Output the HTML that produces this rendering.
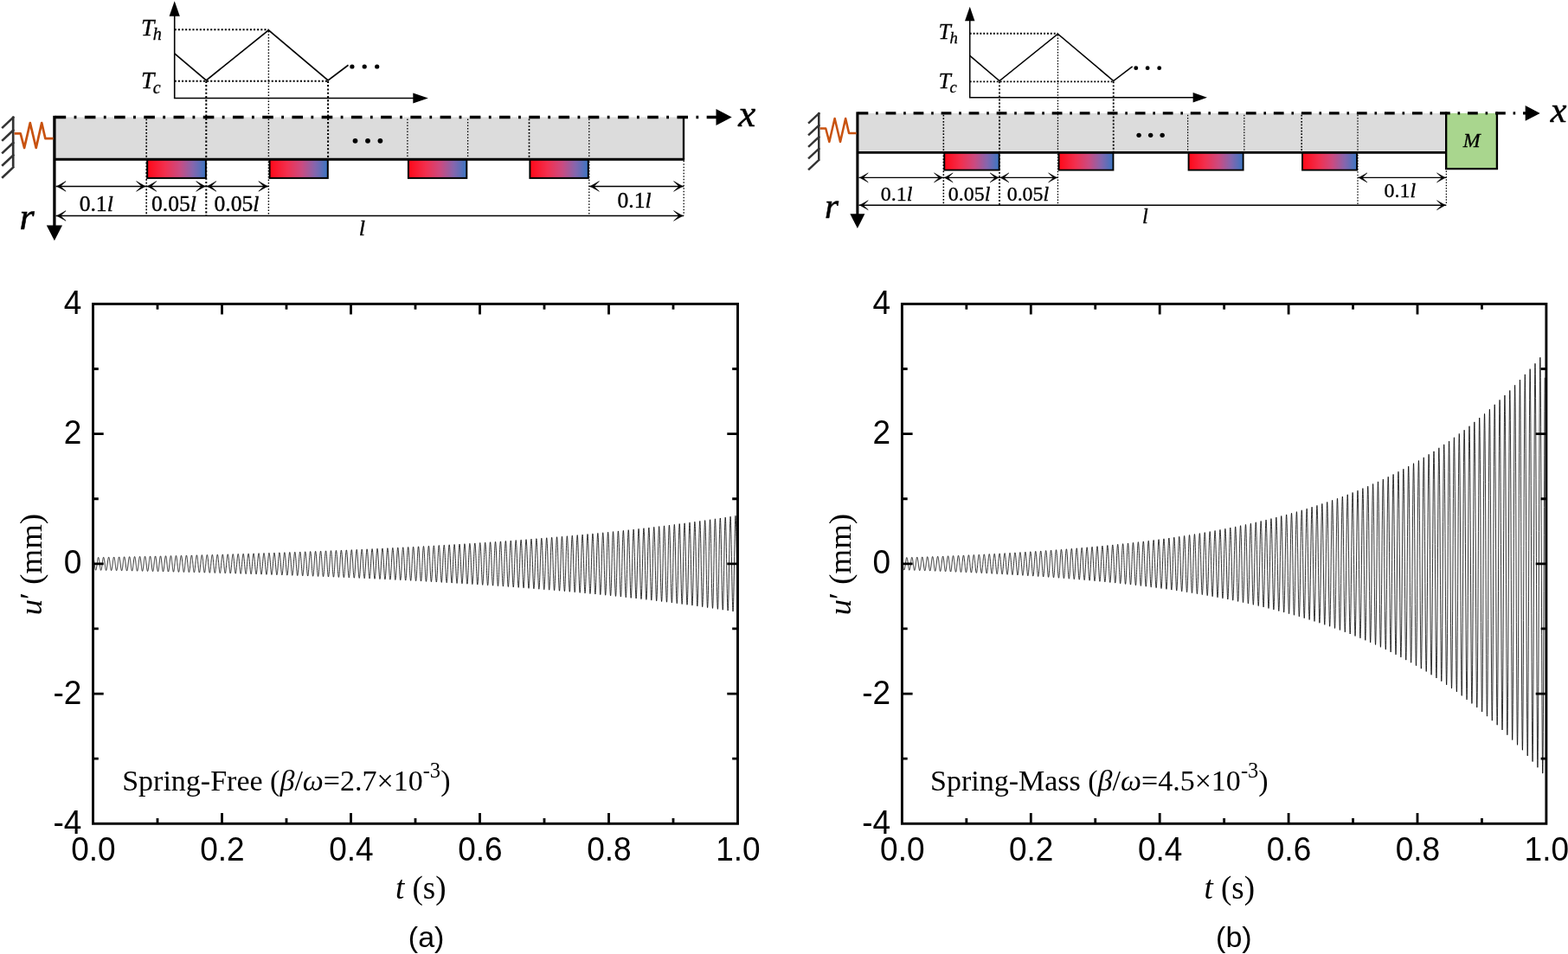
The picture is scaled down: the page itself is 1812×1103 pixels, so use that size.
<!DOCTYPE html>
<html lang="en"><head><meta charset="utf-8"><title>Spring-Free and Spring-Mass oscillation growth</title>
<style>html,body{margin:0;padding:0;background:#fff;overflow:hidden}svg{display:block}text{fill:#000}</style></head><body>
<svg width="1812" height="1103" viewBox="0 0 1812 1103">
<defs><linearGradient id="rb" x1="0" y1="0" x2="1" y2="0"><stop offset="0" stop-color="#ff0818"/><stop offset="0.3" stop-color="#f22f4e"/><stop offset="0.55" stop-color="#cc4a80"/><stop offset="0.78" stop-color="#8566ae"/><stop offset="1" stop-color="#3a76c2"/></linearGradient></defs>
<rect width="1812" height="1103" fill="#fff"/>
<g id="diagram1">
<rect x="62.9" y="135.5" width="727.1" height="48.7" fill="#dcdcdc"/>
<line x1="201.7" y1="113.5" x2="201.7" y2="16" stroke="#000" stroke-width="1.6" />
<polygon points="201.7,1.3 195.6,18.8 207.8,18.8" fill="#000"/>
<line x1="200.9" y1="113.5" x2="479" y2="113.5" stroke="#000" stroke-width="1.6" />
<polygon points="494.8,113.5 477.3,107.4 477.3,119.6" fill="#000"/>
<line x1="201.7" y1="34.3" x2="310.4" y2="34.3" stroke="#000" stroke-width="2" stroke-dasharray="2.05 2.1"/>
<line x1="201.7" y1="93.8" x2="379.1" y2="93.8" stroke="#000" stroke-width="2" stroke-dasharray="2.05 2.1"/>
<polyline fill="none" stroke="#000" stroke-width="1.7" stroke-linejoin="miter" points="201.7,61.8 238.3,92.9 310.4,34.8 379.1,92.9 402.5,75.2"/>
<circle cx="406.9" cy="77" r="2.6" fill="#000"/>
<circle cx="421.2" cy="77" r="2.6" fill="#000"/>
<circle cx="435.7" cy="77" r="2.6" fill="#000"/>
<text x="163" y="40.8" font-family='"Liberation Serif", "DejaVu Serif", serif' font-style="italic" font-size="27.5" stroke="#000" stroke-width="0.3">T<tspan font-size="20" dx="-1.5" dy="5.6">h</tspan></text>
<text x="163" y="102" font-family='"Liberation Serif", "DejaVu Serif", serif' font-style="italic" font-size="27.5" stroke="#000" stroke-width="0.3">T<tspan font-size="20" dx="-1.5" dy="5.6">c</tspan></text>
<line x1="169.2" y1="137.5" x2="169.2" y2="249" stroke="#000" stroke-width="1.65" stroke-dasharray="1.85 2"/>
<line x1="238.3" y1="93.8" x2="238.3" y2="249" stroke="#000" stroke-width="2" stroke-dasharray="2.1 2.2"/>
<line x1="310.4" y1="36" x2="310.4" y2="249" stroke="#000" stroke-width="1.4" stroke-dasharray="1.6 1.9"/>
<line x1="379.1" y1="93.8" x2="379.1" y2="184.2" stroke="#000" stroke-width="2" stroke-dasharray="2.1 2.2"/>
<line x1="470.9" y1="137.5" x2="470.9" y2="184.2" stroke="#000" stroke-width="1.3" stroke-dasharray="1.6 1.9"/>
<line x1="540.6" y1="137.5" x2="540.6" y2="184.2" stroke="#000" stroke-width="1.3" stroke-dasharray="1.6 1.9"/>
<line x1="611.5" y1="137.5" x2="611.5" y2="184.2" stroke="#000" stroke-width="1.65" stroke-dasharray="1.85 2"/>
<line x1="680.8" y1="137.5" x2="680.8" y2="249" stroke="#000" stroke-width="1.3" stroke-dasharray="1.6 1.9"/>
<line x1="790.2" y1="185.7" x2="790.2" y2="249" stroke="#000" stroke-width="1.3" stroke-dasharray="1.6 1.9"/>
<rect x="170.2" y="184.2" width="67.7" height="21.7" fill="url(#rb)" stroke="#000" stroke-width="2"/>
<rect x="311.6" y="184.2" width="67.2" height="21.7" fill="url(#rb)" stroke="#000" stroke-width="2"/>
<rect x="471.9" y="184.2" width="67.4" height="21.7" fill="url(#rb)" stroke="#000" stroke-width="2"/>
<rect x="612.4" y="184.2" width="67.4" height="21.7" fill="url(#rb)" stroke="#000" stroke-width="2"/>
<line x1="62.9" y1="184.2" x2="791.1" y2="184.2" stroke="#000" stroke-width="3" />
<line x1="790" y1="135.5" x2="790" y2="184.2" stroke="#000" stroke-width="2.3" />
<circle cx="410.5" cy="162.8" r="2.9" fill="#000"/>
<circle cx="425" cy="162.8" r="2.9" fill="#000"/>
<circle cx="439.4" cy="162.8" r="2.9" fill="#000"/>
<line x1="63.6" y1="135.5" x2="828.5" y2="135.5" stroke="#000" stroke-width="3.5" stroke-dasharray="12.6 9.4 2.8 9.43"/>
<polygon points="845.7,135.5 827.5,125.9 827.5,145.1" fill="#000"/>
<text x="853.2" y="145.9" font-family='"Liberation Serif", "DejaVu Serif", serif' font-style="italic" font-size="45" stroke="#000" stroke-width="0.5">x</text>
<line x1="62.9" y1="133.8" x2="62.9" y2="262" stroke="#000" stroke-width="3.3" />
<polygon points="62.9,278.3 53.8,260.4 72,260.4" fill="#000"/>
<text x="22.5" y="265" font-family='"Liberation Serif", "DejaVu Serif", serif' font-style="italic" font-size="44" stroke="#000" stroke-width="0.6">r</text>
<line x1="15.2" y1="134.6" x2="15.2" y2="192.8" stroke="#333" stroke-width="2.7" />
<line x1="16.2" y1="134.9" x2="2.2" y2="148.1" stroke="#333" stroke-width="2.6" />
<line x1="16.2" y1="149.7" x2="2.2" y2="162.9" stroke="#333" stroke-width="2.6" />
<line x1="16.2" y1="164.2" x2="2.2" y2="177.4" stroke="#333" stroke-width="2.6" />
<line x1="16.2" y1="178.6" x2="2.2" y2="191.8" stroke="#333" stroke-width="2.6" />
<line x1="16.2" y1="192.6" x2="2.2" y2="205.8" stroke="#333" stroke-width="2.6" />
<polyline fill="none" stroke="#c8520f" stroke-width="2.7" stroke-linejoin="round" points="16.6,154.4 23.7,154.4 28.1,171 34.8,142.1 41.7,171 48.2,142.1 52.4,160.2 61.5,160.2"/>
<line x1="64.5" y1="215.4" x2="169.2" y2="215.4" stroke="#000" stroke-width="1.5" />
<polygon fill="#000" stroke="#000" stroke-width="0.6" stroke-linejoin="miter" points="65.8,215.4 76.1,209.6 70,215.4 76.1,221.2"/>
<polygon fill="#000" stroke="#000" stroke-width="0.6" stroke-linejoin="miter" points="167.9,215.4 157.6,209.6 163.7,215.4 157.6,221.2"/>
<line x1="169.2" y1="215.4" x2="238.3" y2="215.4" stroke="#000" stroke-width="1.5" />
<polygon fill="#000" stroke="#000" stroke-width="0.6" stroke-linejoin="miter" points="170.5,215.4 180.8,209.6 174.7,215.4 180.8,221.2"/>
<polygon fill="#000" stroke="#000" stroke-width="0.6" stroke-linejoin="miter" points="237,215.4 226.7,209.6 232.8,215.4 226.7,221.2"/>
<line x1="238.3" y1="215.4" x2="310.4" y2="215.4" stroke="#000" stroke-width="1.5" />
<polygon fill="#000" stroke="#000" stroke-width="0.6" stroke-linejoin="miter" points="239.6,215.4 249.9,209.6 243.8,215.4 249.9,221.2"/>
<polygon fill="#000" stroke="#000" stroke-width="0.6" stroke-linejoin="miter" points="309.1,215.4 298.8,209.6 304.9,215.4 298.8,221.2"/>
<line x1="680.8" y1="215.4" x2="790.2" y2="215.4" stroke="#000" stroke-width="1.5" />
<polygon fill="#000" stroke="#000" stroke-width="0.6" stroke-linejoin="miter" points="682.1,215.4 692.4,209.6 686.3,215.4 692.4,221.2"/>
<polygon fill="#000" stroke="#000" stroke-width="0.6" stroke-linejoin="miter" points="788.9,215.4 778.6,209.6 784.7,215.4 778.6,221.2"/>
<line x1="64.5" y1="249.5" x2="790.2" y2="249.5" stroke="#000" stroke-width="1.5" />
<polygon fill="#000" stroke="#000" stroke-width="0.6" stroke-linejoin="miter" points="65.8,249.5 76.1,243.7 70,249.5 76.1,255.3"/>
<polygon fill="#000" stroke="#000" stroke-width="0.6" stroke-linejoin="miter" points="788.9,249.5 778.6,243.7 784.7,249.5 778.6,255.3"/>
<text x="111.2" y="243.6" text-anchor="middle" font-family='"Liberation Serif", "DejaVu Serif", serif' font-size="25.6" stroke="#000" stroke-width="0.35">0.1<tspan font-style="italic">l</tspan></text>
<text x="201" y="243.6" text-anchor="middle" font-family='"Liberation Serif", "DejaVu Serif", serif' font-size="25.6" stroke="#000" stroke-width="0.35">0.05<tspan font-style="italic">l</tspan></text>
<text x="273.5" y="243.6" text-anchor="middle" font-family='"Liberation Serif", "DejaVu Serif", serif' font-size="25.6" stroke="#000" stroke-width="0.35">0.05<tspan font-style="italic">l</tspan></text>
<text x="733" y="240.1" text-anchor="middle" font-family='"Liberation Serif", "DejaVu Serif", serif' font-size="25.6" stroke="#000" stroke-width="0.35">0.1<tspan font-style="italic">l</tspan></text>
<text x="418.3" y="271.5" text-anchor="middle" font-family='"Liberation Serif", "DejaVu Serif", serif' font-size="26" stroke="#000" stroke-width="0.35"><tspan font-style="italic">l</tspan></text>
</g>
<g id="diagram2">
<rect x="990.9" y="130.9" width="680.27" height="45.56" fill="#dcdcdc"/>
<line x1="1120.76" y1="112.79" x2="1120.76" y2="21.57" stroke="#000" stroke-width="1.5" />
<polygon points="1120.76,7.82 1115.05,24.19 1126.47,24.19" fill="#000"/>
<line x1="1120.01" y1="112.79" x2="1380.2" y2="112.79" stroke="#000" stroke-width="1.5" />
<polygon points="1394.98,112.79 1378.61,107.08 1378.61,118.5" fill="#000"/>
<line x1="1120.76" y1="38.69" x2="1222.46" y2="38.69" stroke="#000" stroke-width="1.87" stroke-dasharray="1.92 1.96"/>
<line x1="1120.76" y1="94.36" x2="1286.74" y2="94.36" stroke="#000" stroke-width="1.87" stroke-dasharray="1.92 1.96"/>
<polyline fill="none" stroke="#000" stroke-width="1.59" stroke-linejoin="miter" points="1120.76,64.42 1155,93.52 1222.46,39.16 1286.74,93.52 1308.63,76.96"/>
<circle cx="1312.75" cy="78.64" r="2.43" fill="#000"/>
<circle cx="1326.12" cy="78.64" r="2.43" fill="#000"/>
<circle cx="1339.69" cy="78.64" r="2.43" fill="#000"/>
<text x="1084.55" y="44.77" font-family='"Liberation Serif", "DejaVu Serif", serif' font-style="italic" font-size="25.73" stroke="#000" stroke-width="0.28">T<tspan font-size="18.71" dx="-1.4" dy="5.24">h</tspan></text>
<text x="1084.55" y="102.03" font-family='"Liberation Serif", "DejaVu Serif", serif' font-style="italic" font-size="25.73" stroke="#000" stroke-width="0.28">T<tspan font-size="18.71" dx="-1.4" dy="5.24">c</tspan></text>
<line x1="1090.35" y1="132.77" x2="1090.35" y2="236.74" stroke="#000" stroke-width="1.54" stroke-dasharray="1.73 1.87"/>
<line x1="1155" y1="94.36" x2="1155" y2="236.74" stroke="#000" stroke-width="1.87" stroke-dasharray="1.96 2.06"/>
<line x1="1222.46" y1="40.28" x2="1222.46" y2="236.74" stroke="#000" stroke-width="1.31" stroke-dasharray="1.5 1.78"/>
<line x1="1286.74" y1="94.36" x2="1286.74" y2="176.32" stroke="#000" stroke-width="1.87" stroke-dasharray="1.96 2.06"/>
<line x1="1372.62" y1="132.77" x2="1372.62" y2="176.32" stroke="#000" stroke-width="1.22" stroke-dasharray="1.5 1.78"/>
<line x1="1437.84" y1="132.77" x2="1437.84" y2="176.32" stroke="#000" stroke-width="1.22" stroke-dasharray="1.5 1.78"/>
<line x1="1504.17" y1="132.77" x2="1504.17" y2="176.32" stroke="#000" stroke-width="1.54" stroke-dasharray="1.73 1.87"/>
<line x1="1569.01" y1="132.77" x2="1569.01" y2="236.74" stroke="#000" stroke-width="1.22" stroke-dasharray="1.5 1.78"/>
<line x1="1671.36" y1="177.72" x2="1671.36" y2="236.74" stroke="#000" stroke-width="1.22" stroke-dasharray="1.5 1.78"/>
<rect x="1091.29" y="176.32" width="63.34" height="20.3" fill="url(#rb)" stroke="#000" stroke-width="1.87"/>
<rect x="1223.58" y="176.32" width="62.87" height="20.3" fill="url(#rb)" stroke="#000" stroke-width="1.87"/>
<rect x="1373.56" y="176.32" width="63.06" height="20.3" fill="url(#rb)" stroke="#000" stroke-width="1.87"/>
<rect x="1505.01" y="176.32" width="63.06" height="20.3" fill="url(#rb)" stroke="#000" stroke-width="1.87"/>
<line x1="990.9" y1="176.32" x2="1671.17" y2="176.32" stroke="#000" stroke-width="2.71" />
<rect x="1671.17" y="130.9" width="58.76" height="64.37" fill="#a9d68e"/>
<polyline fill="none" stroke="#000" stroke-width="2.34" stroke-linejoin="miter" points="1671.17,129.32 1671.17,195.06 1729.93,195.06 1729.93,129.32"/>
<text x="1700.74" y="169.98" text-anchor="middle" font-family='"Liberation Serif", "DejaVu Serif", serif' font-style="italic" font-size="23.86" stroke="#000" stroke-width="0.28">M</text>
<circle cx="1316.11" cy="156.36" r="2.71" fill="#000"/>
<circle cx="1329.68" cy="156.36" r="2.71" fill="#000"/>
<circle cx="1343.15" cy="156.36" r="2.71" fill="#000"/>
<line x1="991.55" y1="130.9" x2="1764.27" y2="130.9" stroke="#000" stroke-width="3.27" stroke-dasharray="11.79 8.79 2.62 8.82"/>
<polygon points="1779.7,130.9 1762.68,121.95 1762.68,139.86" fill="#000"/>
<text x="1791.87" y="140.6" font-family='"Liberation Serif", "DejaVu Serif", serif' font-style="italic" font-size="42.1" stroke="#000" stroke-width="0.47">x</text>
<line x1="990.9" y1="129.32" x2="990.9" y2="248.87" stroke="#000" stroke-width="3.09" />
<polygon points="990.9,264.06 982.39,247.37 999.41,247.37" fill="#000"/>
<text x="953.1" y="251.66" font-family='"Liberation Serif", "DejaVu Serif", serif' font-style="italic" font-size="41.17" stroke="#000" stroke-width="0.56">r</text>
<line x1="946.27" y1="130.06" x2="946.27" y2="184.34" stroke="#333" stroke-width="2.53" />
<line x1="947.21" y1="130.34" x2="934.11" y2="142.65" stroke="#333" stroke-width="2.43" />
<line x1="947.21" y1="144.15" x2="934.11" y2="156.45" stroke="#333" stroke-width="2.43" />
<line x1="947.21" y1="157.67" x2="934.11" y2="169.98" stroke="#333" stroke-width="2.43" />
<line x1="947.21" y1="171.09" x2="934.11" y2="183.4" stroke="#333" stroke-width="2.43" />
<line x1="947.21" y1="184.15" x2="934.11" y2="196.46" stroke="#333" stroke-width="2.43" />
<polyline fill="none" stroke="#c8520f" stroke-width="2.53" stroke-linejoin="round" points="947.58,148.53 954.22,148.53 958.34,164.01 964.61,137.06 971.06,164.01 977.15,137.06 981.08,153.94 989.59,153.94"/>
<line x1="992.4" y1="205.41" x2="1090.35" y2="205.41" stroke="#000" stroke-width="1.4" />
<polygon fill="#000" stroke="#000" stroke-width="0.56" stroke-linejoin="miter" points="993.61,205.41 1003.25,199.98 997.54,205.41 1003.25,210.84"/>
<polygon fill="#000" stroke="#000" stroke-width="0.56" stroke-linejoin="miter" points="1089.14,205.41 1079.5,199.98 1085.21,205.41 1079.5,210.84"/>
<line x1="1090.35" y1="205.41" x2="1155" y2="205.41" stroke="#000" stroke-width="1.4" />
<polygon fill="#000" stroke="#000" stroke-width="0.56" stroke-linejoin="miter" points="1091.57,205.41 1101.21,199.98 1095.5,205.41 1101.21,210.84"/>
<polygon fill="#000" stroke="#000" stroke-width="0.56" stroke-linejoin="miter" points="1153.79,205.41 1144.15,199.98 1149.86,205.41 1144.15,210.84"/>
<line x1="1155" y1="205.41" x2="1222.46" y2="205.41" stroke="#000" stroke-width="1.4" />
<polygon fill="#000" stroke="#000" stroke-width="0.56" stroke-linejoin="miter" points="1156.22,205.41 1165.86,199.98 1160.15,205.41 1165.86,210.84"/>
<polygon fill="#000" stroke="#000" stroke-width="0.56" stroke-linejoin="miter" points="1221.24,205.41 1211.61,199.98 1217.31,205.41 1211.61,210.84"/>
<line x1="1569.01" y1="205.41" x2="1671.36" y2="205.41" stroke="#000" stroke-width="1.4" />
<polygon fill="#000" stroke="#000" stroke-width="0.56" stroke-linejoin="miter" points="1570.22,205.41 1579.86,199.98 1574.15,205.41 1579.86,210.84"/>
<polygon fill="#000" stroke="#000" stroke-width="0.56" stroke-linejoin="miter" points="1670.14,205.41 1660.51,199.98 1666.22,205.41 1660.51,210.84"/>
<line x1="992.4" y1="237.21" x2="1671.36" y2="237.21" stroke="#000" stroke-width="1.4" />
<polygon fill="#000" stroke="#000" stroke-width="0.56" stroke-linejoin="miter" points="993.61,237.21 1003.25,231.78 997.54,237.21 1003.25,242.64"/>
<polygon fill="#000" stroke="#000" stroke-width="0.56" stroke-linejoin="miter" points="1670.14,237.21 1660.51,231.78 1666.22,237.21 1660.51,242.64"/>
<text x="1036.09" y="231.71" text-anchor="middle" font-family='"Liberation Serif", "DejaVu Serif", serif' font-size="23.95" stroke="#000" stroke-width="0.33">0.1<tspan font-style="italic">l</tspan></text>
<text x="1120.11" y="231.71" text-anchor="middle" font-family='"Liberation Serif", "DejaVu Serif", serif' font-size="23.95" stroke="#000" stroke-width="0.33">0.05<tspan font-style="italic">l</tspan></text>
<text x="1187.94" y="231.71" text-anchor="middle" font-family='"Liberation Serif", "DejaVu Serif", serif' font-size="23.95" stroke="#000" stroke-width="0.33">0.05<tspan font-style="italic">l</tspan></text>
<text x="1617.84" y="228.44" text-anchor="middle" font-family='"Liberation Serif", "DejaVu Serif", serif' font-size="23.95" stroke="#000" stroke-width="0.33">0.1<tspan font-style="italic">l</tspan></text>
<text x="1323.41" y="257.72" text-anchor="middle" font-family='"Liberation Serif", "DejaVu Serif", serif' font-size="24.33" stroke="#000" stroke-width="0.33"><tspan font-style="italic">l</tspan></text>
</g>
<g id="plot1">
<polyline fill="none" stroke="#000" stroke-width="0.8" stroke-linejoin="round" points="107.50,644.62 107.62,644.51 107.75,644.52 107.87,644.66 108.00,644.92 108.12,645.30 108.25,645.79 108.37,646.38 108.49,647.06 108.62,647.83 108.74,648.66 108.87,649.55 108.99,650.48 109.11,651.43 109.24,652.39 109.36,653.34 109.49,654.27 109.61,655.15 109.73,655.98 109.86,656.74 109.98,657.42 110.11,658.01 110.23,658.49 110.36,658.86 110.48,659.11 110.60,659.24 110.73,659.24 110.85,659.12 110.98,658.88 111.10,658.51 111.22,658.04 111.35,657.46 111.47,656.78 111.60,656.02 111.72,655.19 111.85,654.30 111.97,653.37 112.09,652.41 112.22,651.44 112.34,650.48 112.47,649.54 112.59,648.64 112.72,647.80 112.84,647.02 112.96,646.32 113.09,645.72 113.21,645.22 113.34,644.83 113.46,644.56 113.58,644.41 113.71,644.39 113.83,644.50 113.96,644.73 114.08,645.08 114.20,645.54 114.33,646.11 114.45,646.78 114.58,647.54 114.70,648.37 114.83,649.26 114.95,650.19 115.07,651.15 115.20,652.13 115.32,653.10 115.45,654.05 115.57,654.96 115.69,655.82 115.82,656.61 115.94,657.33 116.07,657.95 116.19,658.47 116.32,658.88 116.44,659.17 116.56,659.33 116.69,659.37 116.81,659.28 116.94,659.07 117.06,658.73 117.19,658.28 117.31,657.72 117.43,657.05 117.56,656.30 117.68,655.48 117.81,654.59 117.93,653.65 118.05,652.69 118.18,651.71 118.30,650.73 118.43,649.77 118.55,648.84 118.67,647.96 118.80,647.15 118.92,646.42 119.05,645.78 119.17,645.24 119.30,644.82 119.42,644.51 119.54,644.32 119.67,644.27 119.79,644.34 119.92,644.54 120.04,644.86 120.16,645.30 120.29,645.85 120.41,646.51 120.54,647.25 120.66,648.08 120.79,648.97 120.91,649.90 121.03,650.87 121.16,651.86 121.28,652.85 121.41,653.82 121.53,654.76 121.66,655.65 121.78,656.48 121.90,657.23 122.03,657.89 122.15,658.44 122.28,658.89 122.40,659.22 122.52,659.42 122.65,659.49 122.77,659.44 122.90,659.25 123.02,658.94 123.14,658.51 123.27,657.97 123.39,657.33 123.52,656.59 123.64,655.77 123.77,654.88 123.89,653.94 124.01,652.96 124.14,651.97 124.26,650.97 124.39,649.99 124.51,649.04 124.64,648.13 124.76,647.29 124.88,646.52 125.01,645.85 125.13,645.27 125.26,644.81 125.38,644.46 125.50,644.24 125.63,644.15 125.75,644.19 125.88,644.36 126.00,644.65 126.12,645.07 126.25,645.60 126.37,646.24 126.50,646.97 126.62,647.79 126.75,648.68 126.87,649.62 126.99,650.60 127.12,651.60 127.24,652.60 127.37,653.60 127.49,654.56 127.61,655.48 127.74,656.34 127.86,657.12 127.99,657.82 128.11,658.41 128.24,658.89 128.36,659.26 128.48,659.50 128.61,659.61 128.73,659.58 128.86,659.43 128.98,659.15 129.10,658.74 129.23,658.22 129.35,657.59 129.48,656.86 129.60,656.05 129.73,655.17 129.85,654.22 129.97,653.24 130.10,652.24 130.22,651.22 130.35,650.22 130.47,649.24 130.59,648.31 130.72,647.43 130.84,646.63 130.97,645.92 131.09,645.31 131.22,644.81 131.34,644.42 131.46,644.17 131.59,644.04 131.71,644.05 131.84,644.18 131.96,644.45 132.09,644.84 132.21,645.35 132.33,645.98 132.46,646.70 132.58,647.51 132.71,648.39 132.83,649.33 132.95,650.32 133.08,651.33 133.20,652.35 133.33,653.37 133.45,654.36 133.57,655.30 133.70,656.19 133.82,657.01 133.95,657.74 134.07,658.37 134.20,658.89 134.32,659.29 134.44,659.57 134.57,659.71 134.69,659.72 134.82,659.60 134.94,659.35 135.06,658.97 135.19,658.47 135.31,657.85 135.44,657.14 135.56,656.33 135.69,655.45 135.81,654.51 135.93,653.52 136.06,652.50 136.18,651.47 136.31,650.45 136.43,649.45 136.56,648.48 136.68,647.58 136.80,646.75 136.93,646.00 137.05,645.35 137.18,644.81 137.30,644.39 137.42,644.10 137.55,643.94 137.67,643.91 137.80,644.01 137.92,644.25 138.05,644.62 138.17,645.11 138.29,645.72 138.42,646.42 138.54,647.23 138.67,648.11 138.79,649.05 138.91,650.04 139.04,651.07 139.16,652.10 139.29,653.14 139.41,654.15 139.53,655.13 139.66,656.05 139.78,656.89 139.91,657.66 140.03,658.32 140.16,658.88 140.28,659.32 140.40,659.63 140.53,659.81 140.65,659.86 140.78,659.77 140.90,659.54 141.03,659.19 141.15,658.71 141.27,658.11 141.40,657.41 141.52,656.61 141.65,655.73 141.77,654.79 141.89,653.79 142.02,652.77 142.14,651.72 142.27,650.68 142.39,649.65 142.51,648.66 142.64,647.73 142.76,646.87 142.89,646.08 143.01,645.40 143.14,644.82 143.26,644.37 143.38,644.04 143.51,643.84 143.63,643.78 143.76,643.85 143.88,644.06 144.00,644.40 144.13,644.87 144.25,645.46 144.38,646.16 144.50,646.95 144.63,647.83 144.75,648.77 144.87,649.77 145.00,650.80 145.12,651.85 145.25,652.91 145.37,653.94 145.50,654.94 145.62,655.89 145.74,656.77 145.87,657.57 145.99,658.27 146.12,658.87 146.24,659.34 146.36,659.69 146.49,659.91 146.61,659.99 146.74,659.93 146.86,659.73 146.99,659.40 147.11,658.94 147.23,658.37 147.36,657.68 147.48,656.89 147.61,656.01 147.73,655.07 147.85,654.07 147.98,653.03 148.10,651.97 148.23,650.91 148.35,649.86 148.47,648.85 148.60,647.88 148.72,646.99 148.85,646.17 148.97,645.45 149.10,644.84 149.22,644.35 149.34,643.98 149.47,643.75 149.59,643.65 149.72,643.70 149.84,643.88 149.97,644.19 150.09,644.64 150.21,645.21 150.34,645.89 150.46,646.67 150.59,647.55 150.71,648.49 150.83,649.49 150.96,650.54 151.08,651.60 151.21,652.68 151.33,653.73 151.45,654.76 151.58,655.74 151.70,656.65 151.83,657.48 151.95,658.22 152.08,658.85 152.20,659.36 152.32,659.74 152.45,659.99 152.57,660.11 152.70,660.08 152.82,659.91 152.94,659.61 153.07,659.17 153.19,658.61 153.32,657.94 153.44,657.16 153.57,656.29 153.69,655.35 153.81,654.34 153.94,653.29 154.06,652.22 154.19,651.14 154.31,650.07 154.44,649.03 154.56,648.04 154.68,647.11 154.81,646.26 154.93,645.51 155.06,644.86 155.18,644.33 155.30,643.93 155.43,643.66 155.55,643.53 155.68,643.54 155.80,643.70 155.93,643.99 156.05,644.41 156.17,644.96 156.30,645.63 156.42,646.40 156.55,647.27 156.67,648.22 156.79,649.22 156.92,650.28 157.04,651.35 157.17,652.44 157.29,653.52 157.41,654.57 157.54,655.58 157.66,656.52 157.79,657.39 157.91,658.16 158.04,658.83 158.16,659.37 158.28,659.79 158.41,660.08 158.53,660.22 158.66,660.23 158.78,660.09 158.91,659.81 159.03,659.40 159.15,658.86 159.28,658.20 159.40,657.43 159.53,656.57 159.65,655.62 159.77,654.61 159.90,653.56 160.02,652.47 160.15,651.37 160.27,650.28 160.40,649.22 160.52,648.20 160.64,647.24 160.77,646.36 160.89,645.57 161.02,644.89 161.14,644.32 161.26,643.88 161.39,643.58 161.51,643.42 161.64,643.40 161.76,643.52 161.88,643.79 162.01,644.19 162.13,644.72 162.26,645.37 162.38,646.14 162.51,647.00 162.63,647.94 162.75,648.95 162.88,650.01 163.00,651.11 163.13,652.21 163.25,653.31 163.38,654.39 163.50,655.42 163.62,656.40 163.75,657.29 163.87,658.10 164.00,658.80 164.12,659.38 164.24,659.84 164.37,660.16 164.49,660.34 164.62,660.37 164.74,660.26 164.87,660.01 164.99,659.62 165.11,659.10 165.24,658.45 165.36,657.69 165.49,656.84 165.61,655.89 165.73,654.88 165.86,653.82 165.98,652.72 166.11,651.60 166.23,650.49 166.35,649.41 166.48,648.36 166.60,647.37 166.73,646.46 166.85,645.63 166.98,644.92 167.10,644.31 167.22,643.84 167.35,643.50 167.47,643.31 167.60,643.26 167.72,643.35 167.84,643.59 167.97,643.97 168.09,644.48 168.22,645.12 168.34,645.87 168.47,646.73 168.59,647.67 168.71,648.69 168.84,649.75 168.96,650.86 169.09,651.98 169.21,653.10 169.34,654.20 169.46,655.26 169.58,656.27 169.71,657.20 169.83,658.03 169.96,658.77 170.08,659.39 170.20,659.88 170.33,660.23 170.45,660.45 170.58,660.51 170.70,660.43 170.82,660.21 170.95,659.84 171.07,659.33 171.20,658.70 171.32,657.96 171.45,657.10 171.57,656.16 171.69,655.15 171.82,654.08 171.94,652.97 172.07,651.84 172.19,650.70 172.31,649.59 172.44,648.52 172.56,647.50 172.69,646.55 172.81,645.70 172.94,644.95 173.06,644.31 173.18,643.80 173.31,643.43 173.43,643.20 173.56,643.12 173.68,643.19 173.81,643.40 173.93,643.75 174.05,644.25 174.18,644.87 174.30,645.61 174.43,646.46 174.55,647.40 174.67,648.42 174.80,649.50 174.92,650.61 175.05,651.75 175.17,652.89 175.30,654.01 175.42,655.10 175.54,656.13 175.67,657.10 175.79,657.97 175.92,658.74 176.04,659.39 176.16,659.92 176.29,660.30 176.41,660.55 176.54,660.65 176.66,660.60 176.78,660.40 176.91,660.05 177.03,659.57 177.16,658.95 177.28,658.21 177.41,657.37 177.53,656.43 177.65,655.41 177.78,654.33 177.90,653.21 178.03,652.07 178.15,650.92 178.28,649.78 178.40,648.68 178.52,647.63 178.65,646.66 178.77,645.77 178.90,644.98 179.02,644.31 179.14,643.77 179.27,643.36 179.39,643.10 179.52,642.99 179.64,643.02 179.76,643.21 179.89,643.54 180.01,644.02 180.14,644.63 180.26,645.36 180.39,646.20 180.51,647.14 180.63,648.16 180.76,649.24 180.88,650.37 181.01,651.52 181.13,652.68 181.25,653.83 181.38,654.94 181.50,656.00 181.63,656.99 181.75,657.90 181.88,658.70 182.00,659.39 182.12,659.95 182.25,660.37 182.37,660.65 182.50,660.78 182.62,660.76 182.75,660.58 182.87,660.26 182.99,659.80 183.12,659.19 183.24,658.47 183.37,657.63 183.49,656.69 183.61,655.67 183.74,654.59 183.86,653.45 183.99,652.29 184.11,651.12 184.24,649.97 184.36,648.84 184.48,647.76 184.61,646.76 184.73,645.84 184.86,645.02 184.98,644.31 185.10,643.73 185.23,643.29 185.35,643.00 185.48,642.86 185.60,642.86 185.72,643.03 185.85,643.34 185.97,643.79 186.10,644.38 186.22,645.11 186.35,645.94 186.47,646.88 186.59,647.90 186.72,648.99 186.84,650.12 186.97,651.29 187.09,652.47 187.22,653.64 187.34,654.78 187.46,655.87 187.59,656.89 187.71,657.83 187.84,658.67 187.96,659.39 188.08,659.98 188.21,660.44 188.33,660.75 188.46,660.91 188.58,660.91 188.70,660.77 188.83,660.47 188.95,660.02 189.08,659.43 189.20,658.72 189.33,657.89 189.45,656.95 189.57,655.93 189.70,654.84 189.82,653.70 189.95,652.52 190.07,651.33 190.19,650.15 190.32,649.00 190.44,647.90 190.57,646.86 190.69,645.91 190.82,645.05 190.94,644.31 191.06,643.70 191.19,643.23 191.31,642.90 191.44,642.73 191.56,642.71 191.69,642.84 191.81,643.13 191.93,643.57 192.06,644.15 192.18,644.86 192.31,645.68 192.43,646.62 192.55,647.64 192.68,648.74 192.80,649.88 192.93,651.07 193.05,652.26 193.18,653.46 193.30,654.62 193.42,655.74 193.55,656.79 193.67,657.76 193.80,658.63 193.92,659.38 194.04,660.01 194.17,660.50 194.29,660.84 194.42,661.03 194.54,661.07 194.67,660.95 194.79,660.67 194.91,660.24 195.04,659.67 195.16,658.97 195.29,658.14 195.41,657.21 195.53,656.19 195.66,655.09 195.78,653.93 195.91,652.74 196.03,651.54 196.16,650.34 196.28,649.16 196.40,648.03 196.53,646.96 196.65,645.98 196.78,645.09 196.90,644.32 197.02,643.67 197.15,643.17 197.27,642.81 197.40,642.60 197.52,642.56 197.64,642.67 197.77,642.93 197.89,643.35 198.02,643.91 198.14,644.61 198.27,645.43 198.39,646.36 198.51,647.39 198.64,648.49 198.76,649.65 198.89,650.84 199.01,652.06 199.13,653.27 199.26,654.46 199.38,655.61 199.51,656.69 199.63,657.69 199.76,658.59 199.88,659.38 200.00,660.04 200.13,660.56 200.25,660.94 200.38,661.16 200.50,661.22 200.62,661.12 200.75,660.87 200.87,660.46 201.00,659.90 201.12,659.21 201.25,658.39 201.37,657.47 201.49,656.44 201.62,655.34 201.74,654.17 201.87,652.97 201.99,651.74 202.12,650.52 202.24,649.32 202.36,648.16 202.49,647.06 202.61,646.05 202.74,645.13 202.86,644.32 202.98,643.64 203.11,643.11 203.23,642.72 203.36,642.48 203.48,642.41 203.61,642.49 203.73,642.73 203.85,643.13 203.98,643.68 204.10,644.37 204.23,645.18 204.35,646.11 204.47,647.14 204.60,648.24 204.72,649.41 204.85,650.62 204.97,651.86 205.09,653.09 205.22,654.30 205.34,655.48 205.47,656.59 205.59,657.62 205.72,658.55 205.84,659.38 205.96,660.07 206.09,660.62 206.21,661.03 206.34,661.28 206.46,661.37 206.58,661.30 206.71,661.06 206.83,660.67 206.96,660.13 207.08,659.45 207.21,658.64 207.33,657.72 207.45,656.69 207.58,655.58 207.70,654.40 207.83,653.19 207.95,651.94 208.07,650.70 208.20,649.47 208.32,648.29 208.45,647.16 208.57,646.11 208.70,645.16 208.82,644.33 208.94,643.62 209.07,643.05 209.19,642.62 209.32,642.36 209.44,642.26 209.56,642.32 209.69,642.54 209.81,642.92 209.94,643.45 210.06,644.13 210.19,644.93 210.31,645.86 210.43,646.89 210.56,648.00 210.68,649.18 210.81,650.41 210.93,651.66 211.06,652.91 211.18,654.15 211.30,655.35 211.43,656.49 211.55,657.55 211.68,658.52 211.80,659.37 211.92,660.10 212.05,660.68 212.17,661.12 212.30,661.40 212.42,661.52 212.55,661.47 212.67,661.26 212.79,660.89 212.92,660.36 213.04,659.69 213.17,658.89 213.29,657.96 213.41,656.93 213.54,655.82 213.66,654.63 213.79,653.40 213.91,652.14 214.03,650.88 214.16,649.63 214.28,648.41 214.41,647.26 214.53,646.18 214.66,645.20 214.78,644.33 214.90,643.59 215.03,642.99 215.15,642.53 215.28,642.24 215.40,642.11 215.53,642.15 215.65,642.35 215.77,642.71 215.90,643.23 216.02,643.89 216.15,644.69 216.27,645.61 216.39,646.64 216.52,647.76 216.64,648.95 216.77,650.19 216.89,651.46 217.01,652.74 217.14,654.00 217.26,655.22 217.39,656.39 217.51,657.49 217.64,658.48 217.76,659.37 217.88,660.13 218.01,660.74 218.13,661.21 218.26,661.52 218.38,661.66 218.50,661.64 218.63,661.45 218.75,661.10 218.88,660.59 219.00,659.93 219.13,659.13 219.25,658.21 219.37,657.18 219.50,656.05 219.62,654.86 219.75,653.61 219.87,652.34 220.00,651.05 220.12,649.78 220.24,648.54 220.37,647.35 220.49,646.25 220.62,645.23 220.74,644.33 220.86,643.56 220.99,642.93 221.11,642.44 221.24,642.12 221.36,641.96 221.49,641.98 221.61,642.15 221.73,642.50 221.86,643.00 221.98,643.66 222.11,644.45 222.23,645.37 222.35,646.40 222.48,647.53 222.60,648.73 222.73,649.98 222.85,651.27 222.97,652.56 223.10,653.85 223.22,655.10 223.35,656.30 223.47,657.42 223.60,658.45 223.72,659.37 223.84,660.16 223.97,660.81 224.09,661.30 224.22,661.64 224.34,661.81 224.47,661.81 224.59,661.64 224.71,661.31 224.84,660.81 224.96,660.16 225.09,659.37 225.21,658.45 225.33,657.42 225.46,656.29 225.58,655.08 225.71,653.82 225.83,652.53 225.95,651.22 226.08,649.92 226.20,648.66 226.33,647.45 226.45,646.31 226.58,645.27 226.70,644.33 226.82,643.53 226.95,642.86 227.07,642.35 227.20,642.00 227.32,641.82 227.44,641.81 227.57,641.96 227.69,642.29 227.82,642.78 227.94,643.43 228.07,644.21 228.19,645.13 228.31,646.17 228.44,647.30 228.56,648.51 228.69,649.77 228.81,651.08 228.94,652.39 229.06,653.70 229.18,654.98 229.31,656.21 229.43,657.36 229.56,658.42 229.68,659.37 229.80,660.19 229.93,660.87 230.05,661.39 230.18,661.76 230.30,661.95 230.43,661.98 230.55,661.83 230.67,661.51 230.80,661.03 230.92,660.39 231.05,659.60 231.17,658.69 231.29,657.65 231.42,656.52 231.54,655.30 231.67,654.03 231.79,652.72 231.92,651.39 232.04,650.07 232.16,648.78 232.29,647.54 232.41,646.37 232.54,645.30 232.66,644.33 232.78,643.50 232.91,642.80 233.03,642.26 233.16,641.88 233.28,641.67 233.41,641.64 233.53,641.78 233.65,642.09 233.78,642.56 233.90,643.20 234.03,643.98 234.15,644.90 234.27,645.93 234.40,647.07 234.52,648.29 234.65,649.57 234.77,650.89 234.89,652.23 235.02,653.56 235.14,654.87 235.27,656.12 235.39,657.30 235.52,658.39 235.64,659.37 235.76,660.22 235.89,660.93 236.01,661.49 236.14,661.88 236.26,662.10 236.38,662.15 236.51,662.02 236.63,661.72 236.76,661.25 236.88,660.62 237.01,659.84 237.13,658.92 237.25,657.88 237.38,656.74 237.50,655.52 237.63,654.23 237.75,652.90 237.88,651.55 238.00,650.21 238.12,648.89 238.25,647.62 238.37,646.43 238.50,645.32 238.62,644.33 238.74,643.46 238.87,642.74 238.99,642.17 239.12,641.76 239.24,641.53 239.37,641.47 239.49,641.59 239.61,641.88 239.74,642.35 239.86,642.97 239.99,643.75 240.11,644.66 240.23,645.70 240.36,646.85 240.48,648.08 240.61,649.37 240.73,650.71 240.85,652.07 240.98,653.43 241.10,654.75 241.23,656.04 241.35,657.25 241.48,658.37 241.60,659.38 241.72,660.26 241.85,661.00 241.97,661.58 242.10,662.00 242.22,662.24 242.34,662.31 242.47,662.20 242.59,661.92 242.72,661.46 242.84,660.84 242.97,660.07 243.09,659.15 243.21,658.11 243.34,656.96 243.46,655.73 243.59,654.42 243.71,653.08 243.84,651.71 243.96,650.34 244.08,649.00 244.21,647.70 244.33,646.48 244.46,645.34 244.58,644.32 244.70,643.42 244.83,642.67 244.95,642.07 245.08,641.64 245.20,641.38 245.32,641.30 245.45,641.40 245.57,641.68 245.70,642.13 245.82,642.75 245.95,643.52 246.07,644.44 246.19,645.48 246.32,646.63 246.44,647.87 246.57,649.18 246.69,650.54 246.81,651.91 246.94,653.29 247.06,654.65 247.19,655.96 247.31,657.20 247.44,658.35 247.56,659.38 247.68,660.30 247.81,661.06 247.93,661.68 248.06,662.12 248.18,662.39 248.31,662.48 248.43,662.39 248.55,662.12 248.68,661.68 248.80,661.06 248.93,660.29 249.05,659.38 249.17,658.33 249.30,657.18 249.42,655.93 249.55,654.62 249.67,653.25 249.79,651.86 249.92,650.47 250.04,649.10 250.17,647.78 250.29,646.53 250.42,645.36 250.54,644.31 250.66,643.38 250.79,642.60 250.91,641.97 251.04,641.52 251.16,641.24 251.28,641.13 251.41,641.22 251.53,641.48 251.66,641.92 251.78,642.53 251.91,643.30 252.03,644.21 252.15,645.26 252.28,646.41 252.40,647.67 252.53,648.99 252.65,650.36 252.78,651.76 252.90,653.17 253.02,654.55 253.15,655.88 253.27,657.15 253.40,658.33 253.52,659.40 253.64,660.34 253.77,661.14 253.89,661.78 254.02,662.25 254.14,662.54 254.26,662.65 254.39,662.58 254.51,662.32 254.64,661.89 254.76,661.28 254.89,660.52 255.01,659.60 255.13,658.55 255.26,657.39 255.38,656.13 255.51,654.80 255.63,653.42 255.75,652.01 255.88,650.59 256.00,649.20 256.13,647.85 256.25,646.57 256.38,645.38 256.50,644.29 256.62,643.34 256.75,642.53 256.87,641.87 257.00,641.39 257.12,641.09 257.25,640.97 257.37,641.03 257.49,641.28 257.62,641.71 257.74,642.31 257.87,643.07 257.99,643.99 258.11,645.04 258.24,646.20 258.36,647.47 258.49,648.81 258.61,650.20 258.74,651.62 258.86,653.05 258.98,654.45 259.11,655.82 259.23,657.11 259.36,658.32 259.48,659.42 259.60,660.39 259.73,661.21 259.85,661.88 259.98,662.37 260.10,662.69 260.23,662.82 260.35,662.76 260.47,662.52 260.60,662.10 260.72,661.50 260.85,660.74 260.97,659.82 261.09,658.77 261.22,657.60 261.34,656.33 261.47,654.98 261.59,653.58 261.72,652.15 261.84,650.71 261.96,649.29 262.09,647.92 262.21,646.61 262.34,645.38 262.46,644.27 262.58,643.29 262.71,642.45 262.83,641.77 262.96,641.26 263.08,640.94 263.21,640.80 263.33,640.84 263.45,641.08 263.58,641.50 263.70,642.09 263.83,642.85 263.95,643.77 264.07,644.82 264.20,646.00 264.32,647.27 264.45,648.63 264.57,650.04 264.69,651.48 264.82,652.93 264.94,654.36 265.07,655.75 265.19,657.08 265.32,658.31 265.44,659.44 265.56,660.44 265.69,661.29 265.81,661.98 265.94,662.50 266.06,662.84 266.19,662.99 266.31,662.95 266.43,662.72 266.56,662.31 266.68,661.72 266.81,660.96 266.93,660.04 267.05,658.98 267.18,657.80 267.30,656.52 267.43,655.16 267.55,653.74 267.68,652.28 267.80,650.82 267.92,649.38 268.05,647.98 268.17,646.64 268.30,645.39 268.42,644.25 268.54,643.23 268.67,642.37 268.79,641.66 268.92,641.13 269.04,640.78 269.16,640.62 269.29,640.65 269.41,640.88 269.54,641.29 269.66,641.88 269.79,642.64 269.91,643.55 270.03,644.61 270.16,645.80 270.28,647.09 270.41,648.46 270.53,649.89 270.65,651.35 270.78,652.82 270.90,654.28 271.03,655.70 271.15,657.05 271.28,658.31 271.40,659.47 271.52,660.50 271.65,661.37 271.77,662.09 271.90,662.63 272.02,662.99 272.14,663.16 272.27,663.14 272.39,662.92 272.52,662.52 272.64,661.93 272.77,661.17 272.89,660.25 273.01,659.19 273.14,658.00 273.26,656.70 273.39,655.33 273.51,653.89 273.63,652.41 273.76,650.93 273.88,649.46 274.01,648.03 274.13,646.66 274.26,645.38 274.38,644.21 274.50,643.17 274.63,642.28 274.75,641.55 274.88,641.00 275.00,640.63 275.12,640.45 275.25,640.47 275.37,640.68 275.50,641.08 275.62,641.66 275.75,642.42 275.87,643.34 275.99,644.41 276.12,645.60 276.24,646.90 276.37,648.29 276.49,649.74 276.62,651.23 276.74,652.72 276.86,654.21 276.99,655.65 277.11,657.03 277.24,658.32 277.36,659.51 277.48,660.56 277.61,661.46 277.73,662.21 277.86,662.77 277.98,663.15 278.11,663.34 278.23,663.33 278.35,663.12 278.48,662.73 278.60,662.14 278.73,661.38 278.85,660.46 278.97,659.39 279.10,658.19 279.22,656.88 279.35,655.49 279.47,654.03 279.60,652.53 279.72,651.02 279.84,649.53 279.97,648.07 280.09,646.68 280.22,645.37 280.34,644.17 280.46,643.11 280.59,642.19 280.71,641.44 280.84,640.86 280.96,640.47 281.09,640.27 281.21,640.28 281.33,640.48 281.46,640.87 281.58,641.45 281.71,642.21 281.83,643.13 281.95,644.21 282.08,645.41 282.20,646.73 282.33,648.13 282.45,649.60 282.57,651.11 282.70,652.63 282.82,654.14 282.95,655.61 283.07,657.02 283.20,658.34 283.32,659.55 283.44,660.63 283.57,661.56 283.69,662.32 283.82,662.91 283.94,663.31 284.06,663.51 284.19,663.52 284.31,663.33 284.44,662.93 284.56,662.35 284.69,661.59 284.81,660.67 284.93,659.59 285.06,658.38 285.18,657.06 285.31,655.64 285.43,654.17 285.56,652.65 285.68,651.11 285.80,649.59 285.93,648.11 286.05,646.69 286.18,645.35 286.30,644.13 286.42,643.03 286.55,642.09 286.67,641.31 286.80,640.72 286.92,640.31 287.04,640.10 287.17,640.08 287.29,640.27 287.42,640.66 287.54,641.24 287.67,642.00 287.79,642.93 287.91,644.01 288.04,645.23 288.16,646.56 288.29,647.98 288.41,649.47 288.53,651.00 288.66,652.54 288.78,654.08 288.91,655.58 289.03,657.01 289.16,658.36 289.28,659.60 289.40,660.70 289.53,661.66 289.65,662.45 289.78,663.06 289.90,663.48 290.02,663.69 290.15,663.71 290.27,663.53 290.40,663.14 290.52,662.56 290.65,661.80 290.77,660.87 290.89,659.78 291.02,658.56 291.14,657.22 291.27,655.79 291.39,654.29 291.51,652.75 291.64,651.20 291.76,649.65 291.89,648.14 292.01,646.69 292.14,645.32 292.26,644.07 292.38,642.95 292.51,641.99 292.63,641.19 292.76,640.57 292.88,640.14 293.00,639.91 293.13,639.89 293.25,640.07 293.38,640.45 293.50,641.03 293.63,641.79 293.75,642.73 293.87,643.82 294.00,645.05 294.12,646.39 294.25,647.83 294.37,649.34 294.50,650.90 294.62,652.47 294.74,654.03 294.87,655.55 294.99,657.02 295.12,658.39 295.24,659.66 295.36,660.79 295.49,661.77 295.61,662.58 295.74,663.21 295.86,663.64 295.99,663.88 296.11,663.91 296.23,663.73 296.36,663.35 296.48,662.77 296.61,662.01 296.73,661.07 296.85,659.97 296.98,658.74 297.10,657.38 297.23,655.94 297.35,654.42 297.48,652.85 297.60,651.27 297.72,649.69 297.85,648.15 297.97,646.68 298.10,645.29 298.22,644.01 298.34,642.87 298.47,641.87 298.59,641.05 298.72,640.41 298.84,639.97 298.97,639.73 299.09,639.70 299.21,639.87 299.34,640.25 299.46,640.82 299.59,641.59 299.71,642.53 299.83,643.63 299.96,644.88 300.08,646.24 300.21,647.70 300.33,649.23 300.46,650.80 300.58,652.40 300.70,653.99 300.83,655.54 300.95,657.03 301.08,658.43 301.20,659.72 301.32,660.88 301.45,661.88 301.57,662.72 301.70,663.36 301.82,663.82 301.94,664.06 302.07,664.10 302.19,663.93 302.32,663.56 302.44,662.98 302.57,662.21 302.69,661.27 302.81,660.16 302.94,658.91 303.06,657.54 303.19,656.07 303.31,654.53 303.44,652.94 303.56,651.33 303.68,649.73 303.81,648.16 303.93,646.66 304.06,645.24 304.18,643.94 304.30,642.77 304.43,641.76 304.55,640.91 304.68,640.25 304.80,639.80 304.93,639.54 305.05,639.50 305.17,639.67 305.30,640.04 305.42,640.62 305.55,641.39 305.67,642.34 305.79,643.45 305.92,644.71 306.04,646.09 306.17,647.57 306.29,649.12 306.41,650.72 306.54,652.34 306.66,653.96 306.79,655.54 306.91,657.05 307.04,658.48 307.16,659.80 307.28,660.98 307.41,662.01 307.53,662.86 307.66,663.53 307.78,663.99 307.90,664.25 308.03,664.30 308.15,664.14 308.28,663.76 308.40,663.18 308.53,662.41 308.65,661.46 308.77,660.34 308.90,659.07 309.02,657.68 309.15,656.20 309.27,654.63 309.39,653.02 309.52,651.38 309.64,649.76 309.77,648.16 309.89,646.63 310.02,645.19 310.14,643.86 310.26,642.67 310.39,641.63 310.51,640.76 310.64,640.09 310.76,639.62 310.88,639.35 311.01,639.30 311.13,639.46 311.26,639.83 311.38,640.41 311.51,641.19 311.63,642.15 311.75,643.27 311.88,644.55 312.00,645.94 312.13,647.44 312.25,649.02 312.38,650.65 312.50,652.29 312.62,653.94 312.75,655.54 312.87,657.09 313.00,658.54 313.12,659.88 313.24,661.09 313.37,662.14 313.49,663.01 313.62,663.70 313.74,664.18 313.87,664.45 313.99,664.50 314.11,664.34 314.24,663.97 314.36,663.39 314.49,662.61 314.61,661.64 314.73,660.51 314.86,659.23 314.98,657.82 315.11,656.31 315.23,654.72 315.36,653.09 315.48,651.43 315.60,649.77 315.73,648.15 315.85,646.59 315.98,645.12 316.10,643.77 316.22,642.55 316.35,641.49 316.47,640.61 316.60,639.92 316.72,639.43 316.85,639.15 316.97,639.09 317.09,639.25 317.22,639.63 317.34,640.21 317.47,640.99 317.59,641.96 317.71,643.10 317.84,644.39 317.96,645.81 318.09,647.33 318.21,648.93 318.34,650.58 318.46,652.26 318.58,653.93 318.71,655.56 318.83,657.13 318.96,658.61 319.08,659.98 319.20,661.21 319.33,662.28 319.45,663.17 319.58,663.87 319.70,664.37 319.82,664.65 319.95,664.71 320.07,664.55 320.20,664.18 320.32,663.59 320.45,662.80 320.57,661.83 320.69,660.68 320.82,659.38 320.94,657.95 321.07,656.42 321.19,654.81 321.31,653.14 321.44,651.46 321.56,649.78 321.69,648.13 321.81,646.54 321.94,645.05 322.06,643.67 322.18,642.43 322.31,641.35 322.43,640.45 322.56,639.74 322.68,639.24 322.81,638.95 322.93,638.89 323.05,639.05 323.18,639.42 323.30,640.01 323.43,640.80 323.55,641.78 323.67,642.94 323.80,644.25 323.92,645.68 324.05,647.23 324.17,648.85 324.29,650.53 324.42,652.23 324.54,653.93 324.67,655.59 324.79,657.19 324.92,658.69 325.04,660.09 325.16,661.34 325.29,662.43 325.41,663.34 325.54,664.05 325.66,664.56 325.78,664.85 325.91,664.92 326.03,664.76 326.16,664.38 326.28,663.79 326.41,662.99 326.53,662.00 326.65,660.84 326.78,659.53 326.90,658.08 327.03,656.52 327.15,654.88 327.27,653.19 327.40,651.48 327.52,649.77 327.65,648.09 327.77,646.48 327.90,644.96 328.02,643.56 328.14,642.29 328.27,641.19 328.39,640.27 328.52,639.55 328.64,639.04 328.76,638.75 328.89,638.68 329.01,638.84 329.14,639.22 329.26,639.81 329.39,640.61 329.51,641.61 329.63,642.78 329.76,644.11 329.88,645.57 330.01,647.13 330.13,648.78 330.25,650.49 330.38,652.22 330.50,653.94 330.63,655.63 330.75,657.25 330.88,658.79 331.00,660.20 331.12,661.48 331.25,662.59 331.37,663.51 331.50,664.24 331.62,664.76 331.75,665.06 331.87,665.13 331.99,664.97 332.12,664.59 332.24,663.99 332.37,663.18 332.49,662.18 332.61,661.00 332.74,659.66 332.86,658.19 332.99,656.61 333.11,654.95 333.24,653.23 333.36,651.49 333.48,649.75 333.61,648.05 333.73,646.41 333.86,644.86 333.98,643.43 334.10,642.15 334.23,641.03 334.35,640.09 334.48,639.36 334.60,638.84 334.73,638.54 334.85,638.47 334.97,638.63 335.10,639.01 335.22,639.61 335.35,640.43 335.47,641.44 335.59,642.63 335.72,643.97 335.84,645.46 335.97,647.05 336.09,648.73 336.22,650.46 336.34,652.21 336.46,653.97 336.59,655.68 336.71,657.33 336.84,658.89 336.96,660.33 337.08,661.63 337.21,662.76 337.33,663.70 337.46,664.44 337.58,664.97 337.71,665.27 337.83,665.34 337.95,665.18 338.08,664.79 338.20,664.19 338.33,663.36 338.45,662.35 338.57,661.15 338.70,659.79 338.82,658.29 338.95,656.69 339.07,655.00 339.19,653.25 339.32,651.48 339.44,649.72 339.57,647.99 339.69,646.32 339.82,644.75 339.94,643.30 340.06,641.99 340.19,640.85 340.31,639.90 340.44,639.16 340.56,638.63 340.69,638.32 340.81,638.25 340.93,638.41 341.06,638.80 341.18,639.42 341.31,640.24 341.43,641.27 341.55,642.48 341.68,643.85 341.80,645.36 341.93,646.98 342.05,648.68 342.18,650.44 342.30,652.23 342.42,654.01 342.55,655.75 342.67,657.43 342.80,659.01 342.92,660.47 343.04,661.79 343.17,662.94 343.29,663.89 343.42,664.65 343.54,665.18 343.66,665.48 343.79,665.56 343.91,665.39 344.04,665.00 344.16,664.38 344.29,663.55 344.41,662.51 344.53,661.29 344.66,659.91 344.78,658.39 344.91,656.76 345.03,655.04 345.15,653.26 345.28,651.46 345.40,649.67 345.53,647.91 345.65,646.22 345.78,644.62 345.90,643.15 346.02,641.82 346.15,640.67 346.27,639.71 346.40,638.95 346.52,638.41 346.64,638.11 346.77,638.03 346.89,638.20 347.02,638.60 347.14,639.22 347.27,640.07 347.39,641.11 347.51,642.34 347.64,643.73 347.76,645.27 347.89,646.91 348.01,648.65 348.13,650.44 348.26,652.25 348.38,654.06 348.51,655.83 348.63,657.53 348.76,659.14 348.88,660.63 349.00,661.96 349.13,663.13 349.25,664.10 349.38,664.86 349.50,665.40 349.62,665.71 349.75,665.78 349.87,665.61 350.00,665.21 350.12,664.57 350.25,663.72 350.37,662.67 350.49,661.43 350.62,660.02 350.74,658.47 350.87,656.81 350.99,655.06 351.12,653.26 351.24,651.43 351.36,649.61 351.49,647.82 351.61,646.11 351.74,644.49 351.86,642.99 351.98,641.64 352.11,640.47 352.23,639.50 352.36,638.73 352.48,638.19 352.61,637.88 352.73,637.81 352.85,637.98 352.98,638.39 353.10,639.03 353.23,639.89 353.35,640.96 353.47,642.21 353.60,643.63 353.72,645.19 353.85,646.86 353.97,648.63 354.10,650.44 354.22,652.29 354.34,654.13 354.47,655.93 354.59,657.66 354.72,659.29 354.84,660.80 354.96,662.15 355.09,663.33 355.21,664.31 355.34,665.08 355.46,665.63 355.59,665.93 355.71,666.00 355.83,665.83 355.96,665.41 356.08,664.76 356.21,663.89 356.33,662.82 356.45,661.55 356.58,660.12 356.70,658.55 356.83,656.86 356.95,655.08 357.07,653.25 357.20,651.39 357.32,649.53 357.45,647.72 357.57,645.98 357.70,644.33 357.82,642.82 357.94,641.45 358.07,640.27 358.19,639.28 358.32,638.50 358.44,637.96 358.56,637.65 358.69,637.59 358.81,637.77 358.94,638.19 359.06,638.84 359.19,639.72 359.31,640.81 359.43,642.09 359.56,643.53 359.68,645.12 359.81,646.83 359.93,648.62 360.06,650.47 360.18,652.34 360.30,654.21 360.43,656.04 360.55,657.79 360.68,659.45 360.80,660.98 360.92,662.35 361.05,663.54 361.17,664.54 361.30,665.31 361.42,665.86 361.54,666.17 361.67,666.23 361.79,666.04 361.92,665.61 362.04,664.95 362.17,664.06 362.29,662.96 362.41,661.67 362.54,660.21 362.66,658.61 362.79,656.89 362.91,655.08 363.03,653.21 363.16,651.33 363.28,649.44 363.41,647.60 363.53,645.83 363.66,644.16 363.78,642.63 363.90,641.25 364.03,640.05 364.15,639.05 364.28,638.27 364.40,637.72 364.52,637.42 364.65,637.36 364.77,637.55 364.90,637.98 365.02,638.66 365.15,639.56 365.27,640.67 365.39,641.97 365.52,643.45 365.64,645.07 365.77,646.80 365.89,648.63 366.01,650.51 366.14,652.41 366.26,654.31 366.39,656.16 366.51,657.95 366.64,659.63 366.76,661.17 366.88,662.56 367.01,663.77 367.13,664.77 367.26,665.55 367.38,666.10 367.50,666.40 367.63,666.46 367.75,666.26 367.88,665.82 368.00,665.13 368.13,664.22 368.25,663.10 368.37,661.78 368.50,660.29 368.62,658.66 368.75,656.91 368.87,655.07 369.00,653.17 369.12,651.25 369.24,649.34 369.37,647.47 369.49,645.67 369.62,643.98 369.74,642.42 369.86,641.03 369.99,639.81 370.11,638.81 370.24,638.02 370.36,637.48 370.49,637.18 370.61,637.13 370.73,637.33 370.86,637.78 370.98,638.48 371.11,639.40 371.23,640.54 371.35,641.87 371.48,643.37 371.60,645.02 371.73,646.79 371.85,648.65 371.98,650.56 372.10,652.50 372.22,654.42 372.35,656.31 372.47,658.11 372.60,659.82 372.72,661.38 372.84,662.79 372.97,664.01 373.09,665.02 373.22,665.80 373.34,666.35 373.46,666.64 373.59,666.69 373.71,666.48 373.84,666.02 373.96,665.31 374.09,664.38 374.21,663.23 374.33,661.88 374.46,660.36 374.58,658.69 374.71,656.91 374.83,655.04 374.95,653.11 375.08,651.15 375.20,649.21 375.33,647.32 375.45,645.49 375.58,643.78 375.70,642.21 375.82,640.79 375.95,639.57 376.07,638.56 376.20,637.77 376.32,637.23 376.44,636.93 376.57,636.89 376.69,637.11 376.82,637.58 376.94,638.30 377.07,639.25 377.19,640.41 377.31,641.77 377.44,643.31 377.56,644.99 377.69,646.79 377.81,648.68 377.94,650.63 378.06,652.60 378.18,654.56 378.31,656.47 378.43,658.30 378.56,660.02 378.68,661.61 378.80,663.03 378.93,664.26 379.05,665.27 379.18,666.06 379.30,666.60 379.43,666.89 379.55,666.92 379.67,666.70 379.80,666.22 379.92,665.49 380.05,664.53 380.17,663.35 380.29,661.97 380.42,660.42 380.54,658.72 380.67,656.90 380.79,654.99 380.92,653.03 381.04,651.04 381.16,649.07 381.29,647.15 381.41,645.30 381.54,643.57 381.66,641.97 381.78,640.55 381.91,639.31 382.03,638.30 382.16,637.51 382.28,636.97 382.40,636.68 382.53,636.66 382.65,636.89 382.78,637.38 382.90,638.12 383.03,639.10 383.15,640.29 383.27,641.69 383.40,643.26 383.52,644.98 383.65,646.81 383.77,648.74 383.89,650.72 384.02,652.72 384.14,654.71 384.27,656.64 384.39,658.50 384.52,660.25 384.64,661.85 384.76,663.28 384.89,664.52 385.01,665.54 385.14,666.33 385.26,666.86 385.38,667.14 385.51,667.16 385.63,666.92 385.76,666.42 385.88,665.66 386.01,664.67 386.13,663.46 386.25,662.05 386.38,660.46 386.50,658.73 386.63,656.87 386.75,654.93 386.88,652.93 387.00,650.91 387.12,648.91 387.25,646.96 387.37,645.09 387.50,643.33 387.62,641.72 387.74,640.28 387.87,639.04 387.99,638.02 388.12,637.24 388.24,636.70 388.37,636.43 388.49,636.42 388.61,636.67 388.74,637.19 388.86,637.95 388.99,638.96 389.11,640.19 389.23,641.62 389.36,643.22 389.48,644.98 389.61,646.85 389.73,648.81 389.86,650.82 389.98,652.86 390.10,654.87 390.23,656.84 390.35,658.72 390.48,660.49 390.60,662.11 390.72,663.55 390.85,664.80 390.97,665.82 391.10,666.60 391.22,667.13 391.35,667.40 391.47,667.40 391.59,667.14 391.72,666.61 391.84,665.83 391.97,664.81 392.09,663.56 392.21,662.12 392.34,660.49 392.46,658.72 392.59,656.83 392.71,654.85 392.83,652.82 392.96,650.77 393.08,648.73 393.21,646.75 393.33,644.86 393.46,643.08 393.58,641.46 393.70,640.01 393.83,638.76 393.95,637.74 394.08,636.96 394.20,636.43 394.32,636.17 394.45,636.18 394.57,636.45 394.70,636.99 394.82,637.79 394.95,638.83 395.07,640.09 395.19,641.56 395.32,643.20 395.44,644.99 395.57,646.90 395.69,648.90 395.81,650.95 395.94,653.02 396.06,655.06 396.19,657.06 396.31,658.96 396.44,660.75 396.56,662.38 396.68,663.84 396.81,665.08 396.93,666.11 397.06,666.89 397.18,667.41 397.31,667.66 397.43,667.64 397.55,667.36 397.68,666.80 397.80,665.99 397.93,664.93 398.05,663.65 398.17,662.17 398.30,660.51 398.42,658.70 398.55,656.77 398.67,654.75 398.80,652.68 398.92,650.60 399.04,648.54 399.17,646.53 399.29,644.61 399.42,642.82 399.54,641.18 399.66,639.72 399.79,638.47 399.91,637.44 400.04,636.67 400.16,636.15 400.29,635.91 400.41,635.93 400.53,636.24 400.66,636.80 400.78,637.63 400.91,638.71 401.03,640.00 401.15,641.51 401.28,643.19 401.40,645.02 401.53,646.97 401.65,649.01 401.77,651.09 401.90,653.19 402.02,655.27 402.15,657.29 402.27,659.22 402.40,661.03 402.52,662.67 402.64,664.13 402.77,665.39 402.89,666.41 403.02,667.18 403.14,667.69 403.26,667.93 403.39,667.89 403.51,667.57 403.64,666.99 403.76,666.14 403.89,665.05 404.01,663.73 404.13,662.21 404.26,660.51 404.38,658.66 404.51,656.69 404.63,654.63 404.75,652.53 404.88,650.41 405.00,648.32 405.13,646.28 405.25,644.34 405.38,642.53 405.50,640.88 405.62,639.41 405.75,638.16 405.87,637.14 406.00,636.37 406.12,635.87 406.25,635.64 406.37,635.69 406.49,636.02 406.62,636.62 406.74,637.48 406.87,638.59 406.99,639.93 407.11,641.47 407.24,643.20 407.36,645.07 407.49,647.06 407.61,649.14 407.74,651.26 407.86,653.39 407.98,655.50 408.11,657.55 408.23,659.50 408.36,661.32 408.48,662.98 408.60,664.45 408.73,665.70 408.85,666.72 408.98,667.48 409.10,667.98 409.23,668.19 409.35,668.13 409.47,667.79 409.60,667.17 409.72,666.29 409.85,665.16 409.97,663.80 410.09,662.24 410.22,660.49 410.34,658.60 410.47,656.59 410.59,654.49 410.71,652.35 410.84,650.20 410.96,648.08 411.09,646.02 411.21,644.05 411.34,642.22 411.46,640.56 411.58,639.09 411.71,637.83 411.83,636.82 411.96,636.06 412.08,635.58 412.20,635.37 412.33,635.45 412.45,635.81 412.58,636.44 412.70,637.34 412.83,638.49 412.95,639.87 413.07,641.46 413.20,643.22 413.32,645.14 413.45,647.17 413.57,649.28 413.69,651.44 413.82,653.61 413.94,655.75 414.07,657.83 414.19,659.80 414.32,661.64 414.44,663.31 414.56,664.78 414.69,666.03 414.81,667.04 414.94,667.79 415.06,668.27 415.19,668.46 415.31,668.37 415.43,668.00 415.56,667.35 415.68,666.43 415.81,665.26 415.93,663.86 416.05,662.25 416.18,660.46 416.30,658.52 416.43,656.47 416.55,654.33 416.68,652.15 416.80,649.97 416.92,647.81 417.05,645.73 417.17,643.75 417.30,641.90 417.42,640.23 417.54,638.75 417.67,637.50 417.79,636.49 417.92,635.75 418.04,635.28 418.17,635.10 418.29,635.20 418.41,635.60 418.54,636.27 418.66,637.21 418.79,638.40 418.91,639.82 419.03,641.45 419.16,643.27 419.28,645.23 419.41,647.30 419.53,649.46 419.65,651.65 419.78,653.86 419.90,656.03 420.03,658.12 420.15,660.12 420.28,661.97 420.40,663.65 420.52,665.13 420.65,666.38 420.77,667.38 420.90,668.11 421.02,668.57 421.14,668.74 421.27,668.62 421.39,668.21 421.52,667.52 421.64,666.56 421.77,665.34 421.89,663.90 422.01,662.24 422.14,660.41 422.26,658.42 422.39,656.33 422.51,654.15 422.63,651.93 422.76,649.71 422.88,647.53 423.01,645.42 423.13,643.42 423.26,641.56 423.38,639.87 423.50,638.40 423.63,637.15 423.75,636.15 423.88,635.42 424.00,634.98 424.12,634.82 424.25,634.96 424.37,635.39 424.50,636.10 424.62,637.08 424.75,638.32 424.87,639.79 424.99,641.47 425.12,643.33 425.24,645.33 425.37,647.45 425.49,649.65 425.62,651.89 425.74,654.12 425.86,656.32 425.99,658.45 426.11,660.46 426.24,662.32 426.36,664.01 426.48,665.49 426.61,666.73 426.73,667.72 426.86,668.44 426.98,668.87 427.11,669.01 427.23,668.86 427.35,668.41 427.48,667.68 427.60,666.67 427.73,665.41 427.85,663.92 427.97,662.22 428.10,660.33 428.22,658.30 428.35,656.16 428.47,653.94 428.60,651.69 428.72,649.44 428.84,647.22 428.97,645.09 429.09,643.06 429.22,641.19 429.34,639.50 429.46,638.03 429.59,636.78 429.71,635.80 429.84,635.09 429.96,634.67 430.08,634.55 430.21,634.72 430.33,635.19 430.46,635.94 430.58,636.97 430.71,638.26 430.83,639.77 430.95,641.50 431.08,643.41 431.20,645.46 431.33,647.63 431.45,649.87 431.57,652.14 431.70,654.41 431.82,656.64 431.95,658.79 432.07,660.82 432.20,662.70 432.32,664.39 432.44,665.86 432.57,667.10 432.69,668.08 432.82,668.77 432.94,669.18 433.06,669.29 433.19,669.10 433.31,668.61 433.44,667.83 433.56,666.78 433.69,665.47 433.81,663.93 433.93,662.17 434.06,660.24 434.18,658.16 434.31,655.98 434.43,653.71 434.56,651.42 434.68,649.13 434.80,646.89 434.93,644.73 435.05,642.69 435.18,640.81 435.30,639.12 435.42,637.64 435.55,636.41 435.67,635.44 435.80,634.76 435.92,634.36 436.05,634.27 436.17,634.48 436.29,634.99 436.42,635.79 436.54,636.87 436.67,638.21 436.79,639.78 436.91,641.56 437.04,643.51 437.16,645.62 437.29,647.83 437.41,650.11 437.54,652.42 437.66,654.73 437.78,656.99 437.91,659.16 438.03,661.20 438.16,663.09 438.28,664.78 438.40,666.26 438.53,667.48 438.65,668.44 438.78,669.12 438.90,669.49 439.02,669.57 439.15,669.33 439.27,668.80 439.40,667.98 439.52,666.88 439.65,665.51 439.77,663.92 439.89,662.11 440.02,660.13 440.14,658.00 440.27,655.76 440.39,653.46 440.51,651.13 440.64,648.80 440.76,646.53 440.89,644.35 441.01,642.30 441.14,640.41 441.26,638.71 441.38,637.24 441.51,636.02 441.63,635.07 441.76,634.41 441.88,634.05 442.00,634.00 442.13,634.25 442.25,634.80 442.38,635.65 442.50,636.78 442.63,638.17 442.75,639.80 442.87,641.63 443.00,643.64 443.12,645.79 443.25,648.05 443.37,650.38 443.50,652.73 443.62,655.07 443.74,657.36 443.87,659.55 443.99,661.61 444.12,663.50 444.24,665.20 444.36,666.67 444.49,667.88 444.61,668.82 444.74,669.46 444.86,669.81 444.99,669.84 445.11,669.57 445.23,668.99 445.36,668.11 445.48,666.96 445.61,665.54 445.73,663.89 445.85,662.02 445.98,659.99 446.10,657.81 446.23,655.53 446.35,653.18 446.48,650.80 446.60,648.45 446.72,646.15 446.85,643.95 446.97,641.88 447.10,639.98 447.22,638.29 447.34,636.82 447.47,635.62 447.59,634.69 447.72,634.06 447.84,633.74 447.96,633.72 448.09,634.02 448.21,634.63 448.34,635.53 448.46,636.71 448.59,638.16 448.71,639.84 448.83,641.73 448.96,643.79 449.08,646.00 449.21,648.30 449.33,650.67 449.45,653.07 449.58,655.44 449.70,657.75 449.83,659.96 449.95,662.04 450.08,663.94 450.20,665.63 450.32,667.09 450.45,668.28 450.57,669.20 450.70,669.81 450.82,670.12 450.94,670.11 451.07,669.79 451.19,669.16 451.32,668.23 451.44,667.02 451.57,665.55 451.69,663.83 451.81,661.92 451.94,659.82 452.06,657.59 452.19,655.26 452.31,652.87 452.44,650.46 452.56,648.07 452.68,645.74 452.81,643.52 452.93,641.44 453.06,639.54 453.18,637.85 453.30,636.39 453.43,635.21 453.55,634.31 453.68,633.71 453.80,633.42 453.93,633.45 454.05,633.80 454.17,634.46 454.30,635.41 454.42,636.65 454.55,638.16 454.67,639.90 454.79,641.85 454.92,643.97 455.04,646.23 455.17,648.58 455.29,651.00 455.42,653.43 455.54,655.83 455.66,658.17 455.79,660.40 455.91,662.49 456.04,664.39 456.16,666.08 456.28,667.53 456.41,668.70 456.53,669.59 456.66,670.17 456.78,670.44 456.90,670.38 457.03,670.01 457.15,669.33 457.28,668.34 457.40,667.07 457.53,665.53 457.65,663.76 457.77,661.78 457.90,659.63 458.02,657.35 458.15,654.97 458.27,652.53 458.39,650.08 458.52,647.66 458.64,645.31 458.77,643.07 458.89,640.98 459.02,639.07 459.14,637.39 459.26,635.95 459.39,634.78 459.51,633.91 459.64,633.35 459.76,633.10 459.88,633.18 460.01,633.58 460.13,634.30 460.26,635.31 460.38,636.62 460.51,638.18 460.63,639.98 460.75,641.99 460.88,644.17 461.00,646.48 461.13,648.89 461.25,651.35 461.38,653.82 461.50,656.26 461.62,658.62 461.75,660.87 461.87,662.96 462.00,664.87 462.12,666.55 462.24,667.98 462.37,669.13 462.49,669.99 462.62,670.53 462.74,670.75 462.87,670.65 462.99,670.22 463.11,669.48 463.24,668.43 463.36,667.10 463.49,665.50 463.61,663.66 463.73,661.62 463.86,659.42 463.98,657.08 464.11,654.64 464.23,652.16 464.36,649.67 464.48,647.22 464.60,644.84 464.73,642.59 464.85,640.49 464.98,638.59 465.10,636.91 465.22,635.49 465.35,634.35 465.47,633.51 465.60,632.99 465.72,632.79 465.85,632.92 465.97,633.38 466.09,634.15 466.22,635.23 466.34,636.60 466.47,638.23 466.59,640.09 466.71,642.16 466.84,644.40 466.96,646.77 467.09,649.23 467.21,651.73 467.33,654.24 467.46,656.71 467.58,659.10 467.71,661.36 467.83,663.46 467.96,665.36 468.08,667.03 468.20,668.44 468.33,669.57 468.45,670.39 468.58,670.89 468.70,671.07 468.82,670.91 468.95,670.42 469.07,669.62 469.20,668.51 469.32,667.10 469.45,665.44 469.57,663.54 469.69,661.44 469.82,659.17 469.94,656.77 470.07,654.29 470.19,651.76 470.31,649.24 470.44,646.75 470.56,644.35 470.69,642.08 470.81,639.98 470.94,638.08 471.06,636.42 471.18,635.02 471.31,633.91 471.43,633.11 471.56,632.63 471.68,632.48 471.81,632.66 471.93,633.18 472.05,634.02 472.18,635.16 472.30,636.60 472.43,638.30 472.55,640.23 472.67,642.37 472.80,644.67 472.92,647.09 473.05,649.60 473.17,652.15 473.30,654.69 473.42,657.19 473.54,659.60 473.67,661.88 473.79,663.98 473.92,665.88 474.04,667.54 474.16,668.92 474.29,670.02 474.41,670.80 474.54,671.26 474.66,671.38 474.79,671.16 474.91,670.61 475.03,669.74 475.16,668.56 475.28,667.09 475.41,665.36 475.53,663.39 475.65,661.22 475.78,658.89 475.90,656.44 476.03,653.90 476.15,651.33 476.27,648.77 476.40,646.25 476.52,643.84 476.65,641.55 476.77,639.45 476.90,637.55 477.02,635.91 477.14,634.53 477.27,633.45 477.39,632.69 477.52,632.26 477.64,632.17 477.76,632.42 477.89,633.00 478.01,633.90 478.14,635.12 478.26,636.62 478.39,638.39 478.51,640.40 478.63,642.60 478.76,644.96 478.88,647.44 479.01,650.00 479.13,652.60 479.25,655.18 479.38,657.71 479.50,660.13 479.63,662.42 479.75,664.53 479.88,666.42 480.00,668.05 480.12,669.42 480.25,670.47 480.37,671.21 480.50,671.62 480.62,671.68 480.75,671.40 480.87,670.79 480.99,669.85 481.12,668.60 481.24,667.05 481.37,665.25 481.49,663.21 481.61,660.98 481.74,658.58 481.86,656.07 481.99,653.48 482.11,650.87 482.24,648.27 482.36,645.73 482.48,643.29 482.61,641.00 482.73,638.89 482.86,637.01 482.98,635.38 483.10,634.03 483.23,633.00 483.35,632.28 483.48,631.90 483.60,631.87 483.73,632.18 483.85,632.83 483.97,633.81 484.10,635.10 484.22,636.67 484.35,638.52 484.47,640.59 484.59,642.86 484.72,645.29 484.84,647.83 484.97,650.44 485.09,653.08 485.21,655.70 485.34,658.25 485.46,660.69 485.59,662.99 485.71,665.09 485.84,666.97 485.96,668.59 486.08,669.92 486.21,670.94 486.33,671.63 486.46,671.98 486.58,671.98 486.70,671.64 486.83,670.95 486.95,669.94 487.08,668.61 487.20,666.99 487.33,665.11 487.45,663.00 487.57,660.70 487.70,658.24 487.82,655.67 487.95,653.03 488.07,650.37 488.19,647.73 488.32,645.17 488.44,642.71 488.57,640.42 488.69,638.32 488.82,636.45 488.94,634.84 489.06,633.53 489.19,632.53 489.31,631.86 489.44,631.54 489.56,631.57 489.69,631.95 489.81,632.67 489.93,633.73 490.06,635.09 490.18,636.75 490.31,638.67 490.43,640.82 490.55,643.16 490.68,645.65 490.80,648.25 490.93,650.91 491.05,653.59 491.18,656.24 491.30,658.82 491.42,661.28 491.55,663.58 491.67,665.68 491.80,667.54 491.92,669.14 492.04,670.43 492.17,671.41 492.29,672.04 492.42,672.33 492.54,672.27 492.67,671.86 492.79,671.10 492.91,670.00 493.04,668.60 493.16,666.90 493.29,664.94 493.41,662.76 493.53,660.38 493.66,657.86 493.78,655.23 493.91,652.54 494.03,649.84 494.15,647.17 494.28,644.58 494.40,642.11 494.53,639.81 494.65,637.72 494.78,635.86 494.90,634.29 495.02,633.01 495.15,632.06 495.27,631.45 495.40,631.19 495.52,631.29 495.64,631.74 495.77,632.54 495.89,633.67 496.02,635.12 496.14,636.86 496.27,638.86 496.39,641.08 496.51,643.49 496.64,646.05 496.76,648.70 496.89,651.42 497.01,654.14 497.13,656.83 497.26,659.43 497.38,661.90 497.51,664.20 497.63,666.29 497.76,668.13 497.88,669.70 498.00,670.95 498.13,671.88 498.25,672.46 498.38,672.68 498.50,672.55 498.62,672.06 498.75,671.22 498.87,670.05 499.00,668.56 499.12,666.78 499.25,664.74 499.37,662.48 499.49,660.03 499.62,657.44 499.74,654.75 499.87,652.01 499.99,649.27 500.12,646.57 500.24,643.96 500.36,641.48 500.49,639.18 500.61,637.09 500.74,635.26 500.86,633.72 500.98,632.48 501.11,631.59 501.23,631.03 501.36,630.84 501.48,631.01 501.61,631.54 501.73,632.43 501.85,633.64 501.98,635.17 502.10,637.00 502.23,639.07 502.35,641.38 502.47,643.86 502.60,646.48 502.72,649.20 502.85,651.96 502.97,654.73 503.10,657.45 503.22,660.07 503.34,662.55 503.47,664.85 503.59,666.93 503.72,668.74 503.84,670.27 503.96,671.48 504.09,672.35 504.21,672.87 504.34,673.03 504.46,672.82 504.58,672.25 504.71,671.32 504.83,670.06 504.96,668.49 505.08,666.62 505.21,664.50 505.33,662.16 505.45,659.64 505.58,656.99 505.70,654.24 505.83,651.45 505.95,648.66 506.07,645.93 506.20,643.30 506.32,640.82 506.45,638.52 506.57,636.45 506.70,634.65 506.82,633.14 506.94,631.95 507.07,631.11 507.19,630.62 507.32,630.50 507.44,630.75 507.56,631.37 507.69,632.33 507.81,633.64 507.94,635.26 508.06,637.17 508.19,639.33 508.31,641.71 508.43,644.27 508.56,646.96 508.68,649.73 508.81,652.55 508.93,655.35 509.06,658.10 509.18,660.74 509.30,663.23 509.43,665.52 509.55,667.58 509.68,669.37 509.80,670.85 509.92,672.01 510.05,672.83 510.17,673.28 510.30,673.36 510.42,673.07 510.55,672.41 510.67,671.40 510.79,670.05 510.92,668.39 511.04,666.43 511.17,664.23 511.29,661.81 511.41,659.21 511.54,656.49 511.66,653.69 511.79,650.85 511.91,648.02 512.04,645.26 512.16,642.62 512.28,640.13 512.41,637.84 512.53,635.79 512.66,634.02 512.78,632.55 512.90,631.42 513.03,630.64 513.15,630.22 513.28,630.18 513.40,630.51 513.52,631.21 513.65,632.27 513.77,633.66 513.90,635.38 514.02,637.37 514.15,639.62 514.27,642.08 514.39,644.72 514.52,647.47 514.64,650.31 514.77,653.17 514.89,656.01 515.01,658.78 515.14,661.44 515.26,663.93 515.39,666.21 515.51,668.25 515.64,670.01 515.76,671.45 515.88,672.55 516.01,673.30 516.13,673.68 516.26,673.68 516.38,673.31 516.50,672.56 516.63,671.45 516.75,670.01 516.88,668.25 517.00,666.21 517.13,663.92 517.25,661.41 517.37,658.74 517.50,655.95 517.62,653.09 517.75,650.20 517.87,647.34 518.00,644.56 518.12,641.90 518.24,639.41 518.37,637.13 518.49,635.11 518.62,633.37 518.74,631.95 518.86,630.88 518.99,630.16 519.11,629.82 519.24,629.86 519.36,630.28 519.49,631.08 519.61,632.23 519.73,633.72 519.86,635.53 519.98,637.62 520.11,639.96 520.23,642.50 520.35,645.21 520.48,648.03 520.60,650.92 520.73,653.83 520.85,656.71 520.98,659.51 521.10,662.17 521.22,664.66 521.35,666.93 521.47,668.94 521.60,670.66 521.72,672.05 521.84,673.09 521.97,673.77 522.09,674.07 522.22,673.99 522.34,673.52 522.46,672.68 522.59,671.48 522.71,669.94 522.84,668.08 522.96,665.94 523.09,663.56 523.21,660.97 523.33,658.23 523.46,655.37 523.58,652.45 523.71,649.52 523.83,646.62 523.95,643.82 524.08,641.15 524.20,638.66 524.33,636.40 524.45,634.41 524.58,632.71 524.70,631.35 524.82,630.34 524.95,629.70 525.07,629.44 525.20,629.57 525.32,630.08 525.44,630.97 525.57,632.22 525.69,633.82 525.82,635.72 525.94,637.91 526.07,640.33 526.19,642.96 526.31,645.74 526.44,648.64 526.56,651.58 526.69,654.54 526.81,657.45 526.93,660.27 527.06,662.94 527.18,665.42 527.31,667.67 527.43,669.65 527.56,671.32 527.68,672.66 527.80,673.63 527.93,674.24 528.05,674.45 528.18,674.28 528.30,673.71 528.42,672.77 528.55,671.47 528.67,669.82 528.80,667.87 528.92,665.64 529.05,663.16 529.17,660.49 529.29,657.67 529.42,654.75 529.54,651.77 529.67,648.79 529.79,645.87 529.91,643.04 530.04,640.37 530.16,637.89 530.29,635.65 530.41,633.69 530.54,632.04 530.66,630.74 530.78,629.80 530.91,629.24 531.03,629.07 531.16,629.29 531.28,629.90 531.40,630.89 531.53,632.25 531.65,633.95 531.78,635.95 531.90,638.23 532.03,640.75 532.15,643.47 532.27,646.33 532.40,649.28 532.52,652.29 532.65,655.29 532.77,658.23 532.89,661.06 533.02,663.73 533.14,666.21 533.27,668.43 533.39,670.37 533.52,671.99 533.64,673.27 533.76,674.17 533.89,674.69 534.01,674.81 534.14,674.54 534.26,673.88 534.38,672.83 534.51,671.42 534.63,669.67 534.76,667.62 534.88,665.28 535.01,662.72 535.13,659.96 535.25,657.06 535.38,654.07 535.50,651.04 535.63,648.02 535.75,645.07 535.88,642.23 536.00,639.56 536.12,637.09 536.25,634.88 536.37,632.96 536.50,631.37 536.62,630.13 536.74,629.26 536.87,628.79 536.99,628.71 537.12,629.03 537.24,629.75 537.37,630.85 537.49,632.31 537.61,634.12 537.74,636.23 537.86,638.61 537.99,641.22 538.11,644.02 538.23,646.96 538.36,649.98 538.48,653.04 538.61,656.08 538.73,659.04 538.86,661.89 538.98,664.56 539.10,667.02 539.23,669.21 539.35,671.11 539.48,672.67 539.60,673.88 539.72,674.70 539.85,675.13 539.97,675.16 540.10,674.79 540.22,674.01 540.35,672.86 540.47,671.34 540.59,669.48 540.72,667.32 540.84,664.88 540.97,662.22 541.09,659.38 541.21,656.41 541.34,653.35 541.46,650.27 541.59,647.21 541.71,644.23 541.84,641.38 541.96,638.71 542.08,636.27 542.21,634.09 542.33,632.22 542.46,630.69 542.58,629.52 542.70,628.73 542.83,628.35 542.95,628.37 543.08,628.80 543.20,629.63 543.33,630.84 543.45,632.42 543.57,634.33 543.70,636.55 543.82,639.03 543.95,641.74 544.07,644.63 544.19,647.64 544.32,650.72 544.44,653.83 544.57,656.91 544.69,659.90 544.82,662.75 544.94,665.42 545.06,667.85 545.19,670.01 545.31,671.86 545.44,673.36 545.56,674.49 545.68,675.23 545.81,675.56 545.93,675.49 546.06,675.00 546.18,674.12 546.31,672.85 546.43,671.21 546.55,669.24 546.68,666.97 546.80,664.43 546.93,661.68 547.05,658.75 547.17,655.70 547.30,652.59 547.42,649.45 547.55,646.36 547.67,643.36 547.80,640.50 547.92,637.84 548.04,635.42 548.17,633.28 548.29,631.47 548.42,630.00 548.54,628.91 548.66,628.22 548.79,627.93 548.91,628.06 549.04,628.60 549.16,629.54 549.29,630.87 549.41,632.57 549.53,634.59 549.66,636.92 549.78,639.51 549.91,642.31 550.03,645.28 550.15,648.37 550.28,651.52 550.40,654.67 550.53,657.78 550.65,660.79 550.77,663.65 550.90,666.30 551.02,668.71 551.15,670.82 551.27,672.61 551.40,674.04 551.52,675.09 551.64,675.74 551.77,675.97 551.89,675.79 552.02,675.19 552.14,674.19 552.26,672.80 552.39,671.04 552.51,668.96 552.64,666.57 552.76,663.93 552.89,661.08 553.01,658.07 553.13,654.95 553.26,651.77 553.38,648.59 553.51,645.46 553.63,642.45 553.75,639.59 553.88,636.94 554.00,634.55 554.13,632.46 554.25,630.70 554.38,629.31 554.50,628.31 554.62,627.71 554.75,627.53 554.87,627.77 555.00,628.43 555.12,629.49 555.25,630.94 555.37,632.76 555.49,634.90 555.62,637.35 555.74,640.04 555.87,642.94 555.99,645.99 556.11,649.15 556.24,652.36 556.36,655.56 556.49,658.70 556.61,661.73 556.74,664.58 556.86,667.22 556.98,669.59 557.11,671.65 557.23,673.38 557.36,674.73 557.48,675.69 557.60,676.24 557.73,676.36 557.85,676.06 557.98,675.34 558.10,674.22 558.23,672.70 558.35,670.83 558.47,668.62 558.60,666.12 558.72,663.38 558.85,660.43 558.97,657.33 559.09,654.13 559.22,650.90 559.34,647.67 559.47,644.52 559.59,641.49 559.71,638.64 559.84,636.02 559.96,633.67 560.09,631.63 560.21,629.94 560.34,628.63 560.46,627.72 560.58,627.22 560.71,627.15 560.83,627.51 560.96,628.30 561.08,629.49 561.20,631.06 561.33,633.00 561.45,635.27 561.58,637.82 561.70,640.62 561.83,643.62 561.95,646.76 562.07,649.99 562.20,653.26 562.32,656.50 562.45,659.66 562.57,662.70 562.69,665.54 562.82,668.15 562.94,670.48 563.07,672.49 563.19,674.15 563.32,675.41 563.44,676.28 563.56,676.71 563.69,676.72 563.81,676.30 563.94,675.46 564.06,674.20 564.18,672.56 564.31,670.56 564.43,668.23 564.56,665.61 564.68,662.76 564.81,659.72 564.93,656.53 565.05,653.27 565.18,649.98 565.30,646.71 565.43,643.54 565.55,640.50 565.67,637.67 565.80,635.07 565.92,632.76 566.05,630.78 566.17,629.17 566.30,627.95 566.42,627.14 566.54,626.75 566.67,626.81 566.79,627.29 566.92,628.20 567.04,629.52 567.16,631.23 567.29,633.30 567.41,635.69 567.54,638.36 567.66,641.27 567.79,644.36 567.91,647.58 568.03,650.88 568.16,654.20 568.28,657.48 568.41,660.67 568.53,663.70 568.65,666.53 568.78,669.11 568.90,671.40 569.03,673.34 569.15,674.91 569.28,676.09 569.40,676.85 569.52,677.17 569.65,677.06 569.77,676.51 569.90,675.53 570.02,674.14 570.14,672.36 570.27,670.23 570.39,667.78 570.52,665.05 570.64,662.09 570.77,658.95 570.89,655.68 571.01,652.35 571.14,649.00 571.26,645.71 571.39,642.51 571.51,639.48 571.63,636.66 571.76,634.10 571.88,631.84 572.01,629.93 572.13,628.40 572.26,627.28 572.38,626.58 572.50,626.31 572.63,626.49 572.75,627.11 572.88,628.15 573.00,629.61 573.12,631.46 573.25,633.66 573.37,636.17 573.50,638.96 573.62,641.97 573.75,645.16 573.87,648.47 573.99,651.83 574.12,655.20 574.24,658.52 574.37,661.72 574.49,664.75 574.62,667.56 574.74,670.10 574.86,672.32 574.99,674.19 575.11,675.68 575.24,676.75 575.36,677.40 575.48,677.60 575.61,677.36 575.73,676.67 575.86,675.55 575.98,674.02 576.11,672.11 576.23,669.84 576.35,667.27 576.48,664.42 576.60,661.35 576.73,658.11 576.85,654.77 576.97,651.37 577.10,647.98 577.22,644.65 577.35,641.45 577.47,638.42 577.60,635.62 577.72,633.11 577.84,630.91 577.97,629.08 578.09,627.64 578.22,626.62 578.34,626.03 578.46,625.90 578.59,626.21 578.71,626.97 578.84,628.15 578.96,629.75 579.09,631.74 579.21,634.07 579.33,636.71 579.46,639.62 579.58,642.74 579.71,646.02 579.83,649.41 579.95,652.84 580.08,656.25 580.20,659.59 580.33,662.80 580.45,665.82 580.58,668.60 580.70,671.10 580.82,673.26 580.95,675.05 581.07,676.44 581.20,677.40 581.32,677.93 581.44,678.00 581.57,677.62 581.69,676.79 581.82,675.53 581.94,673.85 582.07,671.80 582.19,669.40 582.31,666.69 582.44,663.72 582.56,660.55 582.69,657.22 582.81,653.80 582.93,650.34 583.06,646.90 583.18,643.55 583.31,640.34 583.43,637.33 583.56,634.56 583.68,632.10 583.80,629.97 583.93,628.22 584.05,626.89 584.18,625.98 584.30,625.52 584.42,625.52 584.55,625.97 584.67,626.87 584.80,628.21 584.92,629.95 585.05,632.08 585.17,634.55 585.29,637.32 585.42,640.35 585.54,643.58 585.67,646.95 585.79,650.41 585.91,653.90 586.04,657.36 586.16,660.72 586.29,663.93 586.41,666.93 586.54,669.68 586.66,672.11 586.78,674.20 586.91,675.90 587.03,677.19 587.16,678.03 587.28,678.43 587.40,678.36 587.53,677.83 587.65,676.86 587.78,675.45 587.90,673.62 588.02,671.42 588.15,668.88 588.27,666.04 588.40,662.96 588.52,659.68 588.65,656.26 588.77,652.76 588.89,649.25 589.02,645.77 589.14,642.40 589.27,639.19 589.39,636.20 589.51,633.48 589.64,631.07 589.76,629.03 589.89,627.37 590.01,626.14 590.14,625.36 590.26,625.03 590.38,625.17 590.51,625.77 590.63,626.83 590.76,628.32 590.88,630.21 591.00,632.49 591.13,635.10 591.25,638.00 591.38,641.15 591.50,644.48 591.63,647.95 591.75,651.48 591.87,655.02 592.00,658.51 592.12,661.89 592.25,665.09 592.37,668.07 592.50,670.77 592.62,673.14 592.74,675.15 592.87,676.75 592.99,677.92 593.12,678.64 593.24,678.90 593.36,678.68 593.49,678.00 593.61,676.87 593.74,675.30 593.86,673.33 593.99,670.98 594.11,668.30 594.23,665.33 594.36,662.13 594.48,658.74 594.61,655.23 594.73,651.66 594.85,648.10 594.98,644.59 595.10,641.21 595.23,638.01 595.35,635.05 595.48,632.38 595.60,630.04 595.72,628.08 595.85,626.53 595.97,625.42 596.10,624.77 596.22,624.58 596.34,624.87 596.47,625.63 596.59,626.84 596.72,628.49 596.84,630.54 596.96,632.97 597.09,635.72 597.21,638.75 597.34,642.02 597.46,645.46 597.59,649.01 597.71,652.61 597.83,656.20 597.96,659.72 598.08,663.10 598.21,666.29 598.33,669.24 598.45,671.88 598.58,674.18 598.70,676.09 598.83,677.58 598.95,678.63 599.08,679.22 599.20,679.32 599.32,678.96 599.45,678.12 599.57,676.83 599.70,675.10 599.82,672.97 599.94,670.47 600.07,667.64 600.19,664.54 600.32,661.22 600.44,657.73 600.57,654.14 600.69,650.50 600.81,646.89 600.94,643.36 601.06,639.98 601.19,636.79 601.31,633.87 601.43,631.26 601.56,629.00 601.68,627.14 601.81,625.70 601.93,624.72 602.06,624.21 602.18,624.18 602.30,624.62 602.43,625.54 602.55,626.92 602.68,628.73 602.80,630.94 602.92,633.52 603.05,636.42 603.17,639.58 603.30,642.96 603.42,646.50 603.55,650.13 603.67,653.80 603.79,657.43 603.92,660.97 604.04,664.36 604.17,667.53 604.29,670.43 604.41,673.01 604.54,675.22 604.66,677.03 604.79,678.40 604.91,679.32 605.04,679.76 605.16,679.71 605.28,679.18 605.41,678.18 605.53,676.72 605.66,674.82 605.78,672.53 605.90,669.88 606.03,666.91 606.15,663.68 606.28,660.24 606.40,656.65 606.53,652.98 606.65,649.28 606.77,645.63 606.90,642.08 607.02,638.70 607.15,635.54 607.27,632.67 607.39,630.13 607.52,627.96 607.64,626.21 607.77,624.89 607.89,624.05 608.02,623.69 608.14,623.81 608.26,624.43 608.39,625.52 608.51,627.06 608.64,629.04 608.76,631.42 608.88,634.15 609.01,637.19 609.13,640.49 609.26,643.98 609.38,647.62 609.51,651.33 609.63,655.05 609.75,658.72 609.88,662.28 610.00,665.65 610.13,668.79 610.25,671.64 610.38,674.14 610.50,676.26 610.62,677.96 610.75,679.20 610.87,679.97 611.00,680.26 611.12,680.05 611.24,679.35 611.37,678.17 611.49,676.54 611.62,674.47 611.74,672.02 611.87,669.21 611.99,666.09 612.11,662.73 612.24,659.18 612.36,655.49 612.49,651.74 612.61,648.00 612.73,644.31 612.86,640.75 612.98,637.39 613.11,634.27 613.23,631.45 613.36,628.99 613.48,626.92 613.60,625.28 613.73,624.11 613.85,623.41 613.98,623.21 614.10,623.50 614.22,624.29 614.35,625.56 614.47,627.28 614.60,629.43 614.72,631.97 614.85,634.86 614.97,638.05 615.09,641.47 615.22,645.08 615.34,648.81 615.47,652.60 615.59,656.37 615.71,660.07 615.84,663.63 615.96,666.98 616.09,670.08 616.21,672.86 616.34,675.28 616.46,677.30 616.58,678.87 616.71,679.97 616.83,680.59 616.96,680.71 617.08,680.33 617.20,679.45 617.33,678.10 617.45,676.28 617.58,674.04 617.70,671.42 617.83,668.45 617.95,665.20 618.07,661.70 618.20,658.04 618.32,654.26 618.45,650.44 618.57,646.65 618.69,642.94 618.82,639.38 618.94,636.04 619.07,632.96 619.19,630.22 619.32,627.85 619.44,625.89 619.56,624.38 619.69,623.35 619.81,622.81 619.94,622.78 620.06,623.25 620.18,624.22 620.31,625.67 620.43,627.57 620.56,629.90 620.68,632.61 620.80,635.66 620.93,638.99 621.05,642.54 621.18,646.26 621.30,650.08 621.43,653.93 621.55,657.75 621.67,661.47 621.80,665.02 621.92,668.35 622.05,671.39 622.17,674.10 622.29,676.42 622.42,678.32 622.54,679.76 622.67,680.71 622.79,681.17 622.92,681.11 623.04,680.55 623.16,679.49 623.29,677.94 623.41,675.95 623.54,673.53 623.66,670.74 623.78,667.61 623.91,664.21 624.03,660.59 624.16,656.82 624.28,652.96 624.41,649.08 624.53,645.24 624.65,641.51 624.78,637.96 624.90,634.66 625.03,631.64 625.15,628.98 625.27,626.71 625.40,624.87 625.52,623.51 625.65,622.63 625.77,622.26 625.90,622.41 626.02,623.07 626.14,624.22 626.27,625.86 626.39,627.95 626.52,630.46 626.64,633.34 626.76,636.54 626.89,640.01 627.01,643.69 627.14,647.52 627.26,651.42 627.39,655.33 627.51,659.19 627.63,662.92 627.76,666.46 627.88,669.75 628.01,672.73 628.13,675.35 628.25,677.56 628.38,679.33 628.50,680.62 628.63,681.41 628.75,681.69 628.88,681.45 629.00,680.70 629.12,679.45 629.25,677.71 629.37,675.53 629.50,672.93 629.62,669.96 629.75,666.68 629.87,663.14 629.99,659.40 630.12,655.52 630.24,651.58 630.37,647.64 630.49,643.77 630.61,640.04 630.74,636.51 630.86,633.25 630.99,630.30 631.11,627.73 631.24,625.58 631.36,623.88 631.48,622.66 631.61,621.96 631.73,621.77 631.86,622.10 631.98,622.95 632.10,624.30 632.23,626.14 632.35,628.42 632.48,631.11 632.60,634.16 632.73,637.52 632.85,641.13 632.97,644.94 633.10,648.86 633.22,652.84 633.35,656.80 633.47,660.68 633.59,664.42 633.72,667.93 633.84,671.17 633.97,674.07 634.09,676.59 634.22,678.68 634.34,680.31 634.46,681.44 634.59,682.06 634.71,682.16 634.84,681.73 634.96,680.78 635.08,679.32 635.21,677.39 635.33,675.01 635.46,672.23 635.58,669.09 635.71,665.65 635.83,661.97 635.95,658.11 636.08,654.14 636.20,650.12 636.33,646.14 636.45,642.25 636.57,638.52 636.70,635.02 636.82,631.81 636.95,628.95 637.07,626.49 637.20,624.46 637.32,622.91 637.44,621.86 637.57,621.33 637.69,621.33 637.82,621.86 637.94,622.91 638.06,624.47 638.19,626.50 638.31,628.98 638.44,631.85 638.56,635.08 638.68,638.59 638.81,642.35 638.93,646.26 639.06,650.28 639.18,654.33 639.31,658.34 639.43,662.24 639.55,665.96 639.68,669.43 639.80,672.61 639.93,675.42 640.05,677.83 640.17,679.79 640.30,681.26 640.42,682.23 640.55,682.66 640.67,682.56 640.80,681.93 640.92,680.77 641.04,679.11 641.17,676.98 641.29,674.40 641.42,671.44 641.54,668.13 641.66,664.53 641.79,660.71 641.91,656.74 642.04,652.68 642.16,648.60 642.29,644.57 642.41,640.67 642.53,636.96 642.66,633.50 642.78,630.36 642.91,627.60 643.03,625.25 643.15,623.36 643.28,621.97 643.40,621.10 643.53,620.76 643.65,620.96 643.78,621.70 643.90,622.96 644.02,624.73 644.15,626.97 644.27,629.64 644.40,632.70 644.52,636.10 644.64,639.77 644.77,643.65 644.89,647.68 645.02,651.79 645.14,655.90 645.27,659.94 645.39,663.84 645.51,667.54 645.64,670.97 645.76,674.07 645.89,676.78 646.01,679.06 646.13,680.87 646.26,682.18 646.38,682.96 646.51,683.20 646.63,682.90 646.76,682.05 646.88,680.68 647.00,678.81 647.13,676.47 647.25,673.69 647.38,670.54 647.50,667.06 647.62,663.31 647.75,659.36 647.87,655.28 648.00,651.13 648.12,646.99 648.25,642.94 648.37,639.04 648.49,635.35 648.62,631.96 648.74,628.90 648.87,626.24 648.99,624.03 649.12,622.30 649.24,621.08 649.36,620.39 649.49,620.26 649.61,620.67 649.74,621.62 649.86,623.10 649.98,625.08 650.11,627.53 650.23,630.40 650.36,633.65 650.48,637.22 650.61,641.04 650.73,645.05 650.85,649.19 650.98,653.37 651.10,657.53 651.23,661.60 651.35,665.50 651.47,669.16 651.60,672.52 651.72,675.53 651.85,678.13 651.97,680.27 652.10,681.92 652.22,683.05 652.34,683.63 652.47,683.67 652.59,683.15 652.72,682.08 652.84,680.49 652.96,678.40 653.09,675.85 653.21,672.87 653.34,669.53 653.46,665.88 653.59,661.98 653.71,657.91 653.83,653.72 653.96,649.50 654.08,645.32 654.21,641.25 654.33,637.36 654.45,633.72 654.58,630.39 654.70,627.43 654.83,624.90 654.95,622.83 655.08,621.27 655.20,620.24 655.32,619.75 655.45,619.83 655.57,620.46 655.70,621.64 655.82,623.34 655.94,625.54 656.07,628.20 656.19,631.28 656.32,634.71 656.44,638.45 656.57,642.42 656.69,646.55 656.81,650.79 656.94,655.04 657.06,659.24 657.19,663.32 657.31,667.20 657.43,670.81 657.56,674.10 657.68,677.00 657.81,679.47 657.93,681.46 658.05,682.93 658.18,683.86 658.30,684.24 658.43,684.06 658.55,683.31 658.68,682.02 658.80,680.20 658.92,677.89 659.05,675.12 659.17,671.94 659.30,668.42 659.42,664.60 659.54,660.56 659.67,656.36 659.79,652.08 659.92,647.80 660.04,643.58 660.17,639.50 660.29,635.64 660.41,632.06 660.54,628.81 660.66,625.97 660.79,623.57 660.91,621.67 661.03,620.28 661.16,619.45 661.28,619.18 661.41,619.48 661.53,620.34 661.66,621.75 661.78,623.69 661.90,626.11 662.03,628.99 662.15,632.27 662.28,635.88 662.40,639.78 662.52,643.90 662.65,648.15 662.77,652.47 662.90,656.78 663.02,661.01 663.15,665.09 663.27,668.93 663.39,672.49 663.52,675.68 663.64,678.46 663.77,680.78 663.89,682.60 664.01,683.89 664.14,684.62 664.26,684.78 664.39,684.36 664.51,683.38 664.64,681.85 664.76,679.80 664.88,677.26 665.01,674.27 665.13,670.90 665.26,667.18 665.38,663.20 665.50,659.02 665.63,654.72 665.75,650.35 665.88,646.02 666.00,641.78 666.13,637.71 666.25,633.88 666.37,630.37 666.50,627.23 666.62,624.51 666.75,622.27 666.87,620.54 667.00,619.35 667.12,618.73 667.24,618.69 667.37,619.22 667.49,620.32 667.62,621.97 667.74,624.15 667.86,626.80 667.99,629.90 668.11,633.37 668.24,637.17 668.36,641.23 668.49,645.48 668.61,649.84 668.73,654.24 668.86,658.60 668.98,662.85 669.11,666.91 669.23,670.71 669.35,674.18 669.48,677.27 669.60,679.91 669.73,682.07 669.85,683.71 669.98,684.79 670.10,685.30 670.22,685.22 670.35,684.57 670.47,683.34 670.60,681.57 670.72,679.28 670.84,676.51 670.97,673.31 671.09,669.73 671.22,665.84 671.34,661.70 671.47,657.39 671.59,652.97 671.71,648.54 671.84,644.16 671.96,639.91 672.09,635.87 672.21,632.10 672.33,628.67 672.46,625.64 672.58,623.07 672.71,621.00 672.83,619.46 672.96,618.49 673.08,618.09 673.20,618.29 673.33,619.07 673.45,620.41 673.58,622.31 673.70,624.73 673.82,627.61 673.95,630.92 674.07,634.60 674.20,638.58 674.32,642.80 674.45,647.17 674.57,651.63 674.69,656.10 674.82,660.50 674.94,664.74 675.07,668.77 675.19,672.51 675.31,675.88 675.44,678.84 675.56,681.34 675.69,683.32 675.81,684.76 675.93,685.62 676.06,685.89 676.18,685.58 676.31,684.67 676.43,683.20 676.56,681.17 676.68,678.64 676.80,675.63 676.93,672.21 677.05,668.44 677.18,664.37 677.30,660.08 677.42,655.64 677.55,651.14 677.67,646.64 677.80,642.23 677.92,637.99 678.05,633.98 678.17,630.29 678.29,626.96 678.42,624.07 678.54,621.66 678.67,619.77 678.79,618.44 678.91,617.70 679.04,617.54 679.16,617.98 679.29,619.02 679.41,620.62 679.54,622.77 679.66,625.43 679.78,628.55 679.91,632.08 680.03,635.96 680.16,640.11 680.28,644.48 680.40,648.97 680.53,653.52 680.65,658.04 680.78,662.45 680.90,666.69 681.03,670.67 681.15,674.32 681.27,677.59 681.40,680.41 681.52,682.73 681.65,684.52 681.77,685.74 681.89,686.37 682.02,686.40 682.14,685.83 682.27,684.66 682.39,682.93 682.52,680.65 682.64,677.86 682.76,674.63 682.89,670.99 683.01,667.02 683.14,662.78 683.26,658.34 683.38,653.79 683.51,649.21 683.63,644.66 683.76,640.24 683.88,636.02 684.01,632.07 684.13,628.46 684.25,625.26 684.38,622.52 684.50,620.29 684.63,618.60 684.75,617.50 684.88,616.99 685.00,617.09 685.12,617.79 685.25,619.09 685.37,620.96 685.50,623.37 685.62,626.28 685.74,629.63 685.87,633.37 685.99,637.44 686.12,641.77 686.24,646.27 686.37,650.87 686.49,655.49 686.61,660.05 686.74,664.48 686.86,668.68 686.99,672.60 687.11,676.15 687.23,679.29 687.36,681.95 687.48,684.08 687.61,685.66 687.73,686.65 687.86,687.03 687.98,686.80 688.10,685.96 688.23,684.53 688.35,682.52 688.48,679.98 688.60,676.95 688.72,673.48 688.85,669.63 688.97,665.46 689.10,661.06 689.22,656.49 689.35,651.84 689.47,647.19 689.59,642.61 689.72,638.19 689.84,634.01 689.97,630.13 690.09,626.63 690.21,623.57 690.34,621.00 690.46,618.96 690.59,617.49 690.71,616.63 690.84,616.37 690.96,616.74 691.08,617.71 691.21,619.29 691.33,621.43 691.46,624.10 691.58,627.26 691.70,630.85 691.83,634.80 691.95,639.06 692.08,643.54 692.20,648.17 692.33,652.87 692.45,657.56 692.57,662.14 692.70,666.55 692.82,670.71 692.95,674.55 693.07,677.98 693.19,680.97 693.32,683.45 693.44,685.38 693.57,686.73 693.69,687.47 693.82,687.59 693.94,687.09 694.06,685.98 694.19,684.26 694.31,681.99 694.44,679.18 694.56,675.90 694.68,672.19 694.81,668.13 694.93,663.78 695.06,659.22 695.18,654.53 695.30,649.79 695.43,645.08 695.55,640.49 695.68,636.09 695.80,631.96 695.93,628.18 696.05,624.80 696.17,621.90 696.30,619.51 696.42,617.69 696.55,616.46 696.67,615.85 696.79,615.87 696.92,616.51 697.04,617.77 697.17,619.62 697.29,622.04 697.42,624.98 697.54,628.39 697.66,632.21 697.79,636.37 697.91,640.81 698.04,645.44 698.16,650.19 698.28,654.97 698.41,659.70 698.53,664.30 698.66,668.68 698.78,672.77 698.91,676.50 699.03,679.81 699.15,682.63 699.28,684.91 699.40,686.62 699.53,687.72 699.65,688.20 699.77,688.04 699.90,687.26 700.02,685.86 700.15,683.86 700.27,681.30 700.40,678.23 700.52,674.69 700.64,670.76 700.77,666.49 700.89,661.97 701.02,657.26 701.14,652.46 701.26,647.64 701.39,642.89 701.51,638.30 701.64,633.94 701.76,629.89 701.89,626.21 702.01,622.99 702.13,620.26 702.26,618.08 702.38,616.49 702.51,615.52 702.63,615.18 702.75,615.48 702.88,616.41 703.00,617.96 703.13,620.10 703.25,622.80 703.38,626.01 703.50,629.66 703.62,633.71 703.75,638.08 703.87,642.69 704.00,647.47 704.12,652.32 704.25,657.17 704.37,661.93 704.49,666.52 704.62,670.85 704.74,674.86 704.87,678.46 704.99,681.61 705.11,684.24 705.24,686.31 705.36,687.77 705.49,688.61 705.61,688.82 705.74,688.37 705.86,687.29 705.98,685.59 706.11,683.30 706.23,680.46 706.36,677.12 706.48,673.34 706.60,669.18 706.73,664.71 706.85,660.02 706.98,655.18 707.10,650.28 707.23,645.40 707.35,640.63 707.47,636.06 707.60,631.75 707.72,627.80 707.85,624.26 707.97,621.20 708.09,618.67 708.22,616.72 708.34,615.38 708.47,614.68 708.59,614.62 708.72,615.21 708.84,616.45 708.96,618.30 709.09,620.74 709.21,623.72 709.34,627.19 709.46,631.10 709.58,635.37 709.71,639.94 709.83,644.71 709.96,649.61 710.08,654.56 710.21,659.46 710.33,664.23 710.45,668.78 710.58,673.05 710.70,676.95 710.83,680.41 710.95,683.38 711.07,685.80 711.20,687.63 711.32,688.84 711.45,689.40 711.57,689.31 711.70,688.56 711.82,687.18 711.94,685.17 712.07,682.59 712.19,679.46 712.32,675.85 712.44,671.82 712.56,667.44 712.69,662.78 712.81,657.93 712.94,652.97 713.06,647.99 713.18,643.07 713.31,638.30 713.43,633.76 713.56,629.54 713.68,625.70 713.81,622.32 713.93,619.45 714.05,617.14 714.18,615.43 714.30,614.37 714.43,613.95 714.55,614.19 714.67,615.09 714.80,616.64 714.92,618.80 715.05,621.54 715.17,624.80 715.30,628.55 715.42,632.70 715.54,637.19 715.67,641.93 715.79,646.86 715.92,651.87 716.04,656.89 716.16,661.82 716.29,666.59 716.41,671.10 716.54,675.27 716.66,679.04 716.79,682.34 716.91,685.11 717.03,687.30 717.16,688.87 717.28,689.80 717.41,690.07 717.53,689.67 717.65,688.61 717.78,686.91 717.90,684.59 718.03,681.70 718.15,678.29 718.28,674.41 718.40,670.14 718.52,665.55 718.65,660.71 718.77,655.72 718.90,650.65 719.02,645.60 719.14,640.66 719.27,635.91 719.39,631.44 719.52,627.31 719.64,623.61 719.77,620.41 719.89,617.75 720.01,615.68 720.14,614.24 720.26,613.46 720.39,613.35 720.51,613.91 720.63,615.13 720.76,616.99 720.88,619.47 721.01,622.51 721.13,626.06 721.26,630.07 721.38,634.46 721.50,639.15 721.63,644.08 721.75,649.14 721.88,654.25 722.00,659.32 722.12,664.27 722.25,669.00 722.37,673.44 722.50,677.50 722.62,681.12 722.75,684.23 722.87,686.78 722.99,688.72 723.12,690.02 723.24,690.65 723.37,690.60 723.49,689.88 723.62,688.49 723.74,686.47 723.86,683.84 723.99,680.64 724.11,676.94 724.24,672.81 724.36,668.30 724.48,663.50 724.61,658.50 724.73,653.38 724.86,648.22 724.98,643.13 725.11,638.18 725.23,633.47 725.35,629.08 725.48,625.08 725.60,621.55 725.73,618.54 725.85,616.11 725.97,614.31 726.10,613.16 726.22,612.68 726.35,612.89 726.47,613.77 726.60,615.33 726.72,617.52 726.84,620.31 726.97,623.66 727.09,627.49 727.22,631.76 727.34,636.38 727.46,641.28 727.59,646.36 727.71,651.54 727.84,656.73 727.96,661.84 728.09,666.78 728.21,671.46 728.33,675.81 728.46,679.73 728.58,683.17 728.71,686.07 728.83,688.38 728.95,690.04 729.08,691.04 729.20,691.36 729.33,690.99 729.45,689.93 729.58,688.21 729.70,685.85 729.82,682.90 729.95,679.40 730.07,675.42 730.20,671.02 730.32,666.29 730.44,661.30 730.57,656.14 730.69,650.91 730.82,645.68 730.94,640.57 731.07,635.64 731.19,630.99 731.31,626.71 731.44,622.86 731.56,619.51 731.69,616.73 731.81,614.56 731.93,613.04 732.06,612.19 732.18,612.04 732.31,612.58 732.43,613.81 732.55,615.70 732.68,618.23 732.80,621.34 732.93,624.99 733.05,629.11 733.18,633.63 733.30,638.48 733.42,643.56 733.55,648.78 733.67,654.07 733.80,659.32 733.92,664.44 734.04,669.35 734.17,673.96 734.29,678.18 734.42,681.94 734.54,685.19 734.67,687.85 734.79,689.88 734.91,691.26 735.04,691.94 735.16,691.93 735.29,691.21 735.41,689.81 735.53,687.74 735.66,685.05 735.78,681.77 735.91,677.97 736.03,673.71 736.16,669.06 736.28,664.11 736.40,658.95 736.53,653.65 736.65,648.32 736.78,643.05 736.90,637.93 737.02,633.05 737.15,628.49 737.27,624.34 737.40,620.66 737.52,617.53 737.65,614.99 737.77,613.10 737.89,611.88 738.02,611.36 738.14,611.55 738.27,612.44 738.39,614.02 738.51,616.26 738.64,619.13 738.76,622.57 738.89,626.52 739.01,630.92 739.14,635.68 739.26,640.74 739.38,645.99 739.51,651.34 739.63,656.71 739.76,662.00 739.88,667.11 740.00,671.97 740.13,676.47 740.25,680.55 740.38,684.12 740.50,687.14 740.63,689.54 740.75,691.29 740.87,692.34 741.00,692.69 741.12,692.33 741.25,691.26 741.37,689.50 741.50,687.08 741.62,684.05 741.74,680.45 741.87,676.34 741.99,671.81 742.12,666.92 742.24,661.77 742.36,656.44 742.49,651.03 742.61,645.63 742.74,640.33 742.86,635.23 742.99,630.41 743.11,625.97 743.23,621.98 743.36,618.50 743.48,615.61 743.61,613.35 743.73,611.76 743.85,610.86 743.98,610.69 744.10,611.23 744.23,612.48 744.35,614.43 744.48,617.02 744.60,620.23 744.72,623.99 744.85,628.24 744.97,632.91 745.10,637.91 745.22,643.16 745.34,648.57 745.47,654.03 745.59,659.46 745.72,664.76 745.84,669.84 745.97,674.61 746.09,678.99 746.21,682.89 746.34,686.25 746.46,689.02 746.59,691.14 746.71,692.57 746.83,693.29 746.96,693.29 747.08,692.56 747.21,691.12 747.33,689.00 747.46,686.22 747.58,682.84 747.70,678.92 747.83,674.52 747.95,669.72 748.08,664.60 748.20,659.26 748.32,653.79 748.45,648.28 748.57,642.83 748.70,637.53 748.82,632.47 748.95,627.76 749.07,623.46 749.19,619.65 749.32,616.40 749.44,613.78 749.57,611.81 749.69,610.54 749.81,610.00 749.94,610.18 750.06,611.10 750.19,612.72 750.31,615.04 750.43,617.99 750.56,621.54 750.68,625.63 750.81,630.17 750.93,635.10 751.06,640.32 751.18,645.75 751.30,651.29 751.43,656.84 751.55,662.31 751.68,667.60 751.80,672.62 751.92,677.28 752.05,681.49 752.17,685.20 752.30,688.32 752.42,690.81 752.55,692.61 752.67,693.71 752.79,694.07 752.92,693.70 753.04,692.60 753.17,690.78 753.29,688.28 753.41,685.14 753.54,681.42 753.66,677.18 753.79,672.49 753.91,667.44 754.04,662.11 754.16,656.60 754.28,651.00 754.41,645.41 754.53,639.93 754.66,634.66 754.78,629.68 754.90,625.09 755.03,620.96 755.15,617.37 755.28,614.38 755.40,612.04 755.53,610.40 755.65,609.48 755.77,609.30 755.90,609.86 756.02,611.16 756.15,613.17 756.27,615.86 756.39,619.18 756.52,623.08 756.64,627.48 756.77,632.30 756.89,637.48 757.02,642.91 757.14,648.50 757.26,654.15 757.39,659.76 757.51,665.24 757.64,670.50 757.76,675.42 757.88,679.94 758.01,683.98 758.13,687.45 758.26,690.30 758.38,692.48 758.51,693.96 758.63,694.69 758.75,694.68 758.88,693.92 759.00,692.43 759.13,690.22 759.25,687.34 759.38,683.84 759.50,679.78 759.62,675.22 759.75,670.25 759.87,664.96 760.00,659.44 760.12,653.77 760.24,648.07 760.37,642.44 760.49,636.96 760.62,631.74 760.74,626.87 760.87,622.43 760.99,618.50 761.11,615.15 761.24,612.45 761.36,610.43 761.49,609.13 761.61,608.58 761.73,608.78 761.86,609.74 761.98,611.44 762.11,613.84 762.23,616.91 762.36,620.60 762.48,624.83 762.60,629.54 762.73,634.64 762.85,640.05 762.98,645.66 763.10,651.39 763.22,657.13 763.35,662.79 763.47,668.25 763.60,673.44 763.72,678.24 763.85,682.59 763.97,686.41 764.09,689.62 764.22,692.18 764.34,694.03 764.47,695.14 764.59,695.50 764.71,695.10 764.84,693.94 764.96,692.04 765.09,689.43 765.21,686.17 765.34,682.31 765.46,677.91 765.58,673.05 765.71,667.81 765.83,662.30 765.96,656.59 766.08,650.80 766.20,645.03 766.33,639.37 766.45,633.92 766.58,628.78 766.70,624.05 766.83,619.79 766.95,616.10 767.07,613.02 767.20,610.63 767.32,608.95 767.45,608.03 767.57,607.87 767.69,608.47 767.82,609.84 767.94,611.95 768.07,614.75 768.19,618.20 768.32,622.25 768.44,626.82 768.56,631.82 768.69,637.18 768.81,642.81 768.94,648.59 769.06,654.44 769.18,660.24 769.31,665.90 769.43,671.32 769.56,676.40 769.68,681.06 769.80,685.21 769.93,688.78 770.05,691.70 770.18,693.93 770.30,695.42 770.43,696.16 770.55,696.12 770.67,695.30 770.80,693.72 770.92,691.41 771.05,688.41 771.17,684.76 771.29,680.54 771.42,675.81 771.54,670.65 771.67,665.17 771.79,659.45 771.92,653.59 772.04,647.69 772.16,641.87 772.29,636.21 772.41,630.83 772.54,625.81 772.66,621.24 772.78,617.20 772.91,613.77 773.03,611.00 773.16,608.95 773.28,607.64 773.41,607.11 773.53,607.36 773.65,608.38 773.78,610.17 773.90,612.69 774.03,615.90 774.15,619.74 774.27,624.14 774.40,629.03 774.52,634.33 774.65,639.93 774.77,645.75 774.90,651.68 775.02,657.61 775.14,663.45 775.27,669.09 775.39,674.43 775.52,679.38 775.64,683.85 775.76,687.77 775.89,691.06 776.01,693.66 776.14,695.54 776.26,696.65 776.39,696.98 776.51,696.52 776.63,695.27 776.76,693.27 776.88,690.54 777.01,687.13 777.13,683.10 777.25,678.52 777.38,673.47 777.50,668.04 777.63,662.32 777.75,656.41 777.88,650.42 778.00,644.46 778.12,638.61 778.25,632.99 778.37,627.70 778.50,622.83 778.62,618.47 778.75,614.68 778.87,611.54 778.99,609.11 779.12,607.42 779.24,606.51 779.37,606.39 779.49,607.07 779.61,608.53 779.74,610.75 779.86,613.69 779.99,617.31 780.11,621.53 780.24,626.28 780.36,631.48 780.48,637.05 780.61,642.88 780.73,648.87 780.86,654.91 780.98,660.91 781.10,666.75 781.23,672.33 781.35,677.56 781.48,682.35 781.60,686.60 781.73,690.25 781.85,693.23 781.97,695.48 782.10,696.98 782.22,697.68 782.35,697.58 782.47,696.69 782.59,695.00 782.72,692.56 782.84,689.41 782.97,685.59 783.09,681.18 783.22,676.26 783.34,670.90 783.46,665.21 783.59,659.28 783.71,653.21 783.84,647.12 783.96,641.10 784.08,635.27 784.21,629.73 784.33,624.57 784.46,619.88 784.58,615.75 784.71,612.25 784.83,609.43 784.95,607.37 785.08,606.07 785.20,605.58 785.33,605.90 785.45,607.02 785.57,608.93 785.70,611.59 785.82,614.96 785.95,618.98 786.07,623.57 786.20,628.67 786.32,634.17 786.44,639.99 786.57,646.02 786.69,652.15 786.82,658.29 786.94,664.31 787.06,670.12 787.19,675.62 787.31,680.70 787.44,685.28 787.56,689.28 787.68,692.63 787.81,695.27 787.93,697.14 788.06,698.23 788.18,698.50 788.31,697.96 788.43,696.60 788.55,694.47 788.68,691.58 788.80,688.00 788.93,683.78 789.05,679.00 789.17,673.74 789.30,668.10 789.42,662.16 789.55,656.04 789.67,649.85 789.80,643.68 789.92,637.65 790.04,631.87 790.17,626.43 790.29,621.43 790.42,616.97 790.54,613.11 790.66,609.92 790.79,607.47 790.91,605.80 791.04,604.93 791.16,604.88 791.29,605.65 791.41,607.24 791.53,609.60 791.66,612.71 791.78,616.51 791.91,620.92 792.03,625.88 792.15,631.31 792.28,637.09 792.40,643.14 792.53,649.34 792.65,655.59 792.78,661.78 792.90,667.81 793.02,673.55 793.15,678.92 793.27,683.82 793.40,688.16 793.52,691.87 793.64,694.89 793.77,697.15 793.89,698.61 794.02,699.26 794.14,699.08 794.27,698.07 794.39,696.26 794.51,693.66 794.64,690.33 794.76,686.32 794.89,681.70 795.01,676.56 795.13,670.98 795.26,665.06 795.38,658.91 795.51,652.63 795.63,646.33 795.76,640.12 795.88,634.12 796.00,628.42 796.13,623.13 796.25,618.33 796.38,614.12 796.50,610.57 796.62,607.74 796.75,605.68 796.87,604.43 797.00,604.01 797.12,604.42 797.25,605.67 797.37,607.73 797.49,610.56 797.62,614.11 797.74,618.33 797.87,623.15 797.99,628.46 798.12,634.19 798.24,640.24 798.36,646.49 798.49,652.84 798.61,659.18 798.74,665.39 798.86,671.37 798.98,677.01 799.11,682.22 799.23,686.90 799.36,690.96 799.48,694.35 799.61,696.99 799.73,698.84 799.85,699.87 799.98,700.06 800.10,699.41 800.23,697.92 800.35,695.62 800.47,692.55 800.60,688.77 800.72,684.34 800.85,679.34 800.97,673.85 801.10,667.97 801.22,661.80 801.34,655.46 801.47,649.05 801.59,642.68 801.72,636.47 801.84,630.52 801.96,624.95 802.09,619.84 802.21,615.29 802.34,611.37 802.46,608.17 802.59,605.72 802.71,604.09 802.83,603.28 802.96,603.33 803.08,604.23 803.21,605.97 803.33,608.51 803.45,611.81 803.58,615.82 803.70,620.46 803.83,625.65 803.95,631.31 804.08,637.33 804.20,643.61 804.32,650.04 804.45,656.50 804.57,662.89 804.70,669.09 804.82,674.99 804.94,680.49 805.07,685.49 805.19,689.91 805.32,693.66 805.44,696.68 805.57,698.92 805.69,700.33 805.81,700.90 805.94,700.60 806.06,699.45 806.19,697.47 806.31,694.69 806.43,691.15 806.56,686.92 806.68,682.07 806.81,676.69 806.93,670.87 807.05,664.72 807.18,658.33 807.30,651.82 807.43,645.31 807.55,638.91 807.68,632.74 807.80,626.89 807.92,621.48 808.05,616.59 808.17,612.32 808.30,608.75 808.42,605.92 808.54,603.90 808.67,602.71 808.79,602.39 808.92,602.93 809.04,604.33 809.17,606.57 809.29,609.60 809.41,613.37 809.54,617.82 809.66,622.88 809.79,628.44 809.91,634.41 810.03,640.70 810.16,647.19 810.28,653.76 810.41,660.31 810.53,666.71 810.66,672.85 810.78,678.63 810.90,683.95 811.03,688.70 811.15,692.82 811.28,696.21 811.40,698.84 811.52,700.64 811.65,701.58 811.77,701.66 811.90,700.86 812.02,699.20 812.15,696.71 812.27,693.43 812.39,689.42 812.52,684.75 812.64,679.50 812.77,673.76 812.89,667.63 813.01,661.22 813.14,654.64 813.26,648.01 813.39,641.44 813.51,635.05 813.64,628.95 813.76,623.24 813.88,618.04 814.01,613.42 814.13,609.47 814.26,606.27 814.38,603.86 814.50,602.29 814.63,601.59 814.75,601.77 814.88,602.82 815.00,604.74 815.13,607.49 815.25,611.01 815.37,615.26 815.50,620.15 815.62,625.60 815.75,631.51 815.87,637.78 816.00,644.31 816.12,650.97 816.24,657.65 816.37,664.24 816.49,670.61 816.62,676.66 816.74,682.28 816.86,687.36 816.99,691.83 817.11,695.60 817.24,698.61 817.36,700.79 817.49,702.13 817.61,702.58 817.73,702.14 817.86,700.81 817.98,698.63 818.11,695.63 818.23,691.86 818.35,687.38 818.48,682.27 818.60,676.63 818.73,670.55 818.85,664.14 818.98,657.51 819.10,650.77 819.22,644.05 819.35,637.46 819.47,631.11 819.60,625.13 819.72,619.61 819.84,614.65 819.97,610.35 820.09,606.76 820.22,603.97 820.34,602.01 820.47,600.93 820.59,600.74 820.71,601.44 820.84,603.03 820.96,605.48 821.09,608.74 821.21,612.76 821.33,617.47 821.46,622.79 821.58,628.62 821.71,634.86 821.83,641.40 821.96,648.13 822.08,654.94 822.20,661.69 822.33,668.27 822.45,674.58 822.58,680.48 822.70,685.89 822.82,690.71 822.95,694.84 823.07,698.23 823.20,700.80 823.32,702.52 823.45,703.35 823.57,703.28 823.69,702.30 823.82,700.44 823.94,697.73 824.07,694.20 824.19,689.94 824.31,685.00 824.44,679.47 824.56,673.46 824.69,667.06 824.81,660.40 824.93,653.57 825.06,646.72 825.18,639.94 825.31,633.38 825.43,627.13 825.56,621.31 825.68,616.02 825.80,611.36 825.93,607.40 826.05,604.22 826.18,601.88 826.30,600.41 826.42,599.84 826.55,600.19 826.67,601.44 826.80,603.57 826.92,606.56 827.05,610.34 827.17,614.85 827.29,620.02 827.42,625.75 827.54,631.94 827.67,638.48 827.79,645.26 827.91,652.17 828.04,659.07 828.16,665.85 828.29,672.39 828.41,678.57 828.54,684.29 828.66,689.45 828.78,693.95 828.91,697.71 829.03,700.67 829.16,702.78 829.28,703.99 829.40,704.29 829.53,703.67 829.65,702.14 829.78,699.72 829.90,696.47 830.03,692.42 830.15,687.67 830.27,682.28 830.40,676.35 830.52,669.99 830.65,663.31 830.77,656.42 830.89,649.45 831.02,642.51 831.14,635.73 831.27,629.23 831.39,623.12 831.52,617.51 831.64,612.50 831.76,608.18 831.89,604.62 832.01,601.89 832.14,600.03 832.26,599.09 832.38,599.06 832.51,599.96 832.63,601.78 832.76,604.47 832.88,608.00 833.01,612.30 833.13,617.30 833.25,622.91 833.38,629.03 833.50,635.55 833.63,642.37 833.75,649.35 833.88,656.39 834.00,663.35 834.12,670.11 834.25,676.56 834.37,682.58 834.50,688.06 834.62,692.91 834.74,697.05 834.87,700.39 834.99,702.89 835.12,704.49 835.24,705.16 835.37,704.91 835.49,703.72 835.61,701.61 835.74,698.64 835.86,694.84 835.99,690.28 836.11,685.05 836.23,679.22 836.36,672.92 836.48,666.24 836.61,659.30 836.73,652.22 836.86,645.14 836.98,638.17 837.10,631.43 837.23,625.05 837.35,619.13 837.48,613.78 837.60,609.10 837.72,605.16 837.85,602.04 837.97,599.80 838.10,598.46 838.22,598.07 838.35,598.61 838.47,600.09 838.59,602.49 838.72,605.75 838.84,609.82 838.97,614.63 839.09,620.10 839.21,626.13 839.34,632.62 839.46,639.45 839.59,646.50 839.71,653.65 839.84,660.77 839.96,667.75 840.08,674.44 840.21,680.75 840.33,686.55 840.46,691.75 840.58,696.25 840.70,699.98 840.83,702.86 840.95,704.85 841.08,705.91 841.20,706.02 841.33,705.18 841.45,703.40 841.57,700.72 841.70,697.17 841.82,692.83 841.95,687.76 842.07,682.07 842.19,675.83 842.32,669.17 842.44,662.20 842.57,655.05 842.69,647.83 842.82,640.68 842.94,633.72 843.06,627.07 843.19,620.86 843.31,615.18 843.44,610.14 843.56,605.84 843.68,602.33 843.81,599.70 843.93,597.98 844.06,597.20 844.18,597.38 844.30,598.52 844.43,600.60 844.55,603.58 844.68,607.41 844.80,612.02 844.93,617.33 845.05,623.26 845.17,629.69 845.30,636.52 845.42,643.61 845.55,650.86 845.67,658.14 845.79,665.30 845.92,672.24 846.04,678.82 846.17,684.93 846.29,690.47 846.42,695.33 846.54,699.43 846.66,702.70 846.79,705.08 846.91,706.52 847.04,707.01 847.16,706.52 847.28,705.08 847.41,702.70 847.53,699.42 847.66,695.31 847.78,690.43 847.91,684.87 848.03,678.73 848.15,672.11 848.28,665.12 848.40,657.90 848.53,650.57 848.65,643.26 848.77,636.09 848.90,629.19 849.02,622.69 849.15,616.69 849.27,611.31 849.40,606.64 849.52,602.75 849.64,599.73 849.77,597.62 849.89,596.46 850.02,596.28 850.14,597.07 850.26,598.82 850.39,601.50 850.51,605.08 850.64,609.47 850.76,614.62 850.89,620.42 851.01,626.78 851.13,633.58 851.26,640.71 851.38,648.04 851.51,655.44 851.63,662.78 851.75,669.94 851.88,676.79 852.00,683.20 852.13,689.06 852.25,694.28 852.38,698.75 852.50,702.41"/>
<rect x="107.5" y="351.4" width="745" height="600.9" fill="none" stroke="#000" stroke-width="2.9"/>
<path d="M182 952.3v-6.3M182 351.4v6.3" stroke="#000" stroke-width="2.8" fill="none"/>
<path d="M256.5 952.3v-12.2M256.5 351.4v12.2" stroke="#000" stroke-width="2.8" fill="none"/>
<path d="M331 952.3v-6.3M331 351.4v6.3" stroke="#000" stroke-width="2.8" fill="none"/>
<path d="M405.5 952.3v-12.2M405.5 351.4v12.2" stroke="#000" stroke-width="2.8" fill="none"/>
<path d="M480 952.3v-6.3M480 351.4v6.3" stroke="#000" stroke-width="2.8" fill="none"/>
<path d="M554.5 952.3v-12.2M554.5 351.4v12.2" stroke="#000" stroke-width="2.8" fill="none"/>
<path d="M629 952.3v-6.3M629 351.4v6.3" stroke="#000" stroke-width="2.8" fill="none"/>
<path d="M703.5 952.3v-12.2M703.5 351.4v12.2" stroke="#000" stroke-width="2.8" fill="none"/>
<path d="M778 952.3v-6.3M778 351.4v6.3" stroke="#000" stroke-width="2.8" fill="none"/>
<path d="M107.5 426.51h6.3M852.5 426.51h-6.3" stroke="#000" stroke-width="2.8" fill="none"/>
<path d="M107.5 501.62h12.2M852.5 501.62h-12.2" stroke="#000" stroke-width="2.8" fill="none"/>
<path d="M107.5 576.74h6.3M852.5 576.74h-6.3" stroke="#000" stroke-width="2.8" fill="none"/>
<path d="M107.5 651.85h12.2M852.5 651.85h-12.2" stroke="#000" stroke-width="2.8" fill="none"/>
<path d="M107.5 726.96h6.3M852.5 726.96h-6.3" stroke="#000" stroke-width="2.8" fill="none"/>
<path d="M107.5 802.07h12.2M852.5 802.07h-12.2" stroke="#000" stroke-width="2.8" fill="none"/>
<path d="M107.5 877.19h6.3M852.5 877.19h-6.3" stroke="#000" stroke-width="2.8" fill="none"/>
<text transform="translate(107.9 994.7) scale(1 1.03)" text-anchor="middle" font-family='"Liberation Sans", "DejaVu Sans", sans-serif' font-size="37">0.0</text>
<text transform="translate(256.9 994.7) scale(1 1.03)" text-anchor="middle" font-family='"Liberation Sans", "DejaVu Sans", sans-serif' font-size="37">0.2</text>
<text transform="translate(405.9 994.7) scale(1 1.03)" text-anchor="middle" font-family='"Liberation Sans", "DejaVu Sans", sans-serif' font-size="37">0.4</text>
<text transform="translate(554.9 994.7) scale(1 1.03)" text-anchor="middle" font-family='"Liberation Sans", "DejaVu Sans", sans-serif' font-size="37">0.6</text>
<text transform="translate(703.9 994.7) scale(1 1.03)" text-anchor="middle" font-family='"Liberation Sans", "DejaVu Sans", sans-serif' font-size="37">0.8</text>
<text transform="translate(852.9 994.7) scale(1 1.03)" text-anchor="middle" font-family='"Liberation Sans", "DejaVu Sans", sans-serif' font-size="37">1.0</text>
<text transform="translate(94.3 362.9) scale(1 1.03)" text-anchor="end" font-family='"Liberation Sans", "DejaVu Sans", sans-serif' font-size="37">4</text>
<text transform="translate(94.3 513.12) scale(1 1.03)" text-anchor="end" font-family='"Liberation Sans", "DejaVu Sans", sans-serif' font-size="37">2</text>
<text transform="translate(94.3 663.35) scale(1 1.03)" text-anchor="end" font-family='"Liberation Sans", "DejaVu Sans", sans-serif' font-size="37">0</text>
<text transform="translate(94.3 813.57) scale(1 1.03)" text-anchor="end" font-family='"Liberation Sans", "DejaVu Sans", sans-serif' font-size="37">-2</text>
<text transform="translate(94.3 963.8) scale(1 1.03)" text-anchor="end" font-family='"Liberation Sans", "DejaVu Sans", sans-serif' font-size="37">-4</text>
<text x="486.2" y="1039" text-anchor="middle" font-family='"Liberation Serif", "DejaVu Serif", serif' font-size="37"><tspan font-style="italic">t</tspan> (s)</text>
<text transform="translate(48 652.6) rotate(-90)" text-anchor="middle" font-family='"Liberation Serif", "DejaVu Serif", serif' font-size="36.8"><tspan font-style="italic">u</tspan>′ (mm)</text>
<text x="492.6" y="1095.4" text-anchor="middle" font-family='"Liberation Sans", "DejaVu Sans", sans-serif' font-size="34">(a)</text>
<text x="141.2" y="914.4" font-family='"Liberation Serif", "DejaVu Serif", serif' font-size="34">Spring-Free (<tspan font-style="italic">β</tspan>/<tspan font-style="italic">ω</tspan>=2.7×10<tspan font-size="24.5" dy="-15.6">-3</tspan><tspan dy="15.6">)</tspan></text>
</g>
<g id="plot2">
<polyline fill="none" stroke="#000" stroke-width="0.8" stroke-linejoin="round" points="1042.40,645.70 1042.52,646.21 1042.65,646.82 1042.77,647.52 1042.90,648.29 1043.02,649.12 1043.14,649.99 1043.27,650.91 1043.39,651.83 1043.51,652.76 1043.64,653.68 1043.76,654.56 1043.89,655.40 1044.01,656.18 1044.13,656.89 1044.26,657.52 1044.38,658.04 1044.50,658.47 1044.63,658.78 1044.75,658.97 1044.88,659.05 1045.00,659.00 1045.12,658.83 1045.25,658.54 1045.37,658.14 1045.50,657.63 1045.62,657.02 1045.74,656.33 1045.87,655.55 1045.99,654.72 1046.11,653.83 1046.24,652.91 1046.36,651.97 1046.49,651.03 1046.61,650.10 1046.73,649.20 1046.86,648.34 1046.98,647.54 1047.10,646.81 1047.23,646.17 1047.35,645.63 1047.48,645.18 1047.60,644.86 1047.72,644.65 1047.85,644.56 1047.97,644.59 1048.09,644.75 1048.22,645.03 1048.34,645.43 1048.47,645.93 1048.59,646.54 1048.71,647.23 1048.84,648.01 1048.96,648.85 1049.09,649.74 1049.21,650.67 1049.33,651.63 1049.46,652.58 1049.58,653.53 1049.70,654.44 1049.83,655.32 1049.95,656.14 1050.08,656.88 1050.20,657.54 1050.32,658.11 1050.45,658.56 1050.57,658.91 1050.69,659.14 1050.82,659.24 1050.94,659.22 1051.07,659.07 1051.19,658.80 1051.31,658.41 1051.44,657.91 1051.56,657.31 1051.69,656.61 1051.81,655.83 1051.93,654.98 1052.06,654.08 1052.18,653.14 1052.30,652.18 1052.43,651.21 1052.55,650.25 1052.68,649.32 1052.80,648.42 1052.92,647.59 1053.05,646.83 1053.17,646.15 1053.29,645.56 1053.42,645.09 1053.54,644.72 1053.67,644.48 1053.79,644.36 1053.91,644.37 1054.04,644.51 1054.16,644.77 1054.28,645.15 1054.41,645.65 1054.53,646.25 1054.66,646.95 1054.78,647.73 1054.90,648.58 1055.03,649.49 1055.15,650.44 1055.28,651.41 1055.40,652.40 1055.52,653.37 1055.65,654.32 1055.77,655.23 1055.89,656.09 1056.02,656.87 1056.14,657.57 1056.27,658.17 1056.39,658.66 1056.51,659.04 1056.64,659.30 1056.76,659.43 1056.88,659.44 1057.01,659.31 1057.13,659.06 1057.26,658.68 1057.38,658.19 1057.50,657.59 1057.63,656.90 1057.75,656.11 1057.88,655.25 1058.00,654.34 1058.12,653.38 1058.25,652.39 1058.37,651.40 1058.49,650.41 1058.62,649.44 1058.74,648.51 1058.87,647.64 1058.99,646.84 1059.11,646.12 1059.24,645.50 1059.36,644.99 1059.48,644.59 1059.61,644.32 1059.73,644.17 1059.86,644.15 1059.98,644.27 1060.10,644.51 1060.23,644.88 1060.35,645.37 1060.47,645.96 1060.60,646.66 1060.72,647.45 1060.85,648.31 1060.97,649.23 1061.09,650.20 1061.22,651.20 1061.34,652.21 1061.47,653.22 1061.59,654.20 1061.71,655.14 1061.84,656.03 1061.96,656.85 1062.08,657.59 1062.21,658.23 1062.33,658.76 1062.46,659.17 1062.58,659.46 1062.70,659.63 1062.83,659.66 1062.95,659.55 1063.07,659.32 1063.20,658.96 1063.32,658.48 1063.45,657.88 1063.57,657.18 1063.69,656.39 1063.82,655.53 1063.94,654.60 1064.07,653.62 1064.19,652.61 1064.31,651.58 1064.44,650.56 1064.56,649.56 1064.68,648.60 1064.81,647.69 1064.93,646.85 1065.06,646.10 1065.18,645.44 1065.30,644.89 1065.43,644.46 1065.55,644.15 1065.67,643.98 1065.80,643.93 1065.92,644.03 1066.05,644.25 1066.17,644.60 1066.29,645.08 1066.42,645.67 1066.54,646.37 1066.66,647.16 1066.79,648.04 1066.91,648.98 1067.04,649.96 1067.16,650.98 1067.28,652.02 1067.41,653.06 1067.53,654.07 1067.66,655.05 1067.78,655.98 1067.90,656.84 1068.03,657.61 1068.15,658.29 1068.27,658.85 1068.40,659.30 1068.52,659.63 1068.65,659.82 1068.77,659.88 1068.89,659.80 1069.02,659.58 1069.14,659.23 1069.26,658.76 1069.39,658.17 1069.51,657.47 1069.64,656.68 1069.76,655.80 1069.88,654.85 1070.01,653.86 1070.13,652.82 1070.26,651.77 1070.38,650.72 1070.50,649.69 1070.63,648.69 1070.75,647.75 1070.87,646.87 1071.00,646.08 1071.12,645.38 1071.25,644.80 1071.37,644.33 1071.49,643.99 1071.62,643.78 1071.74,643.71 1071.86,643.78 1071.99,643.99 1072.11,644.33 1072.24,644.79 1072.36,645.38 1072.48,646.08 1072.61,646.88 1072.73,647.76 1072.85,648.72 1072.98,649.72 1073.10,650.77 1073.23,651.83 1073.35,652.90 1073.47,653.95 1073.60,654.96 1073.72,655.93 1073.85,656.82 1073.97,657.63 1074.09,658.35 1074.22,658.95 1074.34,659.44 1074.46,659.79 1074.59,660.01 1074.71,660.10 1074.84,660.04 1074.96,659.84 1075.08,659.51 1075.21,659.05 1075.33,658.46 1075.45,657.76 1075.58,656.96 1075.70,656.08 1075.83,655.12 1075.95,654.10 1076.07,653.04 1076.20,651.96 1076.32,650.88 1076.45,649.82 1076.57,648.78 1076.69,647.80 1076.82,646.89 1076.94,646.06 1077.06,645.32 1077.19,644.70 1077.31,644.20 1077.44,643.82 1077.56,643.59 1077.68,643.49 1077.81,643.54 1077.93,643.72 1078.05,644.05 1078.18,644.51 1078.30,645.09 1078.43,645.79 1078.55,646.59 1078.67,647.48 1078.80,648.45 1078.92,649.48 1079.04,650.55 1079.17,651.64 1079.29,652.74 1079.42,653.82 1079.54,654.87 1079.66,655.87 1079.79,656.81 1079.91,657.66 1080.04,658.41 1080.16,659.05 1080.28,659.57 1080.41,659.96 1080.53,660.21 1080.65,660.32 1080.78,660.29 1080.90,660.11 1081.03,659.79 1081.15,659.34 1081.27,658.76 1081.40,658.06 1081.52,657.25 1081.64,656.35 1081.77,655.38 1081.89,654.34 1082.02,653.26 1082.14,652.15 1082.26,651.04 1082.39,649.94 1082.51,648.87 1082.63,647.85 1082.76,646.90 1082.88,646.03 1083.01,645.26 1083.13,644.60 1083.25,644.06 1083.38,643.66 1083.50,643.39 1083.63,643.27 1083.75,643.29 1083.87,643.46 1084.00,643.77 1084.12,644.22 1084.24,644.79 1084.37,645.49 1084.49,646.30 1084.62,647.21 1084.74,648.19 1084.86,649.24 1084.99,650.33 1085.11,651.45 1085.23,652.58 1085.36,653.69 1085.48,654.78 1085.61,655.82 1085.73,656.79 1085.85,657.68 1085.98,658.47 1086.10,659.15 1086.23,659.71 1086.35,660.13 1086.47,660.41 1086.60,660.55 1086.72,660.54 1086.84,660.38 1086.97,660.07 1087.09,659.63 1087.22,659.05 1087.34,658.35 1087.46,657.54 1087.59,656.63 1087.71,655.64 1087.83,654.58 1087.96,653.48 1088.08,652.35 1088.21,651.20 1088.33,650.07 1088.45,648.96 1088.58,647.91 1088.70,646.92 1088.83,646.01 1088.95,645.20 1089.07,644.50 1089.20,643.93 1089.32,643.49 1089.44,643.19 1089.57,643.04 1089.69,643.04 1089.82,643.19 1089.94,643.48 1090.06,643.92 1090.19,644.50 1090.31,645.20 1090.43,646.01 1090.56,646.93 1090.68,647.93 1090.81,648.99 1090.93,650.11 1091.05,651.26 1091.18,652.42 1091.30,653.57 1091.42,654.69 1091.55,655.77 1091.67,656.78 1091.80,657.71 1091.92,658.54 1092.04,659.25 1092.17,659.84 1092.29,660.30 1092.42,660.61 1092.54,660.78 1092.66,660.79 1092.79,660.65 1092.91,660.36 1093.03,659.93 1093.16,659.35 1093.28,658.65 1093.41,657.83 1093.53,656.91 1093.65,655.91 1093.78,654.83 1093.90,653.70 1094.02,652.54 1094.15,651.36 1094.27,650.19 1094.40,649.05 1094.52,647.96 1094.64,646.93 1094.77,645.98 1094.89,645.13 1095.02,644.40 1095.14,643.79 1095.26,643.31 1095.39,642.98 1095.51,642.81 1095.63,642.78 1095.76,642.91 1095.88,643.20 1096.01,643.63 1096.13,644.20 1096.25,644.90 1096.38,645.72 1096.50,646.64 1096.62,647.66 1096.75,648.75 1096.87,649.89 1097.00,651.07 1097.12,652.26 1097.24,653.44 1097.37,654.60 1097.49,655.72 1097.61,656.77 1097.74,657.74 1097.86,658.60 1097.99,659.36 1098.11,659.99 1098.23,660.47 1098.36,660.82 1098.48,661.01 1098.61,661.04 1098.73,660.92 1098.85,660.65 1098.98,660.22 1099.10,659.65 1099.22,658.95 1099.35,658.13 1099.47,657.20 1099.60,656.17 1099.72,655.07 1099.84,653.92 1099.97,652.73 1100.09,651.52 1100.21,650.32 1100.34,649.14 1100.46,648.01 1100.59,646.94 1100.71,645.95 1100.83,645.06 1100.96,644.29 1101.08,643.64 1101.21,643.14 1101.33,642.78 1101.45,642.57 1101.58,642.53 1101.70,642.64 1101.82,642.91 1101.95,643.33 1102.07,643.89 1102.20,644.60 1102.32,645.42 1102.44,646.36 1102.57,647.39 1102.69,648.50 1102.81,649.67 1102.94,650.88 1103.06,652.10 1103.19,653.32 1103.31,654.52 1103.43,655.67 1103.56,656.76 1103.68,657.77 1103.80,658.67 1103.93,659.47 1104.05,660.13 1104.18,660.65 1104.30,661.03 1104.42,661.25 1104.55,661.30 1104.67,661.20 1104.80,660.94 1104.92,660.52 1105.04,659.96 1105.17,659.25 1105.29,658.42 1105.41,657.48 1105.54,656.44 1105.66,655.32 1105.79,654.14 1105.91,652.92 1106.03,651.68 1106.16,650.44 1106.28,649.22 1106.40,648.05 1106.53,646.94 1106.65,645.91 1106.78,644.99 1106.90,644.18 1107.02,643.49 1107.15,642.95 1107.27,642.57 1107.39,642.33 1107.52,642.26 1107.64,642.36 1107.77,642.61 1107.89,643.03 1108.01,643.59 1108.14,644.29 1108.26,645.13 1108.39,646.08 1108.51,647.13 1108.63,648.26 1108.76,649.45 1108.88,650.69 1109.00,651.94 1109.13,653.20 1109.25,654.43 1109.38,655.63 1109.50,656.76 1109.62,657.80 1109.75,658.75 1109.87,659.58 1109.99,660.28 1110.12,660.84 1110.24,661.24 1110.37,661.49 1110.49,661.57 1110.61,661.48 1110.74,661.24 1110.86,660.83 1110.99,660.26 1111.11,659.56 1111.23,658.72 1111.36,657.76 1111.48,656.71 1111.60,655.56 1111.73,654.36 1111.85,653.11 1111.98,651.83 1112.10,650.56 1112.22,649.31 1112.35,648.09 1112.47,646.94 1112.59,645.88 1112.72,644.91 1112.84,644.06 1112.97,643.34 1113.09,642.77 1113.21,642.35 1113.34,642.09 1113.46,642.00 1113.59,642.07 1113.71,642.32 1113.83,642.72 1113.96,643.28 1114.08,643.99 1114.20,644.83 1114.33,645.79 1114.45,646.86 1114.58,648.01 1114.70,649.23 1114.82,650.50 1114.95,651.79 1115.07,653.08 1115.19,654.36 1115.32,655.59 1115.44,656.76 1115.57,657.85 1115.69,658.83 1115.81,659.70 1115.94,660.44 1116.06,661.03 1116.18,661.46 1116.31,661.73 1116.43,661.84 1116.56,661.77 1116.68,661.54 1116.80,661.13 1116.93,660.57 1117.05,659.87 1117.18,659.02 1117.30,658.05 1117.42,656.97 1117.55,655.81 1117.67,654.58 1117.79,653.29 1117.92,651.99 1118.04,650.68 1118.17,649.38 1118.29,648.13 1118.41,646.94 1118.54,645.83 1118.66,644.83 1118.78,643.94 1118.91,643.18 1119.03,642.58 1119.16,642.13 1119.28,641.84 1119.40,641.73 1119.53,641.78 1119.65,642.01 1119.78,642.41 1119.90,642.97 1120.02,643.68 1120.15,644.53 1120.27,645.51 1120.39,646.59 1120.52,647.77 1120.64,649.02 1120.77,650.31 1120.89,651.64 1121.01,652.97 1121.14,654.28 1121.26,655.55 1121.38,656.76 1121.51,657.89 1121.63,658.92 1121.76,659.83 1121.88,660.60 1122.00,661.22 1122.13,661.69 1122.25,661.99 1122.37,662.11 1122.50,662.06 1122.62,661.84 1122.75,661.45 1122.87,660.89 1122.99,660.17 1123.12,659.32 1123.24,658.34 1123.37,657.24 1123.49,656.05 1123.61,654.79 1123.74,653.48 1123.86,652.14 1123.98,650.79 1124.11,649.45 1124.23,648.16 1124.36,646.93 1124.48,645.78 1124.60,644.74 1124.73,643.81 1124.85,643.02 1124.97,642.38 1125.10,641.90 1125.22,641.59 1125.35,641.45 1125.47,641.49 1125.59,641.71 1125.72,642.10 1125.84,642.65 1125.97,643.37 1126.09,644.23 1126.21,645.22 1126.34,646.33 1126.46,647.53 1126.58,648.80 1126.71,650.13 1126.83,651.49 1126.96,652.86 1127.08,654.21 1127.20,655.52 1127.33,656.78 1127.45,657.95 1127.57,659.01 1127.70,659.96 1127.82,660.77 1127.95,661.43 1128.07,661.92 1128.19,662.24 1128.32,662.39 1128.44,662.36 1128.56,662.15 1128.69,661.76 1128.81,661.20 1128.94,660.49 1129.06,659.62 1129.18,658.62 1129.31,657.51 1129.43,656.29 1129.56,655.00 1129.68,653.66 1129.80,652.28 1129.93,650.89 1130.05,649.52 1130.17,648.19 1130.30,646.91 1130.42,645.72 1130.55,644.64 1130.67,643.67 1130.79,642.84 1130.92,642.17 1131.04,641.66 1131.16,641.32 1131.29,641.17 1131.41,641.19 1131.54,641.40 1131.66,641.78 1131.78,642.34 1131.91,643.06 1132.03,643.93 1132.16,644.93 1132.28,646.06 1132.40,647.29 1132.53,648.59 1132.65,649.95 1132.77,651.35 1132.90,652.75 1133.02,654.15 1133.15,655.50 1133.27,656.80 1133.39,658.01 1133.52,659.11 1133.64,660.10 1133.76,660.94 1133.89,661.64 1134.01,662.16 1134.14,662.51 1134.26,662.68 1134.38,662.66 1134.51,662.46 1134.63,662.08 1134.75,661.52 1134.88,660.80 1135.00,659.92 1135.13,658.91 1135.25,657.77 1135.37,656.53 1135.50,655.21 1135.62,653.84 1135.75,652.42 1135.87,651.00 1135.99,649.58 1136.12,648.21 1136.24,646.89 1136.36,645.66 1136.49,644.53 1136.61,643.53 1136.74,642.66 1136.86,641.96 1136.98,641.42 1137.11,641.05 1137.23,640.87 1137.35,640.88 1137.48,641.08 1137.60,641.46 1137.73,642.02 1137.85,642.74 1137.97,643.62 1138.10,644.65 1138.22,645.79 1138.35,647.05 1138.47,648.38 1138.59,649.78 1138.72,651.21 1138.84,652.66 1138.96,654.09 1139.09,655.49 1139.21,656.82 1139.34,658.08 1139.46,659.22 1139.58,660.25 1139.71,661.13 1139.83,661.85 1139.95,662.41 1140.08,662.78 1140.20,662.97 1140.33,662.97 1140.45,662.78 1140.57,662.40 1140.70,661.85 1140.82,661.12 1140.94,660.23 1141.07,659.20 1141.19,658.04 1141.32,656.77 1141.44,655.42 1141.56,654.01 1141.69,652.56 1141.81,651.09 1141.94,649.64 1142.06,648.22 1142.18,646.86 1142.31,645.59 1142.43,644.42 1142.55,643.37 1142.68,642.47 1142.80,641.73 1142.93,641.16 1143.05,640.78 1143.17,640.58 1143.30,640.57 1143.42,640.76 1143.54,641.13 1143.67,641.69 1143.79,642.42 1143.92,643.32 1144.04,644.36 1144.16,645.53 1144.29,646.81 1144.41,648.18 1144.54,649.61 1144.66,651.08 1144.78,652.56 1144.91,654.04 1145.03,655.48 1145.15,656.86 1145.28,658.15 1145.40,659.34 1145.53,660.41 1145.65,661.33 1145.77,662.08 1145.90,662.67 1146.02,663.07 1146.14,663.28 1146.27,663.29 1146.39,663.11 1146.52,662.73 1146.64,662.17 1146.76,661.44 1146.89,660.54 1147.01,659.49 1147.13,658.30 1147.26,657.01 1147.38,655.63 1147.51,654.18 1147.63,652.69 1147.75,651.18 1147.88,649.68 1148.00,648.22 1148.13,646.82 1148.25,645.50 1148.37,644.29 1148.50,643.21 1148.62,642.27 1148.74,641.50 1148.87,640.90 1148.99,640.49 1149.12,640.27 1149.24,640.25 1149.36,640.43 1149.49,640.80 1149.61,641.36 1149.73,642.10 1149.86,643.01 1149.98,644.07 1150.11,645.27 1150.23,646.57 1150.35,647.97 1150.48,649.44 1150.60,650.95 1150.73,652.48 1150.85,654.00 1150.97,655.48 1151.10,656.91 1151.22,658.24 1151.34,659.47 1151.47,660.58 1151.59,661.53 1151.72,662.32 1151.84,662.93 1151.96,663.36 1152.09,663.59 1152.21,663.61 1152.33,663.44 1152.46,663.07 1152.58,662.51 1152.71,661.76 1152.83,660.84 1152.95,659.77 1153.08,658.57 1153.20,657.24 1153.32,655.83 1153.45,654.34 1153.57,652.81 1153.70,651.26 1153.82,649.72 1153.94,648.21 1154.07,646.77 1154.19,645.41 1154.32,644.16 1154.44,643.03 1154.56,642.06 1154.69,641.26 1154.81,640.63 1154.93,640.19 1155.06,639.96 1155.18,639.92 1155.31,640.09 1155.43,640.46 1155.55,641.03 1155.68,641.78 1155.80,642.70 1155.92,643.78 1156.05,645.00 1156.17,646.34 1156.30,647.78 1156.42,649.28 1156.54,650.83 1156.67,652.40 1156.79,653.97 1156.92,655.49 1157.04,656.96 1157.16,658.34 1157.29,659.62 1157.41,660.76 1157.53,661.75 1157.66,662.57 1157.78,663.21 1157.91,663.66 1158.03,663.90 1158.15,663.94 1158.28,663.78 1158.40,663.41 1158.52,662.84 1158.65,662.08 1158.77,661.15 1158.90,660.06 1159.02,658.83 1159.14,657.47 1159.27,656.02 1159.39,654.49 1159.51,652.92 1159.64,651.33 1159.76,649.75 1159.89,648.20 1160.01,646.71 1160.13,645.30 1160.26,644.01 1160.38,642.85 1160.51,641.84 1160.63,641.00 1160.75,640.35 1160.88,639.89 1161.00,639.63 1161.12,639.59 1161.25,639.75 1161.37,640.12 1161.50,640.69 1161.62,641.45 1161.74,642.39 1161.87,643.50 1161.99,644.75 1162.11,646.12 1162.24,647.59 1162.36,649.13 1162.49,650.72 1162.61,652.34 1162.73,653.94 1162.86,655.52 1162.98,657.03 1163.11,658.46 1163.23,659.77 1163.35,660.95 1163.48,661.98 1163.60,662.83 1163.72,663.50 1163.85,663.97 1163.97,664.23 1164.10,664.29 1164.22,664.12 1164.34,663.75 1164.47,663.18 1164.59,662.41 1164.71,661.46 1164.84,660.34 1164.96,659.08 1165.09,657.70 1165.21,656.21 1165.33,654.64 1165.46,653.03 1165.58,651.39 1165.70,649.76 1165.83,648.17 1165.95,646.63 1166.08,645.18 1166.20,643.85 1166.32,642.65 1166.45,641.60 1166.57,640.73 1166.70,640.05 1166.82,639.57 1166.94,639.30 1167.07,639.24 1167.19,639.40 1167.31,639.77 1167.44,640.35 1167.56,641.13 1167.69,642.08 1167.81,643.21 1167.93,644.49 1168.06,645.89 1168.18,647.40 1168.30,648.99 1168.43,650.62 1168.55,652.28 1168.68,653.93 1168.80,655.55 1168.92,657.11 1169.05,658.58 1169.17,659.94 1169.30,661.16 1169.42,662.22 1169.54,663.11 1169.67,663.80 1169.79,664.29 1169.91,664.57 1170.04,664.63 1170.16,664.48 1170.29,664.11 1170.41,663.52 1170.53,662.74 1170.66,661.77 1170.78,660.63 1170.90,659.34 1171.03,657.92 1171.15,656.39 1171.28,654.78 1171.40,653.13 1171.52,651.44 1171.65,649.77 1171.77,648.12 1171.89,646.54 1172.02,645.05 1172.14,643.67 1172.27,642.43 1172.39,641.35 1172.51,640.45 1172.64,639.74 1172.76,639.24 1172.89,638.95 1173.01,638.89 1173.13,639.04 1173.26,639.42 1173.38,640.00 1173.50,640.79 1173.63,641.77 1173.75,642.93 1173.88,644.24 1174.00,645.68 1174.12,647.22 1174.25,648.85 1174.37,650.53 1174.49,652.24 1174.62,653.94 1174.74,655.60 1174.87,657.21 1174.99,658.72 1175.11,660.12 1175.24,661.38 1175.36,662.48 1175.49,663.40 1175.61,664.12 1175.73,664.63 1175.86,664.92 1175.98,664.99 1176.10,664.84 1176.23,664.46 1176.35,663.87 1176.48,663.07 1176.60,662.08 1176.72,660.91 1176.85,659.59 1176.97,658.13 1177.09,656.56 1177.22,654.91 1177.34,653.21 1177.47,651.48 1177.59,649.76 1177.71,648.07 1177.84,646.44 1177.96,644.90 1178.08,643.48 1178.21,642.20 1178.33,641.09 1178.46,640.16 1178.58,639.42 1178.70,638.90 1178.83,638.60 1178.95,638.52 1179.08,638.68 1179.20,639.06 1179.32,639.65 1179.45,640.46 1179.57,641.47 1179.69,642.65 1179.82,643.99 1179.94,645.46 1180.07,647.05 1180.19,648.72 1180.31,650.45 1180.44,652.20 1180.56,653.95 1180.68,655.67 1180.81,657.32 1180.93,658.88 1181.06,660.32 1181.18,661.62 1181.30,662.75 1181.43,663.70 1181.55,664.44 1181.68,664.98 1181.80,665.28 1181.92,665.36 1182.05,665.21 1182.17,664.83 1182.29,664.22 1182.42,663.41 1182.54,662.39 1182.67,661.19 1182.79,659.84 1182.91,658.34 1183.04,656.73 1183.16,655.04 1183.28,653.29 1183.41,651.51 1183.53,649.73 1183.66,648.00 1183.78,646.32 1183.90,644.74 1184.03,643.27 1184.15,641.96 1184.27,640.81 1184.40,639.84 1184.52,639.09 1184.65,638.55 1184.77,638.23 1184.89,638.15 1185.02,638.30 1185.14,638.69 1185.27,639.30 1185.39,640.13 1185.51,641.16 1185.64,642.37 1185.76,643.74 1185.88,645.26 1186.01,646.89 1186.13,648.61 1186.26,650.38 1186.38,652.18 1186.50,653.98 1186.63,655.75 1186.75,657.45 1186.87,659.05 1187.00,660.54 1187.12,661.87 1187.25,663.04 1187.37,664.02 1187.49,664.79 1187.62,665.34 1187.74,665.66 1187.87,665.74 1187.99,665.58 1188.11,665.20 1188.24,664.58 1188.36,663.74 1188.48,662.70 1188.61,661.47 1188.73,660.08 1188.86,658.54 1188.98,656.89 1189.10,655.15 1189.23,653.35 1189.35,651.52 1189.47,649.70 1189.60,647.91 1189.72,646.18 1189.85,644.56 1189.97,643.05 1190.09,641.69 1190.22,640.51 1190.34,639.52 1190.46,638.74 1190.59,638.18 1190.71,637.85 1190.84,637.77 1190.96,637.92 1191.08,638.32 1191.21,638.94 1191.33,639.79 1191.46,640.85 1191.58,642.09 1191.70,643.50 1191.83,645.06 1191.95,646.74 1192.07,648.50 1192.20,650.33 1192.32,652.18 1192.45,654.03 1192.57,655.84 1192.69,657.59 1192.82,659.24 1192.94,660.77 1193.06,662.14 1193.19,663.35 1193.31,664.35 1193.44,665.14 1193.56,665.71 1193.68,666.04 1193.81,666.13 1193.93,665.97 1194.06,665.57 1194.18,664.94 1194.30,664.08 1194.43,663.01 1194.55,661.75 1194.67,660.31 1194.80,658.73 1194.92,657.03 1195.05,655.24 1195.17,653.39 1195.29,651.52 1195.42,649.64 1195.54,647.80 1195.66,646.03 1195.79,644.36 1195.91,642.81 1196.04,641.41 1196.16,640.19 1196.28,639.17 1196.41,638.37 1196.53,637.80 1196.65,637.46 1196.78,637.37 1196.90,637.53 1197.03,637.94 1197.15,638.58 1197.27,639.45 1197.40,640.54 1197.52,641.82 1197.65,643.27 1197.77,644.87 1197.89,646.60 1198.02,648.41 1198.14,650.29 1198.26,652.19 1198.39,654.09 1198.51,655.96 1198.64,657.75 1198.76,659.45 1198.88,661.02 1199.01,662.44 1199.13,663.67 1199.25,664.70 1199.38,665.52 1199.50,666.10 1199.63,666.44 1199.75,666.53 1199.87,666.36 1200.00,665.95 1200.12,665.30 1200.25,664.42 1200.37,663.31 1200.49,662.02 1200.62,660.54 1200.74,658.92 1200.86,657.17 1200.99,655.33 1201.11,653.43 1201.24,651.50 1201.36,649.57 1201.48,647.68 1201.61,645.86 1201.73,644.14 1201.85,642.54 1201.98,641.11 1202.10,639.86 1202.23,638.81 1202.35,637.99 1202.47,637.40 1202.60,637.06 1202.72,636.97 1202.84,637.14 1202.97,637.55 1203.09,638.22 1203.22,639.12 1203.34,640.23 1203.46,641.55 1203.59,643.05 1203.71,644.69 1203.84,646.47 1203.96,648.33 1204.08,650.26 1204.21,652.22 1204.33,654.18 1204.45,656.09 1204.58,657.94 1204.70,659.68 1204.83,661.30 1204.95,662.75 1205.07,664.01 1205.20,665.07 1205.32,665.91 1205.44,666.50 1205.57,666.85 1205.69,666.94 1205.82,666.77 1205.94,666.34 1206.06,665.67 1206.19,664.75 1206.31,663.62 1206.43,662.28 1206.56,660.76 1206.68,659.09 1206.81,657.29 1206.93,655.40 1207.05,653.44 1207.18,651.46 1207.30,649.48 1207.43,647.53 1207.55,645.66 1207.67,643.89 1207.80,642.26 1207.92,640.79 1208.04,639.51 1208.17,638.43 1208.29,637.59 1208.42,636.99 1208.54,636.64 1208.66,636.55 1208.79,636.73 1208.91,637.16 1209.03,637.85 1209.16,638.78 1209.28,639.93 1209.41,641.29 1209.53,642.83 1209.65,644.53 1209.78,646.35 1209.90,648.27 1210.03,650.26 1210.15,652.27 1210.27,654.28 1210.40,656.25 1210.52,658.15 1210.64,659.94 1210.77,661.59 1210.89,663.08 1211.02,664.38 1211.14,665.46 1211.26,666.32 1211.39,666.93 1211.51,667.27 1211.63,667.36 1211.76,667.18 1211.88,666.73 1212.01,666.04 1212.13,665.09 1212.25,663.92 1212.38,662.54 1212.50,660.98 1212.62,659.25 1212.75,657.40 1212.87,655.45 1213.00,653.44 1213.12,651.40 1213.24,649.36 1213.37,647.37 1213.49,645.44 1213.62,643.63 1213.74,641.95 1213.86,640.44 1213.99,639.13 1214.11,638.03 1214.23,637.17 1214.36,636.56 1214.48,636.21 1214.61,636.13 1214.73,636.31 1214.85,636.77 1214.98,637.48 1215.10,638.44 1215.22,639.63 1215.35,641.03 1215.47,642.62 1215.60,644.37 1215.72,646.25 1215.84,648.22 1215.97,650.27 1216.09,652.34 1216.22,654.40 1216.34,656.43 1216.46,658.37 1216.59,660.21 1216.71,661.91 1216.83,663.44 1216.96,664.77 1217.08,665.88 1217.21,666.75 1217.33,667.36 1217.45,667.71 1217.58,667.79 1217.70,667.60 1217.82,667.13 1217.95,666.41 1218.07,665.43 1218.20,664.22 1218.32,662.79 1218.44,661.18 1218.57,659.40 1218.69,657.50 1218.82,655.49 1218.94,653.42 1219.06,651.32 1219.19,649.23 1219.31,647.17 1219.43,645.20 1219.56,643.34 1219.68,641.62 1219.81,640.08 1219.93,638.73 1220.05,637.61 1220.18,636.73 1220.30,636.11 1220.42,635.76 1220.55,635.69 1220.67,635.89 1220.80,636.36 1220.92,637.11 1221.04,638.10 1221.17,639.33 1221.29,640.78 1221.41,642.42 1221.54,644.23 1221.66,646.16 1221.79,648.20 1221.91,650.30 1222.03,652.43 1222.16,654.55 1222.28,656.63 1222.41,658.63 1222.53,660.51 1222.65,662.25 1222.78,663.82 1222.90,665.17 1223.02,666.31 1223.15,667.19 1223.27,667.82 1223.40,668.17 1223.52,668.24 1223.64,668.03 1223.77,667.54 1223.89,666.78 1224.01,665.77 1224.14,664.51 1224.26,663.04 1224.39,661.37 1224.51,659.54 1224.63,657.58 1224.76,655.51 1224.88,653.38 1225.01,651.22 1225.13,649.07 1225.25,646.96 1225.38,644.93 1225.50,643.02 1225.62,641.27 1225.75,639.69 1225.87,638.31 1226.00,637.17 1226.12,636.28 1226.24,635.65 1226.37,635.30 1226.49,635.24 1226.61,635.46 1226.74,635.96 1226.86,636.73 1226.99,637.77 1227.11,639.04 1227.23,640.54 1227.36,642.24 1227.48,644.10 1227.60,646.09 1227.73,648.19 1227.85,650.35 1227.98,652.54 1228.10,654.72 1228.22,656.86 1228.35,658.91 1228.47,660.84 1228.60,662.62 1228.72,664.22 1228.84,665.61 1228.97,666.76 1229.09,667.66 1229.21,668.29 1229.34,668.63 1229.46,668.69 1229.59,668.46 1229.71,667.95 1229.83,667.16 1229.96,666.10 1230.08,664.80 1230.20,663.28 1230.33,661.55 1230.45,659.66 1230.58,657.63 1230.70,655.51 1230.82,653.31 1230.95,651.09 1231.07,648.88 1231.20,646.72 1231.32,644.64 1231.44,642.68 1231.57,640.88 1231.69,639.27 1231.81,637.87 1231.94,636.70 1232.06,635.80 1232.19,635.17 1232.31,634.83 1232.43,634.77 1232.56,635.02 1232.68,635.55 1232.80,636.36 1232.93,637.43 1233.05,638.76 1233.18,640.31 1233.30,642.06 1233.42,643.98 1233.55,646.04 1233.67,648.20 1233.79,650.43 1233.92,652.68 1234.04,654.92 1234.17,657.12 1234.29,659.22 1234.41,661.20 1234.54,663.02 1234.66,664.65 1234.79,666.07 1234.91,667.24 1235.03,668.15 1235.16,668.78 1235.28,669.12 1235.40,669.16 1235.53,668.91 1235.65,668.36 1235.78,667.53 1235.90,666.43 1236.02,665.08 1236.15,663.50 1236.27,661.72 1236.39,659.77 1236.52,657.67 1236.64,655.48 1236.77,653.22 1236.89,650.94 1237.01,648.66 1237.14,646.44 1237.26,644.32 1237.39,642.31 1237.51,640.47 1237.63,638.82 1237.76,637.40 1237.88,636.22 1238.00,635.30 1238.13,634.67 1238.25,634.34 1238.38,634.30 1238.50,634.57 1238.62,635.13 1238.75,635.98 1238.87,637.10 1238.99,638.48 1239.12,640.09 1239.24,641.90 1239.37,643.89 1239.49,646.01 1239.61,648.24 1239.74,650.53 1239.86,652.85 1239.98,655.15 1240.11,657.40 1240.23,659.56 1240.36,661.58 1240.48,663.45 1240.60,665.11 1240.73,666.55 1240.85,667.74 1240.98,668.65 1241.10,669.28 1241.22,669.61 1241.35,669.64 1241.47,669.36 1241.59,668.78 1241.72,667.91 1241.84,666.76 1241.97,665.35 1242.09,663.71 1242.21,661.87 1242.34,659.85 1242.46,657.69 1242.58,655.43 1242.71,653.10 1242.83,650.75 1242.96,648.42 1243.08,646.14 1243.20,643.96 1243.33,641.91 1243.45,640.03 1243.58,638.35 1243.70,636.90 1243.82,635.70 1243.95,634.78 1244.07,634.16 1244.19,633.83 1244.32,633.82 1244.44,634.11 1244.57,634.71 1244.69,635.61 1244.81,636.78 1244.94,638.21 1245.06,639.88 1245.18,641.76 1245.31,643.81 1245.43,646.01 1245.56,648.30 1245.68,650.66 1245.80,653.05 1245.93,655.41 1246.05,657.72 1246.17,659.93 1246.30,662.00 1246.42,663.90 1246.55,665.60 1246.67,667.06 1246.79,668.26 1246.92,669.18 1247.04,669.81 1247.17,670.12 1247.29,670.13 1247.41,669.82 1247.54,669.20 1247.66,668.28 1247.78,667.08 1247.91,665.62 1248.03,663.91 1248.16,662.00 1248.28,659.91 1248.40,657.69 1248.53,655.35 1248.65,652.96 1248.77,650.54 1248.90,648.15 1249.02,645.81 1249.15,643.57 1249.27,641.48 1249.39,639.56 1249.52,637.85 1249.64,636.38 1249.77,635.17 1249.89,634.24 1250.01,633.62 1250.14,633.31 1250.26,633.32 1250.38,633.65 1250.51,634.29 1250.63,635.23 1250.76,636.46 1250.88,637.96 1251.00,639.69 1251.13,641.64 1251.25,643.76 1251.37,646.03 1251.50,648.40 1251.62,650.83 1251.75,653.28 1251.87,655.70 1251.99,658.07 1252.12,660.33 1252.24,662.45 1252.36,664.39 1252.49,666.11 1252.61,667.60 1252.74,668.81 1252.86,669.73 1252.98,670.35 1253.11,670.65 1253.23,670.63 1253.36,670.28 1253.48,669.62 1253.60,668.65 1253.73,667.39 1253.85,665.87 1253.97,664.10 1254.10,662.12 1254.22,659.96 1254.35,657.65 1254.47,655.25 1254.59,652.78 1254.72,650.30 1254.84,647.84 1254.96,645.44 1255.09,643.15 1255.21,641.01 1255.34,639.06 1255.46,637.32 1255.58,635.82 1255.71,634.61 1255.83,633.68 1255.96,633.07 1256.08,632.78 1256.20,632.82 1256.33,633.18 1256.45,633.87 1256.57,634.86 1256.70,636.15 1256.82,637.71 1256.95,639.52 1257.07,641.53 1257.19,643.73 1257.32,646.07 1257.44,648.52 1257.56,651.02 1257.69,653.54 1257.81,656.03 1257.94,658.46 1258.06,660.77 1258.18,662.93 1258.31,664.91 1258.43,666.66 1258.55,668.16 1258.68,669.38 1258.80,670.31 1258.93,670.91 1259.05,671.19 1259.17,671.14 1259.30,670.75 1259.42,670.04 1259.55,669.02 1259.67,667.70 1259.79,666.11 1259.92,664.27 1260.04,662.21 1260.16,659.97 1260.29,657.59 1260.41,655.11 1260.54,652.57 1260.66,650.02 1260.78,647.49 1260.91,645.04 1261.03,642.70 1261.15,640.51 1261.28,638.52 1261.40,636.75 1261.53,635.24 1261.65,634.02 1261.77,633.10 1261.90,632.50 1262.02,632.23 1262.14,632.30 1262.27,632.71 1262.39,633.45 1262.52,634.50 1262.64,635.85 1262.76,637.48 1262.89,639.36 1263.01,641.45 1263.14,643.73 1263.26,646.15 1263.38,648.67 1263.51,651.25 1263.63,653.84 1263.75,656.39 1263.88,658.88 1264.00,661.25 1264.13,663.45 1264.25,665.46 1264.37,667.24 1264.50,668.76 1264.62,669.99 1264.74,670.90 1264.87,671.49 1264.99,671.75 1265.12,671.66 1265.24,671.23 1265.36,670.47 1265.49,669.38 1265.61,667.99 1265.74,666.33 1265.86,664.41 1265.98,662.28 1266.11,659.96 1266.23,657.50 1266.35,654.94 1266.48,652.33 1266.60,649.70 1266.73,647.11 1266.85,644.59 1266.97,642.20 1267.10,639.97 1267.22,637.95 1267.34,636.16 1267.47,634.63 1267.59,633.40 1267.72,632.49 1267.84,631.91 1267.96,631.67 1268.09,631.78 1268.21,632.23 1268.34,633.02 1268.46,634.14 1268.58,635.56 1268.71,637.27 1268.83,639.22 1268.95,641.40 1269.08,643.76 1269.20,646.26 1269.33,648.86 1269.45,651.51 1269.57,654.17 1269.70,656.80 1269.82,659.34 1269.94,661.76 1270.07,664.01 1270.19,666.05 1270.32,667.85 1270.44,669.38 1270.56,670.61 1270.69,671.52 1270.81,672.09 1270.93,672.31 1271.06,672.18 1271.18,671.71 1271.31,670.88 1271.43,669.74 1271.55,668.28 1271.68,666.53 1271.80,664.54 1271.93,662.32 1272.05,659.92 1272.17,657.38 1272.30,654.74 1272.42,652.04 1272.54,649.35 1272.67,646.69 1272.79,644.11 1272.92,641.67 1273.04,639.40 1273.16,637.34 1273.29,635.53 1273.41,633.99 1273.53,632.76 1273.66,631.86 1273.78,631.30 1273.91,631.10 1274.03,631.25 1274.15,631.75 1274.28,632.61 1274.40,633.79 1274.53,635.29 1274.65,637.07 1274.77,639.11 1274.90,641.37 1275.02,643.81 1275.14,646.40 1275.27,649.08 1275.39,651.81 1275.52,654.55 1275.64,657.24 1275.76,659.84 1275.89,662.31 1276.01,664.60 1276.13,666.68 1276.26,668.50 1276.38,670.04 1276.51,671.27 1276.63,672.16 1276.75,672.71 1276.88,672.89 1277.00,672.72 1277.12,672.18 1277.25,671.30 1277.37,670.08 1277.50,668.55 1277.62,666.72 1277.74,664.64 1277.87,662.33 1277.99,659.85 1278.12,657.22 1278.24,654.49 1278.36,651.72 1278.49,648.95 1278.61,646.22 1278.73,643.59 1278.86,641.09 1278.98,638.78 1279.11,636.69 1279.23,634.86 1279.35,633.32 1279.48,632.10 1279.60,631.21 1279.72,630.68 1279.85,630.51 1279.97,630.71 1280.10,631.28 1280.22,632.19 1280.34,633.45 1280.47,635.03 1280.59,636.89 1280.72,639.02 1280.84,641.37 1280.96,643.90 1281.09,646.58 1281.21,649.34 1281.33,652.16 1281.46,654.97 1281.58,657.73 1281.71,660.39 1281.83,662.91 1281.95,665.24 1282.08,667.34 1282.20,669.18 1282.32,670.73 1282.45,671.95 1282.57,672.82 1282.70,673.34 1282.82,673.48 1282.94,673.26 1283.07,672.66 1283.19,671.71 1283.31,670.41 1283.44,668.80 1283.56,666.88 1283.69,664.71 1283.81,662.32 1283.93,659.74 1284.06,657.02 1284.18,654.21 1284.31,651.35 1284.43,648.51 1284.55,645.71 1284.68,643.02 1284.80,640.48 1284.92,638.13 1285.05,636.01 1285.17,634.16 1285.30,632.62 1285.42,631.40 1285.54,630.54 1285.67,630.04 1285.79,629.92 1285.91,630.17 1286.04,630.80 1286.16,631.79 1286.29,633.13 1286.41,634.79 1286.53,636.74 1286.66,638.96 1286.78,641.41 1286.91,644.03 1287.03,646.80 1287.15,649.65 1287.28,652.55 1287.40,655.43 1287.52,658.26 1287.65,660.98 1287.77,663.55 1287.90,665.92 1288.02,668.05 1288.14,669.90 1288.27,671.45 1288.39,672.65 1288.51,673.51 1288.64,673.99 1288.76,674.09 1288.89,673.80 1289.01,673.14 1289.13,672.11 1289.26,670.73 1289.38,669.03 1289.50,667.02 1289.63,664.76 1289.75,662.26 1289.88,659.59 1290.00,656.78 1290.12,653.88 1290.25,650.94 1290.37,648.02 1290.50,645.15 1290.62,642.40 1290.74,639.81 1290.87,637.43 1290.99,635.28 1291.11,633.43 1291.24,631.88 1291.36,630.68 1291.49,629.84 1291.61,629.38 1291.73,629.31 1291.86,629.62 1291.98,630.32 1292.10,631.39 1292.23,632.81 1292.35,634.57 1292.48,636.62 1292.60,638.94 1292.72,641.48 1292.85,644.20 1292.97,647.06 1293.10,650.00 1293.22,652.98 1293.34,655.95 1293.47,658.84 1293.59,661.62 1293.71,664.24 1293.84,666.64 1293.96,668.79 1294.09,670.66 1294.21,672.20 1294.33,673.39 1294.46,674.21 1294.58,674.65 1294.70,674.70 1294.83,674.35 1294.95,673.61 1295.08,672.50 1295.20,671.03 1295.32,669.23 1295.45,667.13 1295.57,664.77 1295.69,662.17 1295.82,659.40 1295.94,656.49 1296.07,653.50 1296.19,650.48 1296.31,647.48 1296.44,644.55 1296.56,641.74 1296.69,639.10 1296.81,636.68 1296.93,634.52 1297.06,632.65 1297.18,631.12 1297.30,629.93 1297.43,629.13 1297.55,628.71 1297.68,628.70 1297.80,629.08 1297.92,629.85 1298.05,631.01 1298.17,632.52 1298.29,634.37 1298.42,636.52 1298.54,638.94 1298.67,641.59 1298.79,644.41 1298.91,647.37 1299.04,650.40 1299.16,653.47 1299.29,656.51 1299.41,659.47 1299.53,662.31 1299.66,664.97 1299.78,667.41 1299.90,669.58 1300.03,671.45 1300.15,672.98 1300.28,674.15 1300.40,674.94 1300.52,675.33 1300.65,675.31 1300.77,674.90 1300.89,674.08 1301.02,672.88 1301.14,671.32 1301.27,669.42 1301.39,667.21 1301.51,664.74 1301.64,662.04 1301.76,659.16 1301.88,656.16 1302.01,653.08 1302.13,649.97 1302.26,646.89 1302.38,643.89 1302.50,641.03 1302.63,638.34 1302.75,635.89 1302.88,633.71 1303.00,631.85 1303.12,630.32 1303.25,629.16 1303.37,628.39 1303.49,628.03 1303.62,628.08 1303.74,628.53 1303.87,629.39 1303.99,630.64 1304.11,632.25 1304.24,634.20 1304.36,636.46 1304.48,638.99 1304.61,641.74 1304.73,644.67 1304.86,647.73 1304.98,650.86 1305.10,654.01 1305.23,657.13 1305.35,660.16 1305.48,663.05 1305.60,665.75 1305.72,668.22 1305.85,670.40 1305.97,672.27 1306.09,673.79 1306.22,674.93 1306.34,675.68 1306.47,676.02 1306.59,675.94 1306.71,675.44 1306.84,674.54 1306.96,673.24 1307.08,671.58 1307.21,669.57 1307.33,667.26 1307.46,664.67 1307.58,661.86 1307.70,658.88 1307.83,655.77 1307.95,652.59 1308.07,649.40 1308.20,646.24 1308.32,643.18 1308.45,640.26 1308.57,637.54 1308.69,635.06 1308.82,632.87 1308.94,631.00 1309.07,629.49 1309.19,628.36 1309.31,627.64 1309.44,627.34 1309.56,627.45 1309.68,627.99 1309.81,628.94 1309.93,630.28 1310.06,632.00 1310.18,634.07 1310.30,636.44 1310.43,639.08 1310.55,641.94 1310.67,644.98 1310.80,648.14 1310.92,651.37 1311.05,654.61 1311.17,657.80 1311.29,660.90 1311.42,663.85 1311.54,666.59 1311.66,669.08 1311.79,671.27 1311.91,673.14 1312.04,674.64 1312.16,675.74 1312.28,676.44 1312.41,676.72 1312.53,676.56 1312.66,675.98 1312.78,674.98 1312.90,673.58 1313.03,671.81 1313.15,669.69 1313.27,667.26 1313.40,664.56 1313.52,661.64 1313.65,658.55 1313.77,655.33 1313.89,652.06 1314.02,648.77 1314.14,645.54 1314.26,642.41 1314.39,639.44 1314.51,636.68 1314.64,634.18 1314.76,631.98 1314.88,630.12 1315.01,628.63 1315.13,627.54 1315.26,626.87 1315.38,626.63 1315.50,626.83 1315.63,627.45 1315.75,628.50 1315.87,629.95 1316.00,631.78 1316.12,633.96 1316.25,636.45 1316.37,639.21 1316.49,642.19 1316.62,645.34 1316.74,648.61 1316.86,651.94 1316.99,655.26 1317.11,658.54 1317.24,661.70 1317.36,664.69 1317.48,667.47 1317.61,669.98 1317.73,672.18 1317.86,674.04 1317.98,675.51 1318.10,676.58 1318.23,677.22 1318.35,677.42 1318.47,677.19 1318.60,676.51 1318.72,675.41 1318.85,673.90 1318.97,672.01 1319.09,669.77 1319.22,667.22 1319.34,664.40 1319.46,661.36 1319.59,658.15 1319.71,654.83 1319.84,651.46 1319.96,648.08 1320.08,644.77 1320.21,641.58 1320.33,638.56 1320.45,635.77 1320.58,633.25 1320.70,631.04 1320.83,629.20 1320.95,627.74 1321.07,626.70 1321.20,626.09 1321.32,625.92 1321.45,626.20 1321.57,626.93 1321.69,628.08 1321.82,629.65 1321.94,631.60 1322.06,633.90 1322.19,636.52 1322.31,639.40 1322.44,642.50 1322.56,645.77 1322.68,649.14 1322.81,652.57 1322.93,655.98 1323.05,659.33 1323.18,662.56 1323.30,665.60 1323.43,668.41 1323.55,670.94 1323.67,673.14 1323.80,674.98 1323.92,676.41 1324.05,677.43 1324.17,678.01 1324.29,678.14 1324.42,677.81 1324.54,677.03 1324.66,675.82 1324.79,674.20 1324.91,672.18 1325.04,669.81 1325.16,667.13 1325.28,664.19 1325.41,661.03 1325.53,657.70 1325.65,654.27 1325.78,650.79 1325.90,647.33 1326.03,643.95 1326.15,640.69 1326.27,637.62 1326.40,634.80 1326.52,632.27 1326.64,630.07 1326.77,628.24 1326.89,626.82 1327.02,625.83 1327.14,625.29 1327.26,625.21 1327.39,625.58 1327.51,626.41 1327.64,627.68 1327.76,629.37 1327.88,631.45 1328.01,633.88 1328.13,636.63 1328.25,639.64 1328.38,642.87 1328.50,646.25 1328.63,649.74 1328.75,653.26 1328.87,656.77 1329.00,660.19 1329.12,663.48 1329.24,666.57 1329.37,669.40 1329.49,671.94 1329.62,674.14 1329.74,675.95 1329.86,677.35 1329.99,678.31 1330.11,678.81 1330.24,678.85 1330.36,678.42 1330.48,677.54 1330.61,676.21 1330.73,674.46 1330.85,672.31 1330.98,669.81 1331.10,667.00 1331.23,663.92 1331.35,660.63 1331.47,657.18 1331.60,653.64 1331.72,650.06 1331.84,646.51 1331.97,643.05 1332.09,639.74 1332.22,636.63 1332.34,633.78 1332.46,631.24 1332.59,629.05 1332.71,627.25 1332.83,625.88 1332.96,624.95 1333.08,624.48 1333.21,624.49 1333.33,624.97 1333.45,625.92 1333.58,627.31 1333.70,629.13 1333.83,631.34 1333.95,633.91 1334.07,636.79 1334.20,639.94 1334.32,643.29 1334.44,646.80 1334.57,650.40 1334.69,654.03 1334.82,657.62 1334.94,661.12 1335.06,664.46 1335.19,667.59 1335.31,670.45 1335.43,673.00 1335.56,675.18 1335.68,676.96 1335.81,678.31 1335.93,679.20 1336.05,679.62 1336.18,679.57 1336.30,679.03 1336.43,678.02 1336.55,676.57 1336.67,674.68 1336.80,672.40 1336.92,669.76 1337.04,666.80 1337.17,663.59 1337.29,660.17 1337.42,656.60 1337.54,652.94 1337.66,649.26 1337.79,645.62 1337.91,642.09 1338.03,638.72 1338.16,635.57 1338.28,632.70 1338.41,630.16 1338.53,627.99 1338.65,626.23 1338.78,624.91 1338.90,624.05 1339.02,623.67 1339.15,623.78 1339.27,624.37 1339.40,625.44 1339.52,626.97 1339.64,628.92 1339.77,631.28 1339.89,633.99 1340.02,637.02 1340.14,640.30 1340.26,643.79 1340.39,647.42 1340.51,651.14 1340.63,654.87 1340.76,658.55 1340.88,662.12 1341.01,665.51 1341.13,668.68 1341.25,671.56 1341.38,674.10 1341.50,676.26 1341.62,678.00 1341.75,679.29 1341.87,680.11 1342.00,680.44 1342.12,680.28 1342.24,679.62 1342.37,678.49 1342.49,676.89 1342.62,674.86 1342.74,672.43 1342.86,669.64 1342.99,666.54 1343.11,663.19 1343.23,659.63 1343.36,655.94 1343.48,652.17 1343.61,648.39 1343.73,644.66 1343.85,641.06 1343.98,637.63 1344.10,634.45 1344.22,631.57 1344.35,629.03 1344.47,626.89 1344.60,625.17 1344.72,623.91 1344.84,623.13 1344.97,622.85 1345.09,623.07 1345.21,623.79 1345.34,624.99 1345.46,626.66 1345.59,628.76 1345.71,631.27 1345.83,634.13 1345.96,637.31 1346.08,640.74 1346.21,644.36 1346.33,648.12 1346.45,651.95 1346.58,655.78 1346.70,659.55 1346.82,663.19 1346.95,666.63 1347.07,669.83 1347.20,672.72 1347.32,675.25 1347.44,677.38 1347.57,679.07 1347.69,680.29 1347.81,681.03 1347.94,681.26 1348.06,680.98 1348.19,680.20 1348.31,678.92 1348.43,677.18 1348.56,675.00 1348.68,672.41 1348.81,669.47 1348.93,666.22 1349.05,662.72 1349.18,659.02 1349.30,655.20 1349.42,651.31 1349.55,647.43 1349.67,643.62 1349.80,639.95 1349.92,636.48 1350.04,633.27 1350.17,630.38 1350.29,627.86 1350.41,625.75 1350.54,624.08 1350.66,622.90 1350.79,622.21 1350.91,622.04 1351.03,622.38 1351.16,623.23 1351.28,624.57 1351.40,626.39 1351.53,628.65 1351.65,631.32 1351.78,634.34 1351.90,637.67 1352.02,641.25 1352.15,645.01 1352.27,648.90 1352.40,652.85 1352.52,656.78 1352.64,660.63 1352.77,664.33 1352.89,667.82 1353.01,671.04 1353.14,673.93 1353.26,676.45 1353.39,678.54 1353.51,680.17 1353.63,681.32 1353.76,681.95 1353.88,682.07 1354.00,681.67 1354.13,680.74 1354.25,679.32 1354.38,677.42 1354.50,675.08 1354.62,672.33 1354.75,669.23 1354.87,665.82 1355.00,662.17 1355.12,658.33 1355.24,654.38 1355.37,650.38 1355.49,646.39 1355.61,642.50 1355.74,638.77 1355.86,635.26 1355.99,632.03 1356.11,629.14 1356.23,626.63 1356.36,624.57 1356.48,622.97 1356.60,621.87 1356.73,621.28 1356.85,621.22 1356.98,621.70 1357.10,622.69 1357.22,624.19 1357.35,626.17 1357.47,628.60 1357.59,631.43 1357.72,634.62 1357.84,638.11 1357.97,641.84 1358.09,645.75 1358.21,649.77 1358.34,653.83 1358.46,657.86 1358.59,661.79 1358.71,665.55 1358.83,669.08 1358.96,672.32 1359.08,675.21 1359.20,677.69 1359.33,679.74 1359.45,681.30 1359.58,682.36 1359.70,682.89 1359.82,682.88 1359.95,682.34 1360.07,681.26 1360.19,679.68 1360.32,677.62 1360.44,675.11 1360.57,672.19 1360.69,668.92 1360.81,665.34 1360.94,661.53 1361.06,657.55 1361.18,653.47 1361.31,649.35 1361.43,645.27 1361.56,641.30 1361.68,637.51 1361.80,633.96 1361.93,630.72 1362.05,627.84 1362.18,625.37 1362.30,623.35 1362.42,621.83 1362.55,620.82 1362.67,620.35 1362.79,620.42 1362.92,621.04 1363.04,622.19 1363.17,623.85 1363.29,626.01 1363.41,628.61 1363.54,631.61 1363.66,634.97 1363.78,638.63 1363.91,642.52 1364.03,646.57 1364.16,650.72 1364.28,654.90 1364.40,659.02 1364.53,663.03 1364.65,666.85 1364.78,670.41 1364.90,673.66 1365.02,676.54 1365.15,678.99 1365.27,680.97 1365.39,682.45 1365.52,683.41 1365.64,683.82 1365.77,683.67 1365.89,682.98 1366.01,681.75 1366.14,680.00 1366.26,677.76 1366.38,675.06 1366.51,671.97 1366.63,668.52 1366.76,664.78 1366.88,660.81 1367.00,656.68 1367.13,652.47 1367.25,648.24 1367.38,644.06 1367.50,640.02 1367.62,636.17 1367.75,632.59 1367.87,629.34 1367.99,626.48 1368.12,624.05 1368.24,622.10 1368.37,620.67 1368.49,619.77 1368.61,619.42 1368.74,619.64 1368.86,620.41 1368.98,621.73 1369.11,623.57 1369.23,625.90 1369.36,628.68 1369.48,631.87 1369.60,635.41 1369.73,639.24 1369.85,643.28 1369.97,647.49 1370.10,651.77 1370.22,656.06 1370.35,660.28 1370.47,664.36 1370.59,668.23 1370.72,671.82 1370.84,675.07 1370.97,677.92 1371.09,680.32 1371.21,682.23 1371.34,683.62 1371.46,684.46 1371.58,684.74 1371.71,684.45 1371.83,683.59 1371.96,682.19 1372.08,680.26 1372.20,677.83 1372.33,674.95 1372.45,671.67 1372.57,668.04 1372.70,664.13 1372.82,659.99 1372.95,655.72 1373.07,651.37 1373.19,647.02 1373.32,642.76 1373.44,638.64 1373.57,634.75 1373.69,631.15 1373.81,627.91 1373.94,625.07 1374.06,622.70 1374.18,620.82 1374.31,619.49 1374.43,618.71 1374.56,618.50 1374.68,618.87 1374.80,619.81 1374.93,621.31 1375.05,623.34 1375.17,625.86 1375.30,628.84 1375.42,632.21 1375.55,635.94 1375.67,639.94 1375.79,644.15 1375.92,648.50 1376.04,652.92 1376.16,657.32 1376.29,661.63 1376.41,665.78 1376.54,669.69 1376.66,673.29 1376.78,676.53 1376.91,679.35 1377.03,681.69 1377.16,683.52 1377.28,684.81 1377.40,685.52 1377.53,685.65 1377.65,685.20 1377.77,684.17 1377.90,682.58 1378.02,680.46 1378.15,677.83 1378.27,674.76 1378.39,671.28 1378.52,667.46 1378.64,663.37 1378.76,659.08 1378.89,654.65 1379.01,650.17 1379.14,645.72 1379.26,641.36 1379.38,637.18 1379.51,633.25 1379.63,629.64 1379.76,626.41 1379.88,623.61 1380.00,621.30 1380.13,619.52 1380.25,618.30 1380.37,617.65 1380.50,617.60 1380.62,618.13 1380.75,619.26 1380.87,620.95 1380.99,623.17 1381.12,625.90 1381.24,629.07 1381.36,632.65 1381.49,636.56 1381.61,640.74 1381.74,645.12 1381.86,649.62 1381.98,654.17 1382.11,658.68 1382.23,663.07 1382.35,667.28 1382.48,671.23 1382.60,674.84 1382.73,678.06 1382.85,680.83 1382.97,683.11 1383.10,684.84 1383.22,686.00 1383.35,686.58 1383.47,686.55 1383.59,685.92 1383.72,684.70 1383.84,682.91 1383.96,680.58 1384.09,677.76 1384.21,674.47 1384.34,670.80 1384.46,666.79 1384.58,662.51 1384.71,658.05 1384.83,653.48 1384.95,648.87 1385.08,644.30 1385.20,639.87 1385.33,635.63 1385.45,631.67 1385.57,628.06 1385.70,624.85 1385.82,622.11 1385.95,619.88 1386.07,618.20 1386.19,617.10 1386.32,616.60 1386.44,616.71 1386.56,617.43 1386.69,618.75 1386.81,620.64 1386.94,623.08 1387.06,626.02 1387.18,629.40 1387.31,633.18 1387.43,637.29 1387.55,641.66 1387.68,646.20 1387.80,650.85 1387.93,655.53 1388.05,660.14 1388.17,664.62 1388.30,668.88 1388.42,672.85 1388.54,676.46 1388.67,679.65 1388.79,682.36 1388.92,684.55 1389.04,686.17 1389.16,687.20 1389.29,687.62 1389.41,687.42 1389.54,686.60 1389.66,685.18 1389.78,683.18 1389.91,680.64 1390.03,677.59 1390.15,674.09 1390.28,670.21 1390.40,666.00 1390.53,661.54 1390.65,656.91 1390.77,652.19 1390.90,647.45 1391.02,642.79 1391.14,638.27 1391.27,633.99 1391.39,630.01 1391.52,626.40 1391.64,623.23 1391.76,620.56 1391.89,618.42 1392.01,616.86 1392.14,615.90 1392.26,615.57 1392.38,615.86 1392.51,616.78 1392.63,618.30 1392.75,620.41 1392.88,623.07 1393.00,626.23 1393.13,629.83 1393.25,633.83 1393.37,638.13 1393.50,642.69 1393.62,647.40 1393.74,652.20 1393.87,657.00 1393.99,661.71 1394.12,666.26 1394.24,670.57 1394.36,674.55 1394.49,678.15 1394.61,681.30 1394.73,683.94 1394.86,686.02 1394.98,687.52 1395.11,688.40 1395.23,688.64 1395.35,688.25 1395.48,687.23 1395.60,685.60 1395.73,683.37 1395.85,680.60 1395.97,677.33 1396.10,673.61 1396.22,669.51 1396.34,665.10 1396.47,660.45 1396.59,655.65 1396.72,650.78 1396.84,645.92 1396.96,641.16 1397.09,636.58 1397.21,632.25 1397.33,628.26 1397.46,624.68 1397.58,621.56 1397.71,618.96 1397.83,616.93 1397.95,615.51 1398.08,614.71 1398.20,614.55 1398.33,615.04 1398.45,616.17 1398.57,617.92 1398.70,620.26 1398.82,623.15 1398.94,626.54 1399.07,630.37 1399.19,634.58 1399.32,639.10 1399.44,643.84 1399.56,648.72 1399.69,653.67 1399.81,658.59 1399.93,663.40 1400.06,668.01 1400.18,672.35 1400.31,676.34 1400.43,679.91 1400.55,682.99 1400.68,685.55 1400.80,687.51 1400.92,688.87 1401.05,689.58 1401.17,689.64 1401.30,689.05 1401.42,687.81 1401.54,685.94 1401.67,683.48 1401.79,680.47 1401.92,676.96 1402.04,673.01 1402.16,668.69 1402.29,664.07 1402.41,659.24 1402.53,654.27 1402.66,649.25 1402.78,644.27 1402.91,639.42 1403.03,634.78 1403.15,630.43 1403.28,626.44 1403.40,622.89 1403.52,619.84 1403.65,617.34 1403.77,615.43 1403.90,614.16 1404.02,613.53 1404.14,613.57 1404.27,614.28 1404.39,615.63 1404.52,617.62 1404.64,620.20 1404.76,623.33 1404.89,626.96 1405.01,631.03 1405.13,635.46 1405.26,640.19 1405.38,645.12 1405.51,650.17 1405.63,655.26 1405.75,660.29 1405.88,665.19 1406.00,669.86 1406.12,674.22 1406.25,678.20 1406.37,681.73 1406.50,684.74 1406.62,687.19 1406.74,689.02 1406.87,690.22 1406.99,690.75 1407.11,690.60 1407.24,689.79 1407.36,688.31 1407.49,686.20 1407.61,683.50 1407.73,680.24 1407.86,676.48 1407.98,672.29 1408.11,667.75 1408.23,662.92 1408.35,657.89 1408.48,652.75 1408.60,647.60 1408.72,642.51 1408.85,637.57 1408.97,632.88 1409.10,628.51 1409.22,624.54 1409.34,621.04 1409.47,618.07 1409.59,615.68 1409.71,613.92 1409.84,612.81 1409.96,612.38 1410.09,612.63 1410.21,613.56 1410.33,615.16 1410.46,617.40 1410.58,620.24 1410.71,623.63 1410.83,627.51 1410.95,631.82 1411.08,636.48 1411.20,641.41 1411.32,646.53 1411.45,651.75 1411.57,656.98 1411.70,662.12 1411.82,667.10 1411.94,671.81 1412.07,676.18 1412.19,680.14 1412.31,683.61 1412.44,686.53 1412.56,688.86 1412.69,690.54 1412.81,691.56 1412.93,691.89 1413.06,691.52 1413.18,690.47 1413.30,688.74 1413.43,686.37 1413.55,683.40 1413.68,679.88 1413.80,675.87 1413.92,671.44 1414.05,666.66 1414.17,661.62 1414.30,656.40 1414.42,651.10 1414.54,645.81 1414.67,640.61 1414.79,635.61 1414.91,630.88 1415.04,626.50 1415.16,622.56 1415.29,619.13 1415.41,616.26 1415.53,614.00 1415.66,612.40 1415.78,611.48 1415.90,611.26 1416.03,611.74 1416.15,612.92 1416.28,614.78 1416.40,617.28 1416.52,620.39 1416.65,624.04 1416.77,628.18 1416.89,632.74 1417.02,637.64 1417.14,642.78 1417.27,648.09 1417.39,653.47 1417.51,658.83 1417.64,664.08 1417.76,669.12 1417.89,673.86 1418.01,678.23 1418.13,682.15 1418.26,685.54 1418.38,688.36 1418.50,690.54 1418.63,692.06 1418.75,692.88 1418.88,692.99 1419.00,692.38 1419.12,691.07 1419.25,689.08 1419.37,686.44 1419.49,683.19 1419.62,679.40 1419.74,675.13 1419.87,670.44 1419.99,665.43 1420.11,660.18 1420.24,654.77 1420.36,649.31 1420.49,643.89 1420.61,638.60 1420.73,633.53 1420.86,628.77 1420.98,624.41 1421.10,620.52 1421.23,617.17 1421.35,614.42 1421.48,612.31 1421.60,610.89 1421.72,610.17 1421.85,610.18 1421.97,610.92 1422.09,612.36 1422.22,614.49 1422.34,617.27 1422.47,620.66 1422.59,624.59 1422.71,629.00 1422.84,633.81 1422.96,638.94 1423.09,644.30 1423.21,649.80 1423.33,655.34 1423.46,660.82 1423.58,666.16 1423.70,671.26 1423.83,676.02 1423.95,680.37 1424.08,684.23 1424.20,687.53 1424.32,690.22 1424.45,692.24 1424.57,693.56 1424.69,694.17 1424.82,694.03 1424.94,693.17 1425.07,691.59 1425.19,689.31 1425.31,686.38 1425.44,682.85 1425.56,678.78 1425.68,674.23 1425.81,669.29 1425.93,664.05 1426.06,658.58 1426.18,652.99 1426.30,647.37 1426.43,641.83 1426.55,636.45 1426.68,631.33 1426.80,626.57 1426.92,622.23 1427.05,618.41 1427.17,615.16 1427.29,612.55 1427.42,610.61 1427.54,609.39 1427.67,608.90 1427.79,609.16 1427.91,610.16 1428.04,611.89 1428.16,614.31 1428.28,617.39 1428.41,621.07 1428.53,625.29 1428.66,629.97 1428.78,635.04 1428.90,640.41 1429.03,645.98 1429.15,651.66 1429.28,657.35 1429.40,662.95 1429.52,668.37 1429.65,673.51 1429.77,678.27 1429.89,682.59 1430.02,686.37 1430.14,689.56 1430.27,692.10 1430.39,693.94 1430.51,695.05 1430.64,695.41 1430.76,695.02 1430.88,693.88 1431.01,692.01 1431.13,689.43 1431.26,686.20 1431.38,682.37 1431.50,678.01 1431.63,673.19 1431.75,667.98 1431.87,662.50 1432.00,656.82 1432.12,651.05 1432.25,645.28 1432.37,639.63 1432.49,634.18 1432.62,629.03 1432.74,624.26 1432.87,619.98 1432.99,616.24 1433.11,613.11 1433.24,610.66 1433.36,608.92 1433.48,607.92 1433.61,607.68 1433.73,608.21 1433.86,609.50 1433.98,611.53 1434.10,614.25 1434.23,617.64 1434.35,621.62 1434.47,626.14 1434.60,631.10 1434.72,636.43 1434.85,642.04 1434.97,647.82 1435.09,653.68 1435.22,659.52 1435.34,665.23 1435.47,670.71 1435.59,675.87 1435.71,680.62 1435.84,684.88 1435.96,688.57 1436.08,691.62 1436.21,693.99 1436.33,695.62 1436.46,696.50 1436.58,696.61 1436.70,695.93 1436.83,694.49 1436.95,692.31 1437.07,689.42 1437.20,685.88 1437.32,681.74 1437.45,677.08 1437.57,671.97 1437.69,666.50 1437.82,660.78 1437.94,654.89 1438.06,648.95 1438.19,643.04 1438.31,637.29 1438.44,631.77 1438.56,626.61 1438.68,621.87 1438.81,617.65 1438.93,614.02 1439.06,611.04 1439.18,608.77 1439.30,607.24 1439.43,606.49 1439.55,606.52 1439.67,607.34 1439.80,608.94 1439.92,611.28 1440.05,614.33 1440.17,618.04 1440.29,622.34 1440.42,627.16 1440.54,632.41 1440.66,638.00 1440.79,643.85 1440.91,649.84 1441.04,655.87 1441.16,661.84 1441.28,667.64 1441.41,673.17 1441.53,678.34 1441.66,683.06 1441.78,687.24 1441.90,690.81 1442.03,693.71 1442.15,695.88 1442.27,697.29 1442.40,697.91 1442.52,697.73 1442.65,696.76 1442.77,695.00 1442.89,692.49 1443.02,689.27 1443.14,685.40 1443.26,680.94 1443.39,675.97 1443.51,670.57 1443.64,664.84 1443.76,658.88 1443.88,652.79 1444.01,646.68 1444.13,640.64 1444.25,634.80 1444.38,629.25 1444.50,624.08 1444.63,619.39 1444.75,615.25 1444.87,611.75 1445.00,608.94 1445.12,606.88 1445.25,605.59 1445.37,605.11 1445.49,605.44 1445.62,606.57 1445.74,608.49 1445.86,611.17 1445.99,614.56 1446.11,618.60 1446.24,623.23 1446.36,628.36 1446.48,633.90 1446.61,639.76 1446.73,645.84 1446.85,652.03 1446.98,658.22 1447.10,664.31 1447.23,670.19 1447.35,675.76 1447.47,680.92 1447.60,685.58 1447.72,689.66 1447.85,693.09 1447.97,695.81 1448.09,697.76 1448.22,698.92 1448.34,699.26 1448.46,698.77 1448.59,697.47 1448.71,695.38 1448.84,692.53 1448.96,688.96 1449.08,684.75 1449.21,679.96 1449.33,674.67 1449.45,668.98 1449.58,662.99 1449.70,656.79 1449.83,650.51 1449.95,644.24 1450.07,638.09 1450.20,632.17 1450.32,626.60 1450.44,621.45 1450.57,616.82 1450.69,612.80 1450.82,609.46 1450.94,606.84 1451.06,605.01 1451.19,603.99 1451.31,603.80 1451.44,604.44 1451.56,605.91 1451.68,608.18 1451.81,611.22 1451.93,614.96 1452.05,619.35 1452.18,624.31 1452.30,629.75 1452.43,635.59 1452.55,641.71 1452.67,648.02 1452.80,654.40 1452.92,660.75 1453.04,666.95 1453.17,672.89 1453.29,678.48 1453.42,683.60 1453.54,688.19 1453.66,692.14 1453.79,695.40 1453.91,697.91 1454.04,699.61 1454.16,700.49 1454.28,700.53 1454.41,699.72 1454.53,698.07 1454.65,695.62 1454.78,692.40 1454.90,688.48 1455.03,683.91 1455.15,678.78 1455.27,673.17 1455.40,667.19 1455.52,660.94 1455.64,654.52 1455.77,648.04 1455.89,641.62 1456.02,635.38 1456.14,629.41 1456.26,623.82 1456.39,618.72 1456.51,614.19 1456.63,610.30 1456.76,607.14 1456.88,604.75 1457.01,603.17 1457.13,602.44 1457.25,602.57 1457.38,603.56 1457.50,605.38 1457.63,608.02 1457.75,611.43 1457.87,615.54 1458.00,620.28 1458.12,625.59 1458.24,631.35 1458.37,637.48 1458.49,643.87 1458.62,650.40 1458.74,656.97 1458.86,663.45 1458.99,669.74 1459.11,675.73 1459.23,681.31 1459.36,686.38 1459.48,690.86 1459.61,694.66 1459.73,697.72 1459.85,699.99 1459.98,701.43 1460.10,702.00 1460.23,701.71 1460.35,700.54 1460.47,698.53 1460.60,695.70 1460.72,692.10 1460.84,687.80 1460.97,682.87 1461.09,677.40 1461.22,671.47 1461.34,665.19 1461.46,658.68 1461.59,652.04 1461.71,645.38 1461.83,638.83 1461.96,632.50 1462.08,626.50 1462.21,620.94 1462.33,615.90 1462.45,611.49 1462.58,607.77 1462.70,604.81 1462.82,602.67 1462.95,601.38 1463.07,600.97 1463.20,601.45 1463.32,602.80 1463.44,605.00 1463.57,608.03 1463.69,611.82 1463.82,616.31 1463.94,621.43 1464.06,627.08 1464.19,633.17 1464.31,639.59 1464.43,646.23 1464.56,652.98 1464.68,659.72 1464.81,666.32 1464.93,672.69 1465.05,678.70 1465.18,684.25 1465.30,689.24 1465.42,693.58 1465.55,697.21 1465.67,700.05 1465.80,702.05 1465.92,703.19 1466.04,703.43 1466.17,702.77 1466.29,701.23 1466.41,698.82 1466.54,695.60 1466.66,691.61 1466.79,686.92 1466.91,681.62 1467.03,675.79 1467.16,669.54 1467.28,662.97 1467.41,656.20 1467.53,649.35 1467.65,642.53 1467.78,635.87 1467.90,629.48 1468.02,623.47 1468.15,617.94 1468.27,613.00 1468.40,608.73 1468.52,605.21 1468.64,602.49 1468.77,600.63 1468.89,599.66 1469.01,599.60 1469.14,600.44 1469.26,602.18 1469.39,604.79 1469.51,608.22 1469.63,612.42 1469.76,617.30 1469.88,622.80 1470.01,628.80 1470.13,635.21 1470.25,641.92 1470.38,648.82 1470.50,655.77 1470.62,662.66 1470.75,669.37 1470.87,675.79 1471.00,681.80 1471.12,687.29 1471.24,692.17 1471.37,696.36 1471.49,699.77 1471.61,702.36 1471.74,704.07 1471.86,704.87 1471.99,704.75 1472.11,703.71 1472.23,701.76 1472.36,698.94 1472.48,695.30 1472.61,690.90 1472.73,685.82 1472.85,680.13 1472.98,673.95 1473.10,667.37 1473.22,660.52 1473.35,653.51 1473.47,646.46 1473.60,639.49 1473.72,632.74 1473.84,626.30 1473.97,620.31 1474.09,614.85 1474.21,610.04 1474.34,605.94 1474.46,602.65 1474.59,600.20 1474.71,598.65 1474.83,598.03 1474.96,598.34 1475.08,599.58 1475.20,601.74 1475.33,604.77 1475.45,608.62 1475.58,613.23 1475.70,618.52 1475.82,624.40 1475.95,630.76 1476.07,637.50 1476.20,644.49 1476.32,651.63 1476.44,658.77 1476.57,665.80 1476.69,672.60 1476.81,679.04 1476.94,685.02 1477.06,690.43 1477.19,695.17 1477.31,699.16 1477.43,702.33 1477.56,704.63 1477.68,706.01 1477.80,706.45 1477.93,705.94 1478.05,704.49 1478.18,702.12 1478.30,698.87 1478.42,694.79 1478.55,689.97 1478.67,684.47 1478.80,678.40 1478.92,671.86 1479.04,664.96 1479.17,657.83 1479.29,650.59 1479.41,643.35 1479.54,636.26 1479.66,629.43 1479.79,622.98 1479.91,617.03 1480.03,611.68 1480.16,607.02 1480.28,603.13 1480.40,600.09 1480.53,597.95 1480.65,596.74 1480.78,596.50 1480.90,597.21 1481.02,598.88 1481.15,601.48 1481.27,604.95 1481.39,609.25 1481.52,614.29 1481.64,619.99 1481.77,626.26 1481.89,632.98 1482.01,640.04 1482.14,647.30 1482.26,654.66 1482.39,661.98 1482.51,669.13 1482.63,675.99 1482.76,682.43 1482.88,688.35 1483.00,693.64 1483.13,698.21 1483.25,701.98 1483.38,704.88 1483.50,706.85 1483.62,707.88 1483.75,707.92 1483.87,706.99 1483.99,705.10 1484.12,702.28 1484.24,698.57 1484.37,694.05 1484.49,688.79 1484.61,682.87 1484.74,676.41 1484.86,669.51 1484.99,662.30 1485.11,654.90 1485.23,647.43 1485.36,640.03 1485.48,632.83 1485.60,625.96 1485.73,619.52 1485.85,613.64 1485.98,608.42 1486.10,603.95 1486.22,600.31 1486.35,597.57 1486.47,595.76 1486.59,594.93 1486.72,595.10 1486.84,596.25 1486.97,598.37 1487.09,601.43 1487.21,605.37 1487.34,610.12 1487.46,615.61 1487.58,621.73 1487.71,628.39 1487.83,635.46 1487.96,642.83 1488.08,650.36 1488.20,657.93 1488.33,665.41 1488.45,672.65 1488.58,679.54 1488.70,685.96 1488.82,691.79 1488.95,696.93 1489.07,701.29 1489.19,704.79 1489.32,707.38 1489.44,709.00 1489.57,709.63 1489.69,709.25 1489.81,707.87 1489.94,705.51 1490.06,702.21 1490.18,698.04 1490.31,693.05 1490.43,687.33 1490.56,681.00 1490.68,674.14 1490.80,666.89 1490.93,659.37 1491.05,651.71 1491.18,644.04 1491.30,636.50 1491.42,629.22 1491.55,622.32 1491.67,615.93 1491.79,610.16 1491.92,605.11 1492.04,600.87 1492.17,597.51 1492.29,595.09 1492.41,593.66 1492.54,593.25 1492.66,593.85 1492.78,595.47 1492.91,598.07 1493.03,601.61 1493.16,606.03 1493.28,611.26 1493.40,617.20 1493.53,623.75 1493.65,630.80 1493.77,638.22 1493.90,645.89 1494.02,653.68 1494.15,661.44 1494.27,669.04 1494.39,676.35 1494.52,683.25 1494.64,689.60 1494.77,695.31 1494.89,700.26 1495.01,704.38 1495.14,707.58 1495.26,709.82 1495.38,711.05 1495.51,711.25 1495.63,710.41 1495.76,708.55 1495.88,705.70 1496.00,701.91 1496.13,697.24 1496.25,691.77 1496.37,685.60 1496.50,678.83 1496.62,671.59 1496.75,663.99 1496.87,656.17 1496.99,648.27 1497.12,640.42 1497.24,632.76 1497.37,625.43 1497.49,618.54 1497.61,612.23 1497.74,606.60 1497.86,601.76 1497.98,597.78 1498.11,594.74 1498.23,592.69 1498.36,591.67 1498.48,591.70 1498.60,592.78 1498.73,594.89 1498.85,598.00 1498.97,602.05 1499.10,606.97 1499.22,612.68 1499.35,619.08 1499.47,626.06 1499.59,633.50 1499.72,641.27 1499.84,649.23 1499.96,657.24 1500.09,665.18 1500.21,672.88 1500.34,680.24 1500.46,687.10 1500.58,693.36 1500.71,698.90 1500.83,703.63 1500.96,707.46 1501.08,710.32 1501.20,712.17 1501.33,712.97 1501.45,712.70 1501.57,711.38 1501.70,709.01 1501.82,705.64 1501.95,701.33 1502.07,696.15 1502.19,690.19 1502.32,683.56 1502.44,676.36 1502.56,668.73 1502.69,660.80 1502.81,652.70 1502.94,644.58 1503.06,636.57 1503.18,628.82 1503.31,621.46 1503.43,614.62 1503.56,608.43 1503.68,602.98 1503.80,598.38 1503.93,594.71 1504.05,592.03 1504.17,590.39 1504.30,589.82 1504.42,590.34 1504.55,591.92 1504.67,594.55 1504.79,598.19 1504.92,602.77 1505.04,608.21 1505.16,614.41 1505.29,621.28 1505.41,628.69 1505.54,636.51 1505.66,644.61 1505.78,652.84 1505.91,661.07 1506.03,669.15 1506.15,676.93 1506.28,684.29 1506.40,691.08 1506.53,697.21 1506.65,702.54 1506.77,707.00 1506.90,710.51 1507.02,712.99 1507.15,714.41 1507.27,714.74 1507.39,713.97 1507.52,712.12 1507.64,709.22 1507.76,705.31 1507.89,700.46 1508.01,694.76 1508.14,688.30 1508.26,681.20 1508.38,673.58 1508.51,665.57 1508.63,657.31 1508.75,648.94 1508.88,640.62 1509.00,632.48 1509.13,624.67 1509.25,617.33 1509.37,610.58 1509.50,604.54 1509.62,599.32 1509.75,595.01 1509.87,591.69 1509.99,589.41 1510.12,588.22 1510.24,588.14 1510.36,589.17 1510.49,591.30 1510.61,594.48 1510.74,598.67 1510.86,603.79 1510.98,609.76 1511.11,616.47 1511.23,623.81 1511.35,631.64 1511.48,639.84 1511.60,648.25 1511.73,656.74 1511.85,665.15 1511.97,673.34 1512.10,681.17 1512.22,688.49 1512.34,695.18 1512.47,701.13 1512.59,706.22 1512.72,710.37 1512.84,713.50 1512.96,715.56 1513.09,716.51 1513.21,716.33 1513.34,715.03 1513.46,712.62 1513.58,709.15 1513.71,704.67 1513.83,699.27 1513.95,693.03 1514.08,686.07 1514.20,678.50 1514.33,670.46 1514.45,662.08 1514.57,653.51 1514.70,644.91 1514.82,636.41 1514.94,628.18 1515.07,620.34 1515.19,613.05 1515.32,606.43 1515.44,600.59 1515.56,595.64 1515.69,591.67 1515.81,588.74 1515.94,586.91 1516.06,586.21 1516.18,586.65 1516.31,588.24 1516.43,590.94 1516.55,594.70 1516.68,599.47 1516.80,605.15 1516.93,611.66 1517.05,618.88 1517.17,626.68 1517.30,634.93 1517.42,643.49 1517.54,652.20 1517.67,660.92 1517.79,669.49 1517.92,677.76 1518.04,685.59 1518.16,692.84 1518.29,699.38 1518.41,705.10 1518.53,709.90 1518.66,713.69 1518.78,716.40 1518.91,717.99 1519.03,718.43 1519.15,717.70 1519.28,715.83 1519.40,712.83 1519.53,708.77 1519.65,703.71 1519.77,697.74 1519.90,690.95 1520.02,683.48 1520.14,675.45 1520.27,666.99 1520.39,658.26 1520.52,649.41 1520.64,640.59 1520.76,631.95 1520.89,623.66 1521.01,615.84 1521.13,608.64 1521.26,602.19 1521.38,596.60 1521.51,591.97 1521.63,588.38 1521.75,585.89 1521.88,584.55 1522.00,584.39 1522.12,585.40 1522.25,587.57 1522.37,590.87 1522.50,595.24 1522.62,600.60 1522.74,606.87 1522.87,613.92 1522.99,621.65 1523.12,629.92 1523.24,638.57 1523.36,647.47 1523.49,656.46 1523.61,665.38 1523.73,674.07 1523.86,682.38 1523.98,690.17 1524.11,697.30 1524.23,703.65 1524.35,709.10 1524.48,713.55 1524.60,716.93 1524.72,719.18 1524.85,720.26 1524.97,720.14 1525.10,718.83 1525.22,716.35 1525.34,712.74 1525.47,708.06 1525.59,702.39 1525.72,695.83 1525.84,688.50 1525.96,680.52 1526.09,672.03 1526.21,663.17 1526.33,654.11 1526.46,645.00 1526.58,635.99 1526.71,627.25 1526.83,618.93 1526.95,611.18 1527.08,604.13 1527.20,597.90 1527.32,592.60 1527.45,588.34 1527.57,585.18 1527.70,583.18 1527.82,582.38 1527.94,582.79 1528.07,584.41 1528.19,587.21 1528.32,591.14 1528.44,596.14 1528.56,602.11 1528.69,608.96 1528.81,616.57 1528.93,624.81 1529.06,633.52 1529.18,642.57 1529.31,651.79 1529.43,661.03 1529.55,670.11 1529.68,678.89 1529.80,687.20 1529.92,694.91 1530.05,701.87 1530.17,707.97 1530.30,713.09 1530.42,717.15 1530.54,720.07 1530.67,721.81 1530.79,722.33 1530.91,721.61 1531.04,719.67 1531.16,716.55 1531.29,712.29 1531.41,706.98 1531.53,700.69 1531.66,693.54 1531.78,685.65 1531.91,677.17 1532.03,668.23 1532.15,658.99 1532.28,649.62 1532.40,640.28 1532.52,631.12 1532.65,622.32 1532.77,614.03 1532.90,606.38 1533.02,599.52 1533.14,593.57 1533.27,588.62 1533.39,584.78 1533.51,582.11 1533.64,580.65 1533.76,580.43 1533.89,581.46 1534.01,583.72 1534.13,587.18 1534.26,591.77 1534.38,597.41 1534.51,604.02 1534.63,611.46 1534.75,619.63 1534.88,628.36 1535.00,637.52 1535.12,646.94 1535.25,656.45 1535.37,665.90 1535.50,675.11 1535.62,683.93 1535.74,692.19 1535.87,699.76 1535.99,706.51 1536.11,712.30 1536.24,717.05 1536.36,720.66 1536.49,723.07 1536.61,724.25 1536.73,724.15 1536.86,722.80 1536.98,720.20 1537.10,716.40 1537.23,711.47 1537.35,705.50 1537.48,698.58 1537.60,690.83 1537.72,682.39 1537.85,673.41 1537.97,664.04 1538.10,654.45 1538.22,644.79 1538.34,635.26 1538.47,626.00 1538.59,617.18 1538.71,608.95 1538.84,601.47 1538.96,594.86 1539.09,589.23 1539.21,584.70 1539.33,581.33 1539.46,579.19 1539.58,578.32 1539.70,578.73 1539.83,580.43 1539.95,583.37 1540.08,587.51 1540.20,592.79 1540.32,599.10 1540.45,606.34 1540.57,614.39 1540.70,623.10 1540.82,632.33 1540.94,641.90 1541.07,651.67 1541.19,661.44 1541.31,671.07 1541.44,680.36 1541.56,689.17 1541.69,697.34 1541.81,704.72 1541.93,711.19 1542.06,716.63 1542.18,720.94 1542.30,724.04 1542.43,725.89 1542.55,726.45 1542.68,725.70 1542.80,723.66 1542.92,720.37 1543.05,715.87 1543.17,710.24 1543.29,703.59 1543.42,696.03 1543.54,687.68 1543.67,678.70 1543.79,669.23 1543.91,659.45 1544.04,649.53 1544.16,639.64 1544.29,629.94 1544.41,620.62 1544.53,611.83 1544.66,603.74 1544.78,596.47 1544.90,590.16 1545.03,584.93 1545.15,580.86 1545.28,578.02 1545.40,576.48 1545.52,576.25 1545.65,577.34 1545.77,579.74 1545.89,583.40 1546.02,588.26 1546.14,594.24 1546.27,601.23 1546.39,609.12 1546.51,617.77 1546.64,627.02 1546.76,636.72 1546.89,646.69 1547.01,656.76 1547.13,666.77 1547.26,676.52 1547.38,685.85 1547.50,694.60 1547.63,702.62 1547.75,709.75 1547.88,715.88 1548.00,720.90 1548.12,724.71 1548.25,727.26 1548.37,728.49 1548.49,728.38 1548.62,726.93 1548.74,724.17 1548.87,720.14 1548.99,714.91 1549.11,708.57 1549.24,701.23 1549.36,693.01 1549.48,684.07 1549.61,674.56 1549.73,664.63 1549.86,654.47 1549.98,644.25 1550.10,634.15 1550.23,624.35 1550.35,615.02 1550.48,606.32 1550.60,598.41 1550.72,591.42 1550.85,585.48 1550.97,580.70 1551.09,577.15 1551.22,574.91 1551.34,574.01 1551.47,574.47 1551.59,576.29 1551.71,579.43 1551.84,583.84 1551.96,589.44 1552.08,596.15 1552.21,603.84 1552.33,612.37 1552.46,621.61 1552.58,631.39 1552.70,641.53 1552.83,651.87 1552.95,662.23 1553.08,672.41 1553.20,682.25 1553.32,691.56 1553.45,700.19 1553.57,707.99 1553.69,714.81 1553.82,720.54 1553.94,725.08 1554.07,728.34 1554.19,730.26 1554.31,730.82 1554.44,729.99 1554.56,727.80 1554.68,724.27 1554.81,719.47 1554.93,713.49 1555.06,706.41 1555.18,698.38 1555.30,689.52 1555.43,679.99 1555.55,669.96 1555.67,659.59 1555.80,649.08 1555.92,638.61 1556.05,628.35 1556.17,618.50 1556.29,609.21 1556.42,600.66 1556.54,593.00 1556.67,586.35 1556.79,580.85 1556.91,576.58 1557.04,573.62 1557.16,572.03 1557.28,571.83 1557.41,573.04 1557.53,575.62 1557.66,579.54 1557.78,584.74 1557.90,591.11 1558.03,598.55 1558.15,606.94 1558.27,616.12 1558.40,625.94 1558.52,636.22 1558.65,646.79 1558.77,657.46 1558.89,668.04 1559.02,678.36 1559.14,688.22 1559.27,697.46 1559.39,705.91 1559.51,713.43 1559.64,719.87 1559.76,725.14 1559.88,729.12 1560.01,731.76 1560.13,733.01 1560.26,732.83 1560.38,731.24 1560.50,728.25 1560.63,723.93 1560.75,718.33 1560.87,711.57 1561.00,703.75 1561.12,695.02 1561.25,685.52 1561.37,675.41 1561.49,664.89 1561.62,654.12 1561.74,643.30 1561.86,632.62 1561.99,622.26 1562.11,612.40 1562.24,603.23 1562.36,594.89 1562.48,587.54 1562.61,581.31 1562.73,576.31 1562.86,572.62 1562.98,570.32 1563.10,569.44 1563.23,570.00 1563.35,571.99 1563.47,575.39 1563.60,580.13 1563.72,586.13 1563.85,593.29 1563.97,601.48 1564.09,610.56 1564.22,620.38 1564.34,630.76 1564.46,641.52 1564.59,652.48 1564.71,663.44 1564.84,674.20 1564.96,684.60 1565.08,694.42 1565.21,703.52 1565.33,711.72 1565.45,718.89 1565.58,724.88 1565.70,729.61 1565.83,732.98 1565.95,734.94 1566.07,735.44 1566.20,734.48 1566.32,732.07 1566.45,728.25 1566.57,723.09 1566.69,716.68 1566.82,709.12 1566.94,700.55 1567.06,691.12 1567.19,680.99 1567.31,670.34 1567.44,659.35 1567.56,648.22 1567.68,637.13 1567.81,626.29 1567.93,615.89 1568.05,606.10 1568.18,597.10 1568.30,589.05 1568.43,582.09 1568.55,576.34 1568.67,571.91 1568.80,568.88 1568.92,567.29 1569.05,567.18 1569.17,568.55 1569.29,571.39 1569.42,575.64 1569.54,581.22 1569.66,588.06 1569.79,596.01 1569.91,604.96 1570.04,614.73 1570.16,625.17 1570.28,636.09 1570.41,647.30 1570.53,658.60 1570.65,669.79 1570.78,680.69 1570.90,691.09 1571.03,700.82 1571.15,709.70 1571.27,717.58 1571.40,724.32 1571.52,729.80 1571.64,733.92 1571.77,736.60 1571.89,737.81 1572.02,737.51 1572.14,735.70 1572.26,732.43 1572.39,727.74 1572.51,721.72 1572.64,714.47 1572.76,706.11 1572.88,696.79 1573.01,686.67 1573.13,675.93 1573.25,664.75 1573.38,653.34 1573.50,641.88 1573.63,630.59 1573.75,619.65 1573.87,609.27 1574.00,599.62 1574.12,590.87 1574.24,583.18 1574.37,576.68 1574.49,571.50 1574.62,567.71 1574.74,565.40 1574.86,564.59 1574.99,565.31 1575.11,567.56 1575.24,571.28 1575.36,576.41 1575.48,582.88 1575.61,590.56 1575.73,599.32 1575.85,609.02 1575.98,619.47 1576.10,630.51 1576.23,641.93 1576.35,653.54 1576.47,665.14 1576.60,676.52 1576.72,687.48 1576.84,697.82 1576.97,707.38 1577.09,715.97 1577.22,723.45 1577.34,729.69 1577.46,734.56 1577.59,738.00 1577.71,739.93 1577.84,740.31 1577.96,739.15 1578.08,736.46 1578.21,732.28 1578.33,726.69 1578.45,719.78 1578.58,711.67 1578.70,702.50 1578.83,692.43 1578.95,681.64 1579.07,670.32 1579.20,658.65 1579.32,646.86 1579.44,635.14 1579.57,623.69 1579.69,612.73 1579.82,602.44 1579.94,593.00 1580.06,584.58 1580.19,577.33 1580.31,571.38 1580.43,566.83 1580.56,563.76 1580.68,562.24 1580.81,562.28 1580.93,563.90 1581.05,567.06 1581.18,571.70 1581.30,577.76 1581.43,585.13 1581.55,593.67 1581.67,603.24 1581.80,613.67 1581.92,624.79 1582.04,636.40 1582.17,648.29 1582.29,660.25 1582.42,672.09 1582.54,683.58 1582.66,694.53 1582.79,704.75 1582.91,714.05 1583.03,722.27 1583.16,729.27 1583.28,734.92 1583.41,739.12 1583.53,741.79 1583.65,742.90 1583.78,742.40 1583.90,740.32 1584.03,736.69 1584.15,731.56 1584.27,725.03 1584.40,717.21 1584.52,708.24 1584.64,698.26 1584.77,687.46 1584.89,676.03 1585.02,664.15 1585.14,652.04 1585.26,639.92 1585.39,627.99 1585.51,616.47 1585.63,605.55 1585.76,595.43 1585.88,586.29 1586.01,578.28 1586.13,571.56 1586.25,566.23 1586.38,562.40 1586.50,560.13 1586.62,559.47 1586.75,560.43 1586.87,562.99 1587.00,567.11 1587.12,572.72 1587.24,579.73 1587.37,588.01 1587.49,597.42 1587.62,607.80 1587.74,618.96 1587.86,630.71 1587.99,642.84 1588.11,655.15 1588.23,667.41 1588.36,679.42 1588.48,690.96 1588.61,701.82 1588.73,711.83 1588.85,720.79 1588.98,728.55 1589.10,734.98 1589.22,739.96 1589.35,743.40 1589.47,745.24 1589.60,745.45 1589.72,744.01 1589.84,740.96 1589.97,736.33 1590.09,730.23 1590.22,722.74 1590.34,713.99 1590.46,704.15 1590.59,693.38 1590.71,681.87 1590.83,669.81 1590.96,657.43 1591.08,644.93 1591.21,632.54 1591.33,620.48 1591.45,608.95 1591.58,598.16 1591.70,588.29 1591.82,579.53 1591.95,572.03 1592.07,565.92 1592.20,561.31 1592.32,558.28 1592.44,556.88 1592.57,557.15 1592.69,559.09 1592.81,562.65 1592.94,567.78 1593.06,574.39 1593.19,582.37 1593.31,591.57 1593.43,601.85 1593.56,613.01 1593.68,624.87 1593.81,637.22 1593.93,649.84 1594.05,662.50 1594.18,675.00 1594.30,687.11 1594.42,698.61 1594.55,709.31 1594.67,719.01 1594.80,727.54 1594.92,734.76 1595.04,740.53 1595.17,744.75 1595.29,747.35 1595.41,748.28 1595.54,747.51 1595.66,745.07 1595.79,740.99 1595.91,735.34 1596.03,728.22 1596.16,719.75 1596.28,710.08 1596.41,699.37 1596.53,687.82 1596.65,675.63 1596.78,663.00 1596.90,650.16 1597.02,637.34 1597.15,624.75 1597.27,612.63 1597.40,601.17 1597.52,590.60 1597.64,581.08 1597.77,572.80 1597.89,565.89 1598.01,560.48 1598.14,556.67 1598.26,554.52 1598.39,554.08 1598.51,555.36 1598.63,558.32 1598.76,562.94 1598.88,569.11 1599.00,576.75 1599.13,585.71 1599.25,595.85 1599.38,606.98 1599.50,618.91 1599.62,631.43 1599.75,644.33 1599.87,657.37 1600.00,670.34 1600.12,682.99 1600.24,695.11 1600.37,706.49 1600.49,716.93 1600.61,726.23 1600.74,734.24 1600.86,740.82 1600.99,745.84 1601.11,749.21 1601.23,750.89 1601.36,750.83 1601.48,749.03 1601.60,745.52 1601.73,740.37 1601.85,733.65 1601.98,725.49 1602.10,716.03 1602.22,705.44 1602.35,693.89 1602.47,681.58 1602.60,668.74 1602.72,655.59 1602.84,642.36 1602.97,629.28 1603.09,616.57 1603.21,604.48 1603.34,593.19 1603.46,582.93 1603.59,573.86 1603.71,566.15 1603.83,559.93 1603.96,555.32 1604.08,552.40 1604.20,551.22 1604.33,551.80 1604.45,554.15 1604.58,558.20 1604.70,563.91 1604.82,571.17 1604.95,579.85 1605.07,589.81 1605.19,600.87 1605.32,612.83 1605.44,625.50 1605.57,638.64 1605.69,652.03 1605.81,665.44 1605.94,678.62 1606.06,691.35 1606.19,703.40 1606.31,714.56 1606.43,724.63 1606.56,733.44 1606.68,740.82 1606.80,746.65 1606.93,750.83 1607.05,753.27 1607.18,753.94 1607.30,752.82 1607.42,749.92 1607.55,745.29 1607.67,739.02 1607.79,731.21 1607.92,722.00 1608.04,711.55 1608.17,700.04 1608.29,687.66 1608.41,674.65 1608.54,661.21 1608.66,647.60 1608.79,634.04 1608.91,620.78 1609.03,608.05 1609.16,596.08 1609.28,585.06 1609.40,575.21 1609.53,566.69 1609.65,559.66 1609.78,554.23 1609.90,550.51 1610.02,548.57 1610.15,548.44 1610.27,550.12 1610.39,553.60 1610.52,558.80 1610.64,565.64 1610.77,574.00 1610.89,583.74 1611.01,594.69 1611.14,606.65 1611.26,619.43 1611.38,632.78 1611.51,646.49 1611.63,660.31 1611.76,674.00 1611.88,687.31 1612.00,700.02 1612.13,711.90 1612.25,722.74 1612.38,732.35 1612.50,740.55 1612.62,747.21 1612.75,752.20 1612.87,755.43 1612.99,756.85 1613.12,756.43 1613.24,754.17 1613.37,750.11 1613.49,744.32 1613.61,736.90 1613.74,727.98 1613.86,717.71 1613.98,706.27 1614.11,693.86 1614.23,680.70 1614.36,667.01 1614.48,653.04 1614.60,639.04 1614.73,625.24 1614.85,611.90 1614.98,599.23 1615.10,587.48 1615.22,576.85 1615.35,567.51 1615.47,559.65 1615.59,553.40 1615.72,548.87 1615.84,546.14 1615.97,545.27 1616.09,546.26 1616.21,549.12 1616.34,553.78 1616.46,560.16 1616.58,568.17 1616.71,577.66 1616.83,588.46 1616.96,600.38 1617.08,613.23 1617.20,626.77 1617.33,640.77 1617.45,654.97 1617.57,669.14 1617.70,683.03 1617.82,696.38 1617.95,708.97 1618.07,720.57 1618.19,730.97 1618.32,740.00 1618.44,747.49 1618.57,753.31 1618.69,757.36 1618.81,759.55 1618.94,759.86 1619.06,758.27 1619.18,754.81 1619.31,749.54 1619.43,742.54 1619.56,733.94 1619.68,723.89 1619.80,712.56 1619.93,700.15 1620.05,686.88 1620.17,672.98 1620.30,658.69 1620.42,644.26 1620.55,629.94 1620.67,616.00 1620.79,602.66 1620.92,590.18 1621.04,578.76 1621.16,568.62 1621.29,559.92 1621.41,552.83 1621.54,547.47 1621.66,543.93 1621.78,542.29 1621.91,542.57 1622.03,544.77 1622.16,548.86 1622.28,554.76 1622.40,562.37 1622.53,571.57 1622.65,582.18 1622.77,594.04 1622.90,606.92 1623.02,620.61 1623.15,634.86 1623.27,649.43 1623.39,664.06 1623.52,678.50 1623.64,692.48 1623.76,705.76 1623.89,718.12 1624.01,729.32 1624.14,739.18 1624.26,747.51 1624.38,754.18 1624.51,759.05 1624.63,762.05 1624.76,763.11 1624.88,762.22 1625.00,759.39 1625.13,754.66 1625.25,748.13 1625.37,739.89 1625.50,730.09 1625.62,718.91 1625.75,706.54 1625.87,693.19 1625.99,679.10 1626.12,664.51 1626.24,649.68 1626.36,634.87 1626.49,620.35 1626.61,606.36 1626.74,593.15 1626.86,580.95 1626.98,569.99 1627.11,560.45 1627.23,552.51 1627.36,546.31 1627.48,541.95 1627.60,539.51 1627.73,539.05 1627.85,540.57 1627.97,544.05 1628.10,549.43 1628.22,556.62 1628.35,565.48 1628.47,575.88 1628.59,587.62 1628.72,600.51 1628.84,614.31 1628.96,628.80 1629.09,643.70 1629.21,658.77 1629.34,673.73 1629.46,688.32 1629.58,702.30 1629.71,715.40 1629.83,727.40 1629.95,738.09 1630.08,747.27 1630.20,754.79 1630.33,760.51 1630.45,764.33 1630.57,766.17 1630.70,766.01 1630.82,763.83 1630.95,759.69 1631.07,753.65 1631.19,745.81 1631.32,736.31 1631.44,725.31 1631.56,713.01 1631.69,699.61 1631.81,685.36 1631.94,670.51 1632.06,655.31 1632.18,640.03 1632.31,624.94 1632.43,610.30 1632.55,596.38 1632.68,583.41 1632.80,571.63 1632.93,561.25 1633.05,552.45 1633.17,545.39 1633.30,540.18 1633.42,536.94 1633.55,535.71 1633.67,536.52 1633.79,539.36 1633.92,544.19 1634.04,550.91 1634.16,559.41 1634.29,569.55 1634.41,581.15 1634.54,594.01 1634.66,607.90 1634.78,622.57 1634.91,637.79 1635.03,653.26 1635.15,668.73 1635.28,683.93 1635.40,698.57 1635.53,712.42 1635.65,725.21 1635.77,736.73 1635.90,746.78 1636.02,755.16 1636.14,761.74 1636.27,766.39 1636.39,769.04 1636.52,769.63 1636.64,768.15 1636.76,764.62 1636.89,759.10 1637.01,751.69 1637.14,742.52 1637.26,731.74 1637.38,719.54 1637.51,706.14 1637.63,691.76 1637.75,676.67 1637.88,661.12 1638.00,645.39 1638.13,629.76 1638.25,614.49 1638.37,599.86 1638.50,586.13 1638.62,573.54 1638.74,562.31 1638.87,552.64 1638.99,544.71 1639.12,538.64 1639.24,534.57 1639.36,532.55 1639.49,532.62 1639.61,534.80 1639.74,539.03 1639.86,545.26 1639.98,553.36 1640.11,563.21 1640.23,574.63 1640.35,587.42 1640.48,601.36 1640.60,616.21 1640.73,631.70 1640.85,647.56 1640.97,663.52 1641.10,679.30 1641.22,694.60 1641.34,709.18 1641.47,722.76 1641.59,735.12 1641.72,746.02 1641.84,755.28 1641.96,762.74 1642.09,768.25 1642.21,771.72 1642.33,773.08 1642.46,772.32 1642.58,769.43 1642.71,764.48 1642.83,757.53 1642.95,748.72 1643.08,738.19 1643.20,726.13 1643.33,712.75 1643.45,698.29 1643.57,682.98 1643.70,667.12 1643.82,650.96 1643.94,634.80 1644.07,618.92 1644.19,603.60 1644.32,589.11 1644.44,575.70 1644.56,563.62 1644.69,553.08 1644.81,544.26 1644.93,537.33 1645.06,532.40 1645.18,529.56 1645.31,528.88 1645.43,530.36 1645.55,533.97 1645.68,539.67 1645.80,547.34 1645.93,556.87 1646.05,568.07 1646.17,580.77 1646.30,594.73 1646.42,609.71 1646.54,625.45 1646.67,641.68 1646.79,658.10 1646.92,674.44 1647.04,690.40 1647.16,705.69 1647.29,720.06 1647.41,733.25 1647.53,745.02 1647.66,755.16 1647.78,763.50 1647.91,769.89 1648.03,774.20 1648.15,776.37 1648.28,776.35 1648.40,774.14 1648.52,769.77 1648.65,763.32 1648.77,754.91 1648.90,744.67 1649.02,732.78 1649.14,719.45 1649.27,704.92 1649.39,689.44 1649.52,673.28 1649.64,656.72 1649.76,640.05 1649.89,623.57 1650.01,607.57 1650.13,592.33 1650.26,578.12 1650.38,565.19 1650.51,553.76 1650.63,544.05 1650.75,536.23 1650.88,530.43 1651.00,526.76 1651.12,525.29 1651.25,526.04 1651.37,529.01 1651.50,534.15 1651.62,541.36 1651.74,550.53 1651.87,561.49 1651.99,574.05 1652.12,588.00 1652.24,603.09 1652.36,619.06 1652.49,635.62 1652.61,652.49 1652.73,669.37 1652.86,685.96 1652.98,701.97 1653.11,717.12 1653.23,731.13 1653.35,743.77 1653.48,754.81 1653.60,764.05 1653.72,771.32 1653.85,776.50 1653.97,779.49 1654.10,780.24 1654.22,778.73 1654.34,774.98 1654.47,769.06 1654.59,761.07 1654.71,751.15 1654.84,739.47 1654.96,726.23 1655.09,711.67 1655.21,696.03 1655.33,679.60 1655.46,662.66 1655.58,645.51 1655.71,628.45 1655.83,611.78 1655.95,595.79 1656.08,580.78 1656.20,566.99 1656.32,554.69 1656.45,544.08 1656.57,535.35 1656.70,528.66 1656.82,524.14 1656.94,521.86 1657.07,521.86 1657.19,524.15 1657.31,528.70 1657.44,535.42 1657.56,544.19 1657.69,554.87 1657.81,567.28 1657.93,581.18 1658.06,596.35 1658.18,612.52 1658.31,629.39 1658.43,646.69 1658.55,664.09 1658.68,681.30 1658.80,698.01 1658.92,713.93 1659.05,728.78 1659.17,742.29 1659.30,754.22 1659.42,764.37 1659.54,772.54 1659.67,778.60 1659.79,782.44 1659.91,783.98 1660.04,783.20 1660.16,780.10 1660.29,774.74 1660.41,767.21 1660.53,757.64 1660.66,746.19 1660.78,733.07 1660.90,718.50 1661.03,702.74 1661.15,686.07 1661.28,668.77 1661.40,651.16 1661.52,633.53 1661.65,616.20 1661.77,599.49 1661.90,583.67 1662.02,569.03 1662.14,555.84 1662.27,544.32 1662.39,534.68 1662.51,527.09 1662.64,521.69 1662.76,518.58 1662.89,517.81 1663.01,519.40 1663.13,523.32 1663.26,529.52 1663.38,537.87 1663.50,548.24 1663.63,560.46 1663.75,574.29 1663.88,589.51 1664.00,605.84 1664.12,623.01 1664.25,640.70 1664.37,658.61 1664.50,676.43 1664.62,693.83 1664.74,710.52 1664.87,726.19 1664.99,740.57 1665.11,753.41 1665.24,764.47 1665.36,773.56 1665.49,780.52 1665.61,785.22 1665.73,787.58 1665.86,787.55 1665.98,785.13 1666.10,780.36 1666.23,773.32 1666.35,764.13 1666.48,752.95 1666.60,739.97 1666.72,725.43 1666.85,709.58 1666.97,692.68 1667.09,675.05 1667.22,656.99 1667.34,638.81 1667.47,620.85 1667.59,603.40 1667.71,586.79 1667.84,571.31 1667.96,557.22 1668.09,544.79 1668.21,534.22 1668.33,525.72 1668.46,519.43 1668.58,515.46 1668.70,513.89 1668.83,514.75 1668.95,518.03 1669.08,523.67 1669.20,531.57 1669.32,541.60 1669.45,553.59 1669.57,567.32 1669.69,582.56 1669.82,599.04 1669.94,616.47 1670.07,634.55 1670.19,652.95 1670.31,671.35 1670.44,689.44 1670.56,706.88 1670.68,723.38 1670.81,738.63 1670.93,752.37 1671.06,764.36 1671.18,774.38 1671.30,782.26 1671.43,787.84 1671.55,791.04 1671.68,791.79 1671.80,790.07 1671.92,785.91 1672.05,779.39 1672.17,770.61 1672.29,759.73 1672.42,746.93 1672.54,732.44 1672.67,716.52 1672.79,699.43 1672.91,681.49 1673.04,663.00 1673.16,644.29 1673.28,625.69 1673.41,607.53 1673.53,590.13 1673.66,573.80 1673.78,558.82 1673.90,545.46 1674.03,533.97 1674.15,524.53 1674.28,517.33 1674.40,512.49 1674.52,510.10 1674.65,510.21 1674.77,512.81 1674.89,517.86 1675.02,525.29 1675.14,534.95 1675.27,546.69 1675.39,560.29 1675.51,575.53 1675.64,592.13 1675.76,609.80 1675.88,628.23 1676.01,647.11 1676.13,666.09 1676.26,684.84 1676.38,703.03 1676.50,720.34 1676.63,736.47 1676.75,751.13 1676.88,764.05 1677.00,775.01 1677.12,783.81 1677.25,790.30 1677.37,794.36 1677.49,795.91 1677.62,794.92 1677.74,791.40 1677.87,785.42 1677.99,777.09 1678.11,766.53 1678.24,753.94 1678.36,739.53 1678.48,723.56 1678.61,706.30 1678.73,688.07 1678.86,669.17 1678.98,649.95 1679.10,630.73 1679.23,611.87 1679.35,593.68 1679.47,576.50 1679.60,560.63 1679.72,546.35 1679.85,533.91 1679.97,523.53 1680.09,515.40 1680.22,509.67 1680.34,506.44 1680.47,505.77 1680.59,507.67 1680.71,512.12 1680.84,519.03 1680.96,528.30 1681.08,539.76 1681.21,553.20 1681.33,568.41 1681.46,585.10 1681.58,602.99 1681.70,621.76 1681.83,641.09 1681.95,660.63 1682.07,680.04 1682.20,698.98 1682.32,717.11 1682.45,734.10 1682.57,749.68 1682.69,763.54 1682.82,775.45 1682.94,785.20 1683.07,792.60 1683.19,797.54 1683.31,799.91 1683.44,799.67 1683.56,796.83 1683.68,791.42 1683.81,783.55 1683.93,773.35 1684.06,760.99 1684.18,746.69 1684.30,730.70 1684.43,713.30 1684.55,694.79 1684.67,675.51 1684.80,655.78 1684.92,635.96 1685.05,616.40 1685.17,597.44 1685.29,579.42 1685.42,562.65 1685.54,547.43 1685.66,534.04 1685.79,522.70 1685.91,513.63 1686.04,506.99 1686.16,502.90 1686.28,501.43 1686.41,502.60 1686.53,506.42 1686.66,512.80 1686.78,521.64 1686.90,532.79 1687.03,546.06 1687.15,561.20 1687.27,577.97 1687.40,596.05 1687.52,615.15 1687.65,634.91 1687.77,655.00 1687.89,675.06 1688.02,694.73 1688.14,713.67 1688.26,731.54 1688.39,748.03 1688.51,762.84 1688.64,775.71 1688.76,786.41 1688.88,794.75 1689.01,800.59 1689.13,803.80 1689.26,804.34 1689.38,802.19 1689.50,797.38 1689.63,790.00 1689.75,780.18 1689.87,768.08 1690.00,753.91 1690.12,737.92 1690.25,720.40 1690.37,701.65 1690.49,681.99 1690.62,661.78 1690.74,641.37 1690.86,621.12 1690.99,601.39 1691.11,582.52 1691.24,564.86 1691.36,548.70 1691.48,534.35 1691.61,522.05 1691.73,512.03 1691.85,504.46 1691.98,499.48 1692.10,497.19 1692.23,497.62 1692.35,500.77 1692.47,506.59 1692.60,514.99 1692.72,525.80 1692.85,538.86 1692.97,553.92 1693.09,570.73 1693.22,589.00 1693.34,608.39 1693.46,628.58 1693.59,649.20 1693.71,669.89 1693.84,690.29 1693.96,710.03 1694.08,728.78 1694.21,746.19 1694.33,761.95 1694.45,775.79 1694.58,787.47 1694.70,796.76 1694.83,803.51 1694.95,807.58 1695.07,808.92 1695.20,807.49 1695.32,803.30 1695.45,796.44 1695.57,787.02 1695.69,775.20 1695.82,761.19 1695.94,745.24 1696.06,727.62 1696.19,708.63 1696.31,688.63 1696.44,667.94 1696.56,646.95 1696.68,626.02 1696.81,605.52 1696.93,585.82 1697.05,567.25 1697.18,550.16 1697.30,534.83 1697.43,521.56 1697.55,510.57 1697.67,502.06 1697.80,496.18 1697.92,493.04 1698.04,492.70 1698.17,495.17 1698.29,500.41 1698.42,508.33 1698.54,518.79 1698.66,531.61 1698.79,546.57 1698.91,563.41 1699.04,581.83 1699.16,601.50 1699.28,622.09 1699.41,643.23 1699.53,664.55 1699.65,685.67 1699.78,706.22 1699.90,725.84 1700.03,744.17 1700.15,760.89 1700.27,775.71 1700.40,788.37 1700.52,798.62 1700.64,806.30 1700.77,811.27 1700.89,813.42 1701.02,812.73 1701.14,809.19 1701.26,802.87 1701.39,793.88 1701.51,782.37 1701.63,768.54 1701.76,752.63 1701.88,734.93 1702.01,715.74 1702.13,695.39 1702.25,674.25 1702.38,652.70 1702.50,631.10 1702.63,609.83 1702.75,589.29 1702.87,569.82 1703.00,551.78 1703.12,535.49 1703.24,521.22 1703.37,509.25 1703.49,499.78 1703.62,492.98 1703.74,488.98 1703.86,487.86 1703.99,489.62 1704.11,494.25 1704.23,501.67 1704.36,511.75 1704.48,524.32 1704.61,539.15 1704.73,555.99 1704.85,574.55 1704.98,594.49 1705.10,615.47 1705.23,637.12 1705.35,659.05 1705.47,680.89 1705.60,702.24 1705.72,722.72 1705.84,741.98 1705.97,759.67 1706.09,775.48 1706.22,789.12 1706.34,800.36 1706.46,808.99 1706.59,814.85 1706.71,817.84 1706.83,817.91 1706.96,815.04 1707.08,809.29 1707.21,800.75 1707.33,789.57 1707.45,775.94 1707.58,760.11 1707.70,742.34 1707.83,722.96 1707.95,702.29 1708.07,680.71 1708.20,658.59 1708.32,636.33 1708.44,614.31 1708.57,592.93 1708.69,572.57 1708.82,553.57 1708.94,536.30 1709.06,521.04 1709.19,508.07 1709.31,497.63 1709.43,489.89 1709.56,485.01 1709.68,483.07 1709.81,484.11 1709.93,488.11 1710.05,495.01 1710.18,504.69 1710.30,516.98 1710.42,531.66 1710.55,548.49 1710.67,567.16 1710.80,587.36 1710.92,608.71 1711.04,630.86 1711.17,653.40 1711.29,675.94 1711.42,698.09 1711.54,719.44 1711.66,739.63 1711.79,758.29 1711.91,775.09 1712.03,789.74 1712.16,801.97 1712.28,811.56 1712.41,818.35 1712.53,822.20 1712.65,823.04 1712.78,820.86 1712.90,815.70 1713.02,807.63 1713.15,796.80 1713.27,783.40 1713.40,767.66 1713.52,749.85 1713.64,730.29 1713.77,709.31 1713.89,687.30 1714.01,664.64 1714.14,641.72 1714.26,618.95 1714.39,596.73 1714.51,575.46 1714.63,555.52 1714.76,537.25 1714.88,520.99 1715.01,507.01 1715.13,495.58 1715.25,486.90 1715.38,481.12 1715.50,478.35 1715.62,478.64 1715.75,481.99 1715.87,488.35 1716.00,497.60 1716.12,509.59 1716.24,524.11 1716.37,540.91 1716.49,559.68 1716.61,580.11 1716.74,601.83 1716.86,624.46 1716.99,647.60 1717.11,670.85 1717.23,693.78 1717.36,716.01 1717.48,737.13 1717.61,756.77 1717.73,774.57 1717.85,790.23 1717.98,803.47 1718.10,814.04 1718.22,821.76 1718.35,826.49 1718.47,828.13 1718.60,826.66 1718.72,822.10 1718.84,814.53 1718.97,804.07 1719.09,790.91 1719.21,775.28 1719.34,757.44 1719.46,737.72 1719.59,716.46 1719.71,694.02 1719.83,670.82 1719.96,647.25 1720.08,623.73 1720.20,600.68 1720.33,578.51 1720.45,557.61 1720.58,538.34 1720.70,521.06 1720.82,506.07 1720.95,493.64 1721.07,483.99 1721.20,477.29 1721.32,473.67 1721.44,473.20 1721.57,475.88 1721.69,481.68 1721.81,490.49 1721.94,502.16 1722.06,516.50 1722.19,533.24 1722.31,552.10 1722.43,572.75 1722.56,594.82 1722.68,617.93 1722.80,641.66 1722.93,665.60 1723.05,689.33 1723.18,712.43 1723.30,734.49 1723.42,755.11 1723.55,773.93 1723.67,790.61 1723.80,804.86 1723.92,816.43 1724.04,825.10 1724.17,830.72 1724.29,833.18 1724.41,832.44 1724.54,828.51 1724.66,821.45 1724.79,811.38 1724.91,798.48 1725.03,782.97 1725.16,765.13 1725.28,745.26 1725.40,723.71 1725.53,700.87 1725.65,677.13 1725.78,652.92 1725.90,628.66 1726.02,604.77 1726.15,581.70 1726.27,559.83 1726.39,539.56 1726.52,521.26 1726.64,505.24 1726.77,491.79 1726.89,481.15 1727.01,473.53 1727.14,469.04 1727.26,467.78 1727.39,469.78 1727.51,474.99 1727.63,483.34 1727.76,494.68 1727.88,508.82 1728.00,525.49 1728.13,544.43 1728.25,565.28 1728.38,587.70 1728.50,611.27 1728.62,635.59 1728.75,660.23 1728.87,684.75 1728.99,708.72 1729.12,731.71 1729.24,753.32 1729.37,773.16 1729.49,790.88 1729.61,806.17 1729.74,818.74 1729.86,828.38 1729.99,834.90 1730.11,838.20 1730.23,838.21 1730.36,834.92 1730.48,828.39 1730.60,818.73 1730.73,806.11 1730.85,790.74 1730.98,772.90 1731.10,752.89 1731.22,731.08 1731.35,707.83 1731.47,683.57 1731.59,658.72 1731.72,633.71 1731.84,608.99 1731.97,585.01 1732.09,562.17 1732.21,540.89 1732.34,521.55 1732.46,504.49 1732.59,490.02 1732.71,478.39 1732.83,469.81 1732.96,464.44 1733.08,462.39 1733.20,463.68 1733.33,468.29 1733.45,476.17 1733.58,487.15 1733.70,501.07 1733.82,517.67 1733.95,536.66 1734.07,557.72 1734.19,580.46 1734.32,604.50 1734.44,629.40 1734.57,654.73 1734.69,680.04 1734.81,704.89 1734.94,728.82 1735.06,751.42 1735.18,772.29 1735.31,791.06 1735.43,807.38 1735.56,820.98 1735.68,831.60 1735.80,839.05 1735.93,843.20 1736.05,843.97 1736.18,841.34 1736.30,835.36 1736.42,826.12 1736.55,813.79 1736.67,798.58 1736.79,780.75 1736.92,760.62 1737.04,738.54 1737.17,714.91 1737.29,690.12 1737.41,664.63 1737.54,638.88 1737.66,613.33 1737.78,588.43 1737.91,564.62 1738.03,542.33 1738.16,521.95 1738.28,503.83 1738.40,488.32 1738.53,475.68 1738.65,466.14 1738.78,459.87 1738.90,457.00 1739.02,457.57 1739.15,461.57 1739.27,468.95 1739.39,479.57 1739.52,493.26 1739.64,509.77 1739.77,528.81 1739.89,550.05 1740.01,573.12 1740.14,597.61 1740.26,623.09 1740.38,649.12 1740.51,675.22 1740.63,700.94 1740.76,725.82 1740.88,749.43 1741.00,771.33 1741.13,791.15 1741.25,808.53 1741.37,823.16 1741.50,834.78 1741.62,843.17 1741.75,848.18 1741.87,849.73 1741.99,847.78 1742.12,842.36 1742.24,833.56 1742.37,821.53 1742.49,806.49 1742.61,788.69 1742.74,768.45 1742.86,746.11 1742.98,722.09 1743.11,696.79 1743.23,670.66 1743.36,644.17 1743.48,617.78 1743.60,591.97 1743.73,567.18 1743.85,543.86 1743.97,522.42 1744.10,503.24 1744.22,486.68 1744.35,473.01 1744.47,462.50 1744.59,455.32 1744.72,451.61 1744.84,451.44 1744.97,454.82 1745.09,461.69 1745.21,471.94 1745.34,485.38 1745.46,501.78 1745.58,520.87 1745.71,542.29 1745.83,565.68 1745.96,590.62 1746.08,616.68 1746.20,643.39 1746.33,670.29 1746.45,696.89 1746.57,722.73 1746.70,747.34 1746.82,770.29 1746.95,791.18 1747.07,809.63 1747.19,825.30 1747.32,837.92 1747.44,847.27 1747.56,853.17 1747.69,855.51 1747.81,854.25 1747.94,849.40 1748.06,841.05 1748.18,829.34 1748.31,814.47 1748.43,796.71 1748.56,776.36 1748.68,753.78 1748.80,729.37 1748.93,703.56 1749.05,676.80 1749.17,649.56 1749.30,622.33 1749.42,595.59 1749.55,569.82 1749.67,545.46 1749.79,522.96 1749.92,502.71 1750.04,485.08 1750.16,470.38 1750.29,458.87 1750.41,450.77 1750.54,446.21 1750.66,445.30 1750.78,448.03 1750.91,454.38 1751.03,464.24 1751.16,477.43 1751.28,493.72 1751.40,512.84 1751.53,534.43 1751.65,558.14 1751.77,583.53 1751.90,610.16 1752.02,637.57 1752.15,665.26 1752.27,692.75 1752.39,719.55 1752.52,745.18 1752.64,769.19 1752.76,791.15 1752.89,810.67 1753.01,827.41 1753.14,841.05 1753.26,851.37 1753.38,858.16 1753.51,861.30 1753.63,860.75 1753.75,856.49 1753.88,848.60 1754.00,837.22 1754.13,822.54 1754.25,804.82 1754.37,784.37 1754.50,761.54 1754.62,736.75 1754.75,710.42 1754.87,683.03 1754.99,655.04 1755.12,626.97 1755.24,599.30 1755.36,572.53 1755.49,547.13 1755.61,523.55 1755.74,502.22 1755.86,483.51 1755.98,467.76 1756.11,455.25 1756.23,446.21 1756.35,440.79 1756.48,439.11 1756.60,441.20 1756.73,447.02 1756.85,456.48 1756.97,469.40 1757.10,485.58 1757.22,504.72 1757.35,526.49 1757.47,550.50 1757.59,576.35 1757.72,603.56 1757.84,631.66 1757.96,660.15 1758.09,688.53 1758.21,716.29 1758.34,742.95 1758.46,768.03 1758.58,791.08 1758.71,811.69 1758.83,829.50 1758.95,844.18 1759.08,855.47 1759.20,863.17 1759.33,867.14 1759.45,867.29 1759.57,863.63 1759.70,856.21 1759.82,845.17 1759.94,830.68 1760.07,813.01 1760.19,792.46 1760.32,769.40 1760.44,744.22 1760.56,717.38 1760.69,689.34 1760.81,660.61 1760.94,631.68 1761.06,603.08 1761.18,575.30 1761.31,548.85 1761.43,524.19 1761.55,501.76 1761.68,481.96 1761.80,465.14 1761.93,451.62 1762.05,441.63 1762.17,435.34 1762.30,432.89 1762.42,434.31 1762.54,439.59 1762.67,448.64 1762.79,461.30 1762.92,477.35 1763.04,496.51 1763.16,518.45 1763.29,542.78 1763.41,569.07 1763.54,596.86 1763.66,625.66 1763.78,654.96 1763.91,684.24 1764.03,712.98 1764.15,740.68 1764.28,766.83 1764.40,790.98 1764.53,812.70 1764.65,831.59 1764.77,847.32 1764.90,859.60 1765.02,868.22 1765.14,873.01 1765.27,873.89 1765.39,870.84 1765.52,863.90 1765.64,853.20 1765.76,838.91 1765.89,821.29 1766.01,800.65 1766.13,777.34 1766.26,751.78 1766.38,724.42 1766.51,695.74 1766.63,666.25 1766.75,636.46 1766.88,606.91 1767.00,578.12 1767.13,550.60 1767.25,524.85 1767.37,501.31 1767.50,480.41 1767.62,462.52 1767.74,447.97 1767.87,437.01 1767.99,429.85 1768.12,426.61 1768.24,427.36 1768.36,432.09 1768.49,440.72 1768.61,453.11 1768.73,469.03 1768.86,488.21 1768.98,510.32 1769.11,534.97 1769.23,561.71 1769.35,590.09 1769.48,619.59 1769.60,649.71 1769.73,679.90 1769.85,709.63 1769.97,738.37 1770.10,765.61 1770.22,790.87 1770.34,813.70 1770.47,833.69 1770.59,850.48 1770.72,863.76 1770.84,873.31 1770.96,878.94 1771.09,880.56 1771.21,878.12 1771.33,871.67 1771.46,861.31 1771.58,847.23 1771.71,829.66 1771.83,808.92 1771.95,785.37 1772.08,759.43 1772.20,731.54 1772.32,702.21 1772.45,671.95 1772.57,641.30 1772.70,610.79 1772.82,580.98 1772.94,552.38 1773.07,525.51 1773.19,500.85 1773.32,478.84 1773.44,459.87 1773.56,444.28 1773.69,432.34 1773.81,424.29 1773.93,420.26 1774.06,420.33 1774.18,424.51 1774.31,432.72 1774.43,444.83 1774.55,460.62 1774.68,479.83 1774.80,502.11 1774.92,527.07 1775.05,554.27 1775.17,583.24 1775.30,613.46 1775.42,644.40 1775.54,675.51 1775.67,706.24 1775.79,736.04 1775.91,764.38 1776.04,790.77 1776.16,814.72 1776.29,835.82 1776.41,853.68 1776.53,867.98 1776.66,878.47 1776.78,884.95 1776.91,887.30 1777.03,885.48 1777.15,879.52 1777.28,869.51 1777.40,855.63 1777.52,838.12 1777.65,817.29 1777.77,793.49 1777.90,767.15 1778.02,738.74 1778.14,708.75 1778.27,677.71 1778.39,646.18 1778.51,614.70 1778.64,583.85 1778.76,554.17 1778.89,526.18 1779.01,500.38 1779.13,477.24 1779.26,457.17 1779.38,440.53 1779.51,427.61 1779.63,418.66 1779.75,413.83 1779.88,413.22 1780.00,416.83 1780.12,424.62 1780.25,436.46 1780.37,452.12 1780.50,471.35 1780.62,493.80 1780.74,519.09 1780.87,546.76 1780.99,576.33 1781.11,607.28 1781.24,639.05 1781.36,671.09 1781.49,702.83 1781.61,733.70 1781.73,763.16 1781.86,790.69 1781.98,815.78 1782.11,837.99 1782.23,856.94 1782.35,872.26 1782.48,883.70 1782.60,891.03 1782.72,894.14 1782.85,892.95 1782.97,887.48 1783.10,877.82 1783.22,864.14 1783.34,846.68 1783.47,825.74 1783.59,801.69 1783.71,774.95 1783.84,746.00 1783.96,715.34 1784.09,683.51 1784.21,651.09 1784.33,618.63 1784.46,586.73 1784.58,555.94 1784.70,526.82 1784.83,499.88 1784.95,475.60 1785.08,454.42 1785.20,436.71"/>
<rect x="1042.4" y="351.4" width="744.5" height="600.9" fill="none" stroke="#000" stroke-width="2.9"/>
<path d="M1116.85 952.3v-6.3M1116.85 351.4v6.3" stroke="#000" stroke-width="2.8" fill="none"/>
<path d="M1191.3 952.3v-12.2M1191.3 351.4v12.2" stroke="#000" stroke-width="2.8" fill="none"/>
<path d="M1265.75 952.3v-6.3M1265.75 351.4v6.3" stroke="#000" stroke-width="2.8" fill="none"/>
<path d="M1340.2 952.3v-12.2M1340.2 351.4v12.2" stroke="#000" stroke-width="2.8" fill="none"/>
<path d="M1414.65 952.3v-6.3M1414.65 351.4v6.3" stroke="#000" stroke-width="2.8" fill="none"/>
<path d="M1489.1 952.3v-12.2M1489.1 351.4v12.2" stroke="#000" stroke-width="2.8" fill="none"/>
<path d="M1563.55 952.3v-6.3M1563.55 351.4v6.3" stroke="#000" stroke-width="2.8" fill="none"/>
<path d="M1638 952.3v-12.2M1638 351.4v12.2" stroke="#000" stroke-width="2.8" fill="none"/>
<path d="M1712.45 952.3v-6.3M1712.45 351.4v6.3" stroke="#000" stroke-width="2.8" fill="none"/>
<path d="M1042.4 426.51h6.3M1786.9 426.51h-6.3" stroke="#000" stroke-width="2.8" fill="none"/>
<path d="M1042.4 501.62h12.2M1786.9 501.62h-12.2" stroke="#000" stroke-width="2.8" fill="none"/>
<path d="M1042.4 576.74h6.3M1786.9 576.74h-6.3" stroke="#000" stroke-width="2.8" fill="none"/>
<path d="M1042.4 651.85h12.2M1786.9 651.85h-12.2" stroke="#000" stroke-width="2.8" fill="none"/>
<path d="M1042.4 726.96h6.3M1786.9 726.96h-6.3" stroke="#000" stroke-width="2.8" fill="none"/>
<path d="M1042.4 802.07h12.2M1786.9 802.07h-12.2" stroke="#000" stroke-width="2.8" fill="none"/>
<path d="M1042.4 877.19h6.3M1786.9 877.19h-6.3" stroke="#000" stroke-width="2.8" fill="none"/>
<text transform="translate(1042.8 994.7) scale(1 1.03)" text-anchor="middle" font-family='"Liberation Sans", "DejaVu Sans", sans-serif' font-size="37">0.0</text>
<text transform="translate(1191.7 994.7) scale(1 1.03)" text-anchor="middle" font-family='"Liberation Sans", "DejaVu Sans", sans-serif' font-size="37">0.2</text>
<text transform="translate(1340.6 994.7) scale(1 1.03)" text-anchor="middle" font-family='"Liberation Sans", "DejaVu Sans", sans-serif' font-size="37">0.4</text>
<text transform="translate(1489.5 994.7) scale(1 1.03)" text-anchor="middle" font-family='"Liberation Sans", "DejaVu Sans", sans-serif' font-size="37">0.6</text>
<text transform="translate(1638.4 994.7) scale(1 1.03)" text-anchor="middle" font-family='"Liberation Sans", "DejaVu Sans", sans-serif' font-size="37">0.8</text>
<text transform="translate(1787.3 994.7) scale(1 1.03)" text-anchor="middle" font-family='"Liberation Sans", "DejaVu Sans", sans-serif' font-size="37">1.0</text>
<text transform="translate(1029.2 362.9) scale(1 1.03)" text-anchor="end" font-family='"Liberation Sans", "DejaVu Sans", sans-serif' font-size="37">4</text>
<text transform="translate(1029.2 513.12) scale(1 1.03)" text-anchor="end" font-family='"Liberation Sans", "DejaVu Sans", sans-serif' font-size="37">2</text>
<text transform="translate(1029.2 663.35) scale(1 1.03)" text-anchor="end" font-family='"Liberation Sans", "DejaVu Sans", sans-serif' font-size="37">0</text>
<text transform="translate(1029.2 813.57) scale(1 1.03)" text-anchor="end" font-family='"Liberation Sans", "DejaVu Sans", sans-serif' font-size="37">-2</text>
<text transform="translate(1029.2 963.8) scale(1 1.03)" text-anchor="end" font-family='"Liberation Sans", "DejaVu Sans", sans-serif' font-size="37">-4</text>
<text x="1420.7" y="1039" text-anchor="middle" font-family='"Liberation Serif", "DejaVu Serif", serif' font-size="37"><tspan font-style="italic">t</tspan> (s)</text>
<text transform="translate(982.5 652.6) rotate(-90)" text-anchor="middle" font-family='"Liberation Serif", "DejaVu Serif", serif' font-size="36.8"><tspan font-style="italic">u</tspan>′ (mm)</text>
<text x="1425.9" y="1095.4" text-anchor="middle" font-family='"Liberation Sans", "DejaVu Sans", sans-serif' font-size="34">(b)</text>
<text x="1075" y="914.4" font-family='"Liberation Serif", "DejaVu Serif", serif' font-size="34">Spring-Mass (<tspan font-style="italic">β</tspan>/<tspan font-style="italic">ω</tspan>=4.5×10<tspan font-size="24.5" dy="-15.6">-3</tspan><tspan dy="15.6">)</tspan></text>
</g>
</svg></body></html>
